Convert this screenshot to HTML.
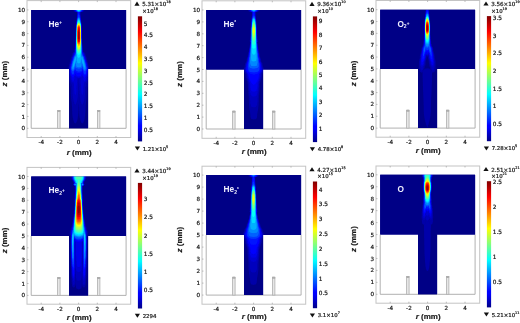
<!DOCTYPE html><html><head><meta charset="utf-8"><style>html,body{margin:0;padding:0;background:#fff;width:520px;height:323px;overflow:hidden}svg{display:block;filter:blur(0.3px)}</style></head><body><svg width="520" height="323" viewBox="0 0 520 323" font-family="'Liberation Sans', Arial, sans-serif"><style>.d{font-family:'DejaVu Sans',sans-serif;fill:#1a1a1a;stroke:#1a1a1a;stroke-width:0.22px}</style><defs><filter id="jf" x="0" y="0" width="520" height="323" filterUnits="userSpaceOnUse" color-interpolation-filters="sRGB"><feGaussianBlur stdDeviation="0.75"/><feComponentTransfer><feFuncR type="table" tableValues="0.000 0.000 0.000 0.000 0.000 0.000 0.000 0.000 0.000 0.000 0.000 0.000 0.000 0.000 0.000 0.000 0.000 0.000 0.000 0.000 0.000 0.000 0.000 0.000 0.000 0.000 0.000 0.000 0.000 0.000 0.000 0.000 0.000 0.000 0.000 0.000 0.000 0.000 0.020 0.059 0.102 0.141 0.180 0.220 0.263 0.302 0.341 0.380 0.424 0.463 0.502 0.541 0.580 0.620 0.663 0.702 0.741 0.780 0.820 0.859 0.902 0.941 0.980 1.000 1.000 1.000 1.000 1.000 1.000 1.000 1.000 1.000 1.000 1.000 1.000 1.000 1.000 1.000 1.000 1.000 1.000 1.000 1.000 1.000 1.000 1.000 1.000 1.000 0.980 0.941 0.902 0.859 0.820 0.780 0.741 0.702 0.663 0.620 0.580 0.541 0.502"/><feFuncG type="table" tableValues="0.000 0.000 0.000 0.000 0.000 0.000 0.000 0.000 0.000 0.000 0.000 0.000 0.000 0.020 0.059 0.098 0.141 0.180 0.220 0.259 0.302 0.341 0.380 0.420 0.459 0.502 0.541 0.580 0.620 0.659 0.698 0.741 0.780 0.820 0.859 0.898 0.941 0.980 1.000 1.000 1.000 1.000 1.000 1.000 1.000 1.000 1.000 1.000 1.000 1.000 1.000 1.000 1.000 1.000 1.000 1.000 1.000 1.000 1.000 1.000 1.000 1.000 1.000 0.980 0.941 0.898 0.859 0.820 0.780 0.741 0.702 0.659 0.620 0.580 0.541 0.502 0.459 0.420 0.380 0.341 0.298 0.259 0.220 0.180 0.141 0.102 0.059 0.020 0.000 0.000 0.000 0.000 0.000 0.000 0.000 0.000 0.000 0.000 0.000 0.000 0.000"/><feFuncB type="table" tableValues="0.529 0.573 0.616 0.659 0.702 0.745 0.784 0.827 0.871 0.914 0.957 1.000 1.000 1.000 1.000 1.000 1.000 1.000 1.000 1.000 1.000 1.000 1.000 1.000 1.000 1.000 1.000 1.000 1.000 1.000 1.000 1.000 1.000 1.000 1.000 1.000 1.000 1.000 0.980 0.941 0.902 0.859 0.820 0.780 0.741 0.702 0.663 0.620 0.580 0.541 0.502 0.463 0.424 0.380 0.341 0.302 0.263 0.220 0.180 0.141 0.102 0.059 0.020 0.000 0.000 0.000 0.000 0.000 0.000 0.000 0.000 0.000 0.000 0.000 0.000 0.000 0.000 0.000 0.000 0.000 0.000 0.000 0.000 0.000 0.000 0.000 0.000 0.000 0.000 0.000 0.000 0.000 0.000 0.000 0.000 0.000 0.000 0.000 0.000 0.000 0.000"/></feComponentTransfer></filter><linearGradient id="cb" x1="0" y1="0" x2="0" y2="1"><stop offset="0.000" stop-color="#800000"/><stop offset="0.125" stop-color="#ff0000"/><stop offset="0.375" stop-color="#ffff00"/><stop offset="0.500" stop-color="#80ff80"/><stop offset="0.625" stop-color="#00ffff"/><stop offset="0.875" stop-color="#0000ff"/><stop offset="0.890" stop-color="#0000ff"/><stop offset="1.000" stop-color="#000087"/></linearGradient><clipPath id="cp0"><path d="M31.20 9.90H126.10V69.10H88.10V128.30H69.00V69.10H31.20Z"/></clipPath><clipPath id="cp1"><path d="M206.20 10.00H301.10V69.50H263.10V129.00H244.00V69.50H206.20Z"/></clipPath><clipPath id="cp2"><path d="M380.20 9.70H475.10V68.90H437.10V128.10H418.00V68.90H380.20Z"/></clipPath><clipPath id="cp3"><path d="M31.20 176.50H126.10V235.95H88.10V295.40H69.00V235.95H31.20Z"/></clipPath><clipPath id="cp4"><path d="M206.20 175.10H301.10V235.10H263.10V295.10H244.00V235.10H206.20Z"/></clipPath><clipPath id="cp5"><path d="M380.20 174.80H475.10V234.55H437.10V294.30H418.00V234.55H380.20Z"/></clipPath></defs>
<rect x="27.00" y="0.60" width="103.70" height="136.90" fill="#fff" stroke="#c4c4c4" stroke-width="1"/>
<path d="M31.20 69.10 V128.30 H126.10 V69.10" fill="none" stroke="#a8a8a8" stroke-width="0.9"/>
<path d="M31.20 9.90H126.10V69.10H88.10V128.30H69.00V69.10H31.20Z" fill="#000087"/>
<g clip-path="url(#cp0)"><g filter="url(#jf)"><rect x="26.2" y="4.9" width="104.9" height="128.4" fill="#000"/><path fill="#080808" d="M72.5 8.5 72.8 9.4 73.2 10.3 73.5 11.2 75.3 12.1 78.8 12.9 78.8 12.9 82.3 12.1 84.1 11.2 84.4 10.3 84.8 9.4 85.1 8.5Z"/><path fill="#080808" d="M77.0 10.0 77.0 11.0 77.0 12.0 77.0 13.0 77.0 14.0 77.0 15.0 76.9 16.0 76.8 17.0 76.7 18.0 76.5 19.0 76.4 20.0 76.3 21.0 76.1 22.0 76.0 23.0 75.9 24.0 75.8 25.0 75.8 26.0 75.8 27.0 75.8 28.0 75.7 29.0 75.7 30.0 75.7 31.0 75.6 32.0 75.6 33.0 75.6 34.0 75.6 35.0 75.6 36.0 75.5 37.0 75.5 38.0 75.5 39.0 75.4 40.0 75.4 41.0 75.3 42.0 75.2 43.0 75.2 44.0 75.0 45.0 74.9 46.0 74.8 47.0 74.7 48.0 74.6 49.0 74.4 50.0 74.2 51.0 74.2 52.0 74.0 53.0 73.7 54.0 73.6 55.0 73.4 56.0 73.0 57.0 72.8 58.0 72.6 59.0 72.1 60.0 71.7 61.0 71.5 62.0 71.3 63.0 71.0 64.0 70.7 65.0 70.5 66.0 70.5 67.0 70.5 68.0 70.6 69.0 70.6 70.0 70.7 71.0 71.1 72.0 71.5 73.0 71.9 74.0 72.0 75.0 72.1 76.0 72.3 77.0 72.8 78.0 73.6 79.0 76.3 80.0 78.8 80.1 78.8 80.1 81.3 80.0 84.0 79.0 84.8 78.0 85.3 77.0 85.5 76.0 85.6 75.0 85.7 74.0 86.1 73.0 86.5 72.0 86.9 71.0 87.0 70.0 87.0 69.0 87.1 68.0 87.1 67.0 87.1 66.0 86.9 65.0 86.6 64.0 86.3 63.0 86.1 62.0 85.9 61.0 85.5 60.0 85.0 59.0 84.8 58.0 84.6 57.0 84.2 56.0 84.0 55.0 83.9 54.0 83.6 53.0 83.4 52.0 83.4 51.0 83.2 50.0 83.0 49.0 82.9 48.0 82.8 47.0 82.7 46.0 82.6 45.0 82.4 44.0 82.4 43.0 82.3 42.0 82.2 41.0 82.2 40.0 82.1 39.0 82.1 38.0 82.1 37.0 82.0 36.0 82.0 35.0 82.0 34.0 82.0 33.0 82.0 32.0 81.9 31.0 81.9 30.0 81.9 29.0 81.8 28.0 81.8 27.0 81.8 26.0 81.8 25.0 81.7 24.0 81.6 23.0 81.5 22.0 81.3 21.0 81.2 20.0 81.1 19.0 80.9 18.0 80.8 17.0 80.7 16.0 80.6 15.0 80.6 14.0 80.6 13.0 80.6 12.0 80.6 11.0 80.6 10.0Z"/><path fill="#080808" d="M80.1 50.5 77.9 51.0 76.6 52.0 76.4 53.0 76.3 54.0 76.5 55.0 76.8 56.0 77.2 57.0 77.3 58.0 77.5 59.0 77.9 60.0 78.2 61.0 78.4 62.0 78.6 63.0 79.0 64.0 79.2 65.0 79.4 66.0 79.8 67.0 80.0 68.0 80.0 69.0 80.1 70.0 80.3 71.0 80.3 72.0 80.3 73.0 80.3 74.0 80.3 75.0 80.4 76.0 80.4 77.0 80.5 78.0 80.5 79.0 80.5 80.0 80.6 81.0 80.7 82.0 80.8 83.0 81.0 84.0 81.1 85.0 81.1 86.0 81.3 87.0 81.5 88.0 81.9 89.0 82.7 90.0 84.3 90.7 84.3 90.7 85.9 90.0 86.7 89.0 87.1 88.0 87.3 87.0 87.5 86.0 87.5 85.0 87.7 84.0 87.9 83.0 88.1 82.0 88.4 81.0 88.6 80.0 88.7 79.0 88.7 78.0 88.8 77.0 88.9 76.0 89.1 75.0 89.2 74.0 89.2 73.0 89.3 72.0 89.3 71.0 89.3 70.0 89.2 69.0 89.2 68.0 89.0 67.0 88.7 66.0 88.6 65.0 88.4 64.0 88.0 63.0 87.8 62.0 87.6 61.0 87.2 60.0 86.8 59.0 86.7 58.0 86.4 57.0 86.0 56.0 85.5 55.0 85.3 54.0 85.0 53.0 84.2 52.0 82.4 51.0 80.1 50.5Z"/><path fill="#080808" d="M77.5 50.5 75.2 51.0 73.4 52.0 72.6 53.0 72.3 54.0 72.1 55.0 71.6 56.0 71.2 57.0 70.9 58.0 70.8 59.0 70.4 60.0 70.0 61.0 69.8 62.0 69.6 63.0 69.2 64.0 69.0 65.0 68.9 66.0 68.6 67.0 68.4 68.0 68.4 69.0 68.3 70.0 68.3 71.0 68.3 72.0 68.4 73.0 68.4 74.0 68.5 75.0 68.7 76.0 68.8 77.0 68.9 78.0 68.9 79.0 69.0 80.0 69.2 81.0 69.5 82.0 69.7 83.0 69.9 84.0 70.1 85.0 70.1 86.0 70.3 87.0 70.5 88.0 70.9 89.0 71.7 90.0 73.3 90.7 73.3 90.7 74.9 90.0 75.7 89.0 76.1 88.0 76.3 87.0 76.5 86.0 76.5 85.0 76.6 84.0 76.8 83.0 76.9 82.0 77.0 81.0 77.1 80.0 77.1 79.0 77.1 78.0 77.2 77.0 77.2 76.0 77.3 75.0 77.3 74.0 77.3 73.0 77.3 72.0 77.3 71.0 77.5 70.0 77.6 69.0 77.6 68.0 77.8 67.0 78.2 66.0 78.4 65.0 78.6 64.0 79.0 63.0 79.2 62.0 79.4 61.0 79.7 60.0 80.1 59.0 80.3 58.0 80.4 57.0 80.8 56.0 81.1 55.0 81.3 54.0 81.2 53.0 81.0 52.0 79.7 51.0 77.5 50.5Z"/><path fill="#080808" d="M82.3 65.9 81.0 66.0 78.6 67.0 77.8 68.0 77.3 69.0 77.2 70.0 77.2 71.0 77.2 72.0 77.2 73.0 77.2 74.0 77.3 75.0 77.3 76.0 77.3 77.0 77.4 78.0 77.4 79.0 77.4 80.0 77.5 81.0 77.5 82.0 77.5 83.0 77.6 84.0 77.6 85.0 77.6 86.0 77.7 87.0 77.7 88.0 77.7 89.0 77.7 90.0 77.7 91.0 77.7 92.0 77.7 93.0 77.8 94.0 77.8 95.0 77.9 96.0 78.0 97.0 78.1 98.0 78.1 99.0 78.2 100.0 78.3 101.0 78.5 102.0 78.6 103.0 78.7 104.0 78.8 105.0 78.9 106.0 79.0 107.0 79.1 108.0 79.1 109.0 79.1 110.0 79.1 111.0 79.2 112.0 79.2 113.0 79.3 114.0 79.4 115.0 79.5 116.0 79.7 117.0 79.8 118.0 80.1 119.0 80.3 120.0 80.6 121.0 81.0 122.0 81.5 123.0 82.3 123.5 82.3 123.5 83.1 123.0 83.6 122.0 84.0 121.0 84.3 120.0 84.5 119.0 84.8 118.0 84.9 117.0 85.1 116.0 85.2 115.0 85.3 114.0 85.4 113.0 85.4 112.0 85.5 111.0 85.5 110.0 85.5 109.0 85.5 108.0 85.6 107.0 85.7 106.0 85.8 105.0 85.9 104.0 86.0 103.0 86.1 102.0 86.3 101.0 86.4 100.0 86.5 99.0 86.5 98.0 86.6 97.0 86.7 96.0 86.8 95.0 86.8 94.0 86.9 93.0 86.9 92.0 86.9 91.0 86.9 90.0 86.9 89.0 86.9 88.0 86.9 87.0 87.0 86.0 87.0 85.0 87.0 84.0 87.1 83.0 87.1 82.0 87.1 81.0 87.2 80.0 87.2 79.0 87.2 78.0 87.3 77.0 87.3 76.0 87.3 75.0 87.4 74.0 87.4 73.0 87.4 72.0 87.4 71.0 87.4 70.0 87.3 69.0 86.8 68.0 86.0 67.0 83.6 66.0 82.3 65.9Z"/><path fill="#080808" d="M75.3 65.9 74.0 66.0 71.6 67.0 70.8 68.0 70.3 69.0 70.2 70.0 70.2 71.0 70.2 72.0 70.2 73.0 70.2 74.0 70.3 75.0 70.3 76.0 70.3 77.0 70.4 78.0 70.4 79.0 70.4 80.0 70.5 81.0 70.5 82.0 70.5 83.0 70.6 84.0 70.6 85.0 70.6 86.0 70.7 87.0 70.7 88.0 70.7 89.0 70.7 90.0 70.7 91.0 70.7 92.0 70.7 93.0 70.8 94.0 70.8 95.0 70.9 96.0 71.0 97.0 71.1 98.0 71.1 99.0 71.2 100.0 71.3 101.0 71.5 102.0 71.6 103.0 71.7 104.0 71.8 105.0 71.9 106.0 72.0 107.0 72.1 108.0 72.1 109.0 72.1 110.0 72.1 111.0 72.2 112.0 72.2 113.0 72.3 114.0 72.4 115.0 72.5 116.0 72.7 117.0 72.8 118.0 73.1 119.0 73.3 120.0 73.6 121.0 74.0 122.0 74.5 123.0 75.3 123.5 75.3 123.5 76.1 123.0 76.6 122.0 77.0 121.0 77.3 120.0 77.5 119.0 77.8 118.0 77.9 117.0 78.1 116.0 78.2 115.0 78.3 114.0 78.4 113.0 78.4 112.0 78.5 111.0 78.5 110.0 78.5 109.0 78.5 108.0 78.6 107.0 78.7 106.0 78.8 105.0 78.9 104.0 79.0 103.0 79.1 102.0 79.3 101.0 79.4 100.0 79.5 99.0 79.5 98.0 79.6 97.0 79.7 96.0 79.8 95.0 79.8 94.0 79.9 93.0 79.9 92.0 79.9 91.0 79.9 90.0 79.9 89.0 79.9 88.0 79.9 87.0 80.0 86.0 80.0 85.0 80.0 84.0 80.1 83.0 80.1 82.0 80.1 81.0 80.2 80.0 80.2 79.0 80.2 78.0 80.3 77.0 80.3 76.0 80.3 75.0 80.4 74.0 80.4 73.0 80.4 72.0 80.4 71.0 80.4 70.0 80.3 69.0 79.8 68.0 79.0 67.0 76.6 66.0 75.3 65.9Z"/><path fill="#0d0d0d" d="M73.3 8.5 73.5 9.4 73.9 10.3 74.2 11.2 76.0 12.1 78.8 12.7 78.8 12.7 81.6 12.1 83.4 11.2 83.7 10.3 84.1 9.4 84.3 8.5Z"/><path fill="#0d0d0d" d="M77.3 10.0 77.3 11.0 77.3 12.0 77.3 13.0 77.3 14.0 77.2 15.0 77.1 16.0 77.0 17.0 76.9 18.0 76.7 19.0 76.6 20.0 76.5 21.0 76.4 22.0 76.2 23.0 76.1 24.0 76.0 25.0 76.0 26.0 76.0 27.0 75.9 28.0 75.9 29.0 75.9 30.0 75.9 31.0 75.8 32.0 75.8 33.0 75.8 34.0 75.8 35.0 75.8 36.0 75.7 37.0 75.7 38.0 75.7 39.0 75.6 40.0 75.6 41.0 75.6 42.0 75.5 43.0 75.4 44.0 75.3 45.0 75.2 46.0 75.1 47.0 75.0 48.0 74.9 49.0 74.8 50.0 74.6 51.0 74.5 52.0 74.4 53.0 74.1 54.0 74.0 55.0 73.9 56.0 73.5 57.0 73.3 58.0 73.1 59.0 72.7 60.0 72.3 61.0 72.2 62.0 72.0 63.0 71.7 64.0 71.5 65.0 71.3 66.0 71.4 67.0 71.4 68.0 71.5 69.0 71.6 70.0 71.7 71.0 72.1 72.0 72.5 73.0 72.9 74.0 73.1 75.0 73.2 76.0 73.6 77.0 74.3 78.0 76.4 79.0 78.8 79.2 78.8 79.2 81.2 79.0 83.3 78.0 84.0 77.0 84.4 76.0 84.5 75.0 84.7 74.0 85.1 73.0 85.5 72.0 85.9 71.0 86.0 70.0 86.1 69.0 86.2 68.0 86.2 67.0 86.3 66.0 86.1 65.0 85.9 64.0 85.6 63.0 85.4 62.0 85.3 61.0 84.9 60.0 84.5 59.0 84.3 58.0 84.1 57.0 83.7 56.0 83.6 55.0 83.5 54.0 83.2 53.0 83.1 52.0 83.0 51.0 82.8 50.0 82.7 49.0 82.6 48.0 82.5 47.0 82.4 46.0 82.3 45.0 82.2 44.0 82.1 43.0 82.0 42.0 82.0 41.0 82.0 40.0 81.9 39.0 81.9 38.0 81.9 37.0 81.8 36.0 81.8 35.0 81.8 34.0 81.8 33.0 81.8 32.0 81.7 31.0 81.7 30.0 81.7 29.0 81.7 28.0 81.6 27.0 81.6 26.0 81.6 25.0 81.5 24.0 81.4 23.0 81.2 22.0 81.1 21.0 81.0 20.0 80.9 19.0 80.7 18.0 80.6 17.0 80.5 16.0 80.4 15.0 80.3 14.0 80.3 13.0 80.3 12.0 80.3 11.0 80.3 10.0Z"/><path fill="#0d0d0d" d="M80.4 51.0 77.4 52.0 77.1 53.0 77.0 54.0 77.2 55.0 77.5 56.0 77.8 57.0 78.0 58.0 78.2 59.0 78.5 60.0 78.9 61.0 79.1 62.0 79.3 63.0 79.7 64.0 79.9 65.0 80.1 66.0 80.5 67.0 80.7 68.0 80.7 69.0 80.8 70.0 81.0 71.0 81.1 72.0 81.1 73.0 81.1 74.0 81.2 75.0 81.3 76.0 81.4 77.0 81.5 78.0 81.5 79.0 81.6 80.0 81.7 81.0 81.9 82.0 82.2 83.0 82.5 84.0 82.7 85.0 82.8 86.0 83.2 87.0 84.3 87.9 84.3 87.9 85.4 87.0 85.8 86.0 85.9 85.0 86.1 84.0 86.5 83.0 86.9 82.0 87.2 81.0 87.5 80.0 87.7 79.0 87.7 78.0 87.8 77.0 88.0 76.0 88.2 75.0 88.4 74.0 88.5 73.0 88.5 72.0 88.5 71.0 88.6 70.0 88.6 69.0 88.5 68.0 88.4 67.0 88.1 66.0 87.9 65.0 87.7 64.0 87.3 63.0 87.1 62.0 87.0 61.0 86.6 60.0 86.2 59.0 86.0 58.0 85.8 57.0 85.3 56.0 84.8 55.0 84.6 54.0 84.3 53.0 83.4 52.0 80.4 51.0Z"/><path fill="#0d0d0d" d="M77.2 51.0 74.2 52.0 73.3 53.0 73.0 54.0 72.8 55.0 72.3 56.0 71.8 57.0 71.6 58.0 71.4 59.0 71.0 60.0 70.6 61.0 70.5 62.0 70.3 63.0 69.9 64.0 69.7 65.0 69.5 66.0 69.2 67.0 69.1 68.0 69.0 69.0 69.0 70.0 69.1 71.0 69.1 72.0 69.1 73.0 69.2 74.0 69.4 75.0 69.6 76.0 69.8 77.0 69.9 78.0 69.9 79.0 70.1 80.0 70.4 81.0 70.7 82.0 71.1 83.0 71.5 84.0 71.7 85.0 71.8 86.0 72.2 87.0 73.3 87.9 73.3 87.9 74.4 87.0 74.8 86.0 74.9 85.0 75.1 84.0 75.4 83.0 75.7 82.0 75.9 81.0 76.0 80.0 76.1 79.0 76.1 78.0 76.2 77.0 76.3 76.0 76.4 75.0 76.5 74.0 76.5 73.0 76.5 72.0 76.6 71.0 76.8 70.0 76.9 69.0 76.9 68.0 77.1 67.0 77.5 66.0 77.7 65.0 77.9 64.0 78.3 63.0 78.5 62.0 78.7 61.0 79.1 60.0 79.4 59.0 79.6 58.0 79.8 57.0 80.1 56.0 80.4 55.0 80.6 54.0 80.5 53.0 80.2 52.0 77.2 51.0Z"/><path fill="#0d0d0d" d="M82.3 66.9 81.3 67.0 79.4 68.0 78.8 69.0 78.6 70.0 78.6 71.0 78.6 72.0 78.7 73.0 78.7 74.0 78.7 75.0 78.7 76.0 78.8 77.0 78.8 78.0 78.9 79.0 78.9 80.0 79.0 81.0 79.0 82.0 79.1 83.0 79.2 84.0 79.2 85.0 79.2 86.0 79.3 87.0 79.3 88.0 79.3 89.0 79.3 90.0 79.4 91.0 79.4 92.0 79.4 93.0 79.5 94.0 79.6 95.0 79.7 96.0 79.8 97.0 79.9 98.0 80.1 99.0 80.3 100.0 80.5 101.0 80.8 102.0 81.1 103.0 81.5 104.0 82.3 104.8 82.3 104.8 83.1 104.0 83.5 103.0 83.8 102.0 84.1 101.0 84.3 100.0 84.5 99.0 84.7 98.0 84.8 97.0 84.9 96.0 85.0 95.0 85.1 94.0 85.2 93.0 85.2 92.0 85.2 91.0 85.3 90.0 85.3 89.0 85.3 88.0 85.3 87.0 85.4 86.0 85.4 85.0 85.4 84.0 85.5 83.0 85.6 82.0 85.6 81.0 85.7 80.0 85.7 79.0 85.8 78.0 85.8 77.0 85.9 76.0 85.9 75.0 85.9 74.0 85.9 73.0 86.0 72.0 86.0 71.0 86.0 70.0 85.8 69.0 85.2 68.0 83.3 67.0 82.3 66.9Z"/><path fill="#0d0d0d" d="M75.3 66.9 74.3 67.0 72.4 68.0 71.8 69.0 71.6 70.0 71.6 71.0 71.6 72.0 71.7 73.0 71.7 74.0 71.7 75.0 71.7 76.0 71.8 77.0 71.8 78.0 71.9 79.0 71.9 80.0 72.0 81.0 72.0 82.0 72.1 83.0 72.2 84.0 72.2 85.0 72.2 86.0 72.3 87.0 72.3 88.0 72.3 89.0 72.3 90.0 72.4 91.0 72.4 92.0 72.4 93.0 72.5 94.0 72.6 95.0 72.7 96.0 72.8 97.0 72.9 98.0 73.1 99.0 73.3 100.0 73.5 101.0 73.8 102.0 74.1 103.0 74.5 104.0 75.3 104.8 75.3 104.8 76.1 104.0 76.5 103.0 76.8 102.0 77.1 101.0 77.3 100.0 77.5 99.0 77.7 98.0 77.8 97.0 77.9 96.0 78.0 95.0 78.1 94.0 78.2 93.0 78.2 92.0 78.2 91.0 78.3 90.0 78.3 89.0 78.3 88.0 78.3 87.0 78.4 86.0 78.4 85.0 78.4 84.0 78.5 83.0 78.6 82.0 78.6 81.0 78.7 80.0 78.7 79.0 78.8 78.0 78.8 77.0 78.9 76.0 78.9 75.0 78.9 74.0 78.9 73.0 79.0 72.0 79.0 71.0 79.0 70.0 78.8 69.0 78.2 68.0 76.3 67.0 75.3 66.9Z"/><path fill="#121212" d="M73.8 8.5 74.0 9.4 74.4 10.3 74.7 11.2 76.6 12.1 78.8 12.6 78.8 12.6 81.0 12.1 82.9 11.2 83.2 10.3 83.6 9.4 83.8 8.5Z"/><path fill="#121212" d="M77.5 10.0 77.4 11.0 77.4 12.0 77.4 13.0 77.4 14.0 77.4 15.0 77.2 16.0 77.2 17.0 77.0 18.0 76.9 19.0 76.8 20.0 76.6 21.0 76.5 22.0 76.4 23.0 76.2 24.0 76.2 25.0 76.1 26.0 76.1 27.0 76.1 28.0 76.1 29.0 76.0 30.0 76.0 31.0 76.0 32.0 76.0 33.0 75.9 34.0 75.9 35.0 75.9 36.0 75.9 37.0 75.9 38.0 75.8 39.0 75.8 40.0 75.7 41.0 75.7 42.0 75.6 43.0 75.6 44.0 75.4 45.0 75.4 46.0 75.3 47.0 75.2 48.0 75.1 49.0 75.0 50.0 74.8 51.0 74.8 52.0 74.6 53.0 74.4 54.0 74.4 55.0 74.2 56.0 73.9 57.0 73.7 58.0 73.5 59.0 73.2 60.0 72.8 61.0 72.6 62.0 72.5 63.0 72.3 64.0 72.0 65.0 71.9 66.0 72.0 67.0 72.1 68.0 72.2 69.0 72.3 70.0 72.4 71.0 72.8 72.0 73.3 73.0 73.8 74.0 74.0 75.0 74.2 76.0 74.7 77.0 76.1 78.0 78.8 78.3 78.8 78.3 81.5 78.0 82.9 77.0 83.4 76.0 83.6 75.0 83.8 74.0 84.3 73.0 84.8 72.0 85.2 71.0 85.3 70.0 85.4 69.0 85.5 68.0 85.6 67.0 85.7 66.0 85.6 65.0 85.3 64.0 85.1 63.0 85.0 62.0 84.8 61.0 84.4 60.0 84.1 59.0 83.9 58.0 83.7 57.0 83.4 56.0 83.2 55.0 83.2 54.0 83.0 53.0 82.8 52.0 82.8 51.0 82.6 50.0 82.5 49.0 82.4 48.0 82.3 47.0 82.2 46.0 82.2 45.0 82.0 44.0 82.0 43.0 81.9 42.0 81.9 41.0 81.8 40.0 81.8 39.0 81.7 38.0 81.7 37.0 81.7 36.0 81.7 35.0 81.7 34.0 81.6 33.0 81.6 32.0 81.6 31.0 81.6 30.0 81.5 29.0 81.5 28.0 81.5 27.0 81.5 26.0 81.4 25.0 81.4 24.0 81.2 23.0 81.1 22.0 81.0 21.0 80.8 20.0 80.7 19.0 80.6 18.0 80.4 17.0 80.4 16.0 80.2 15.0 80.2 14.0 80.2 13.0 80.2 12.0 80.2 11.0 80.1 10.0Z"/><path fill="#121212" d="M80.4 51.3 78.0 52.0 77.6 53.0 77.5 54.0 77.6 55.0 77.9 56.0 78.3 57.0 78.4 58.0 78.6 59.0 78.9 60.0 79.3 61.0 79.5 62.0 79.7 63.0 80.1 64.0 80.3 65.0 80.5 66.0 80.9 67.0 81.1 68.0 81.2 69.0 81.3 70.0 81.5 71.0 81.6 72.0 81.6 73.0 81.7 74.0 81.8 75.0 82.0 76.0 82.2 77.0 82.3 78.0 82.3 79.0 82.4 80.0 82.7 81.0 83.1 82.0 84.4 83.0 84.4 83.0 85.7 82.0 86.3 81.0 86.6 80.0 86.8 79.0 86.9 78.0 87.1 77.0 87.4 76.0 87.6 75.0 87.8 74.0 87.9 73.0 88.0 72.0 88.0 71.0 88.1 70.0 88.1 69.0 88.1 68.0 87.9 67.0 87.7 66.0 87.5 65.0 87.3 64.0 86.9 63.0 86.7 62.0 86.5 61.0 86.2 60.0 85.8 59.0 85.6 58.0 85.4 57.0 84.9 56.0 84.4 55.0 84.1 54.0 83.8 53.0 82.8 52.0 80.4 51.3Z"/><path fill="#121212" d="M77.2 51.3 74.8 52.0 73.8 53.0 73.5 54.0 73.2 55.0 72.7 56.0 72.2 57.0 72.0 58.0 71.8 59.0 71.4 60.0 71.1 61.0 70.9 62.0 70.7 63.0 70.3 64.0 70.1 65.0 69.9 66.0 69.7 67.0 69.5 68.0 69.5 69.0 69.5 70.0 69.6 71.0 69.6 72.0 69.7 73.0 69.8 74.0 70.0 75.0 70.2 76.0 70.5 77.0 70.7 78.0 70.8 79.0 71.0 80.0 71.3 81.0 71.9 82.0 73.2 83.0 73.2 83.0 74.5 82.0 74.9 81.0 75.2 80.0 75.3 79.0 75.3 78.0 75.4 77.0 75.6 76.0 75.8 75.0 75.9 74.0 76.0 73.0 76.0 72.0 76.1 71.0 76.3 70.0 76.4 69.0 76.5 68.0 76.7 67.0 77.1 66.0 77.3 65.0 77.5 64.0 77.9 63.0 78.1 62.0 78.3 61.0 78.7 60.0 79.0 59.0 79.2 58.0 79.3 57.0 79.7 56.0 80.0 55.0 80.1 54.0 80.0 53.0 79.6 52.0 77.2 51.3Z"/><path fill="#121212" d="M82.3 67.9 81.4 68.0 80.1 69.0 79.8 70.0 79.8 71.0 79.8 72.0 79.8 73.0 79.9 74.0 79.9 75.0 80.0 76.0 80.1 77.0 80.1 78.0 80.2 79.0 80.3 80.0 80.4 81.0 80.5 82.0 80.6 83.0 80.7 84.0 80.8 85.0 80.9 86.0 81.0 87.0 81.0 88.0 81.1 89.0 81.1 90.0 81.1 91.0 81.2 92.0 81.3 93.0 81.6 94.0 82.0 95.0 82.3 95.2 82.3 95.2 82.6 95.0 83.0 94.0 83.3 93.0 83.4 92.0 83.5 91.0 83.5 90.0 83.5 89.0 83.6 88.0 83.6 87.0 83.7 86.0 83.8 85.0 83.9 84.0 84.0 83.0 84.1 82.0 84.2 81.0 84.3 80.0 84.4 79.0 84.5 78.0 84.5 77.0 84.6 76.0 84.7 75.0 84.7 74.0 84.8 73.0 84.8 72.0 84.8 71.0 84.8 70.0 84.5 69.0 83.2 68.0 82.3 67.9Z"/><path fill="#121212" d="M75.3 67.9 74.4 68.0 73.1 69.0 72.8 70.0 72.8 71.0 72.8 72.0 72.8 73.0 72.9 74.0 72.9 75.0 73.0 76.0 73.1 77.0 73.1 78.0 73.2 79.0 73.3 80.0 73.4 81.0 73.5 82.0 73.6 83.0 73.7 84.0 73.8 85.0 73.9 86.0 74.0 87.0 74.0 88.0 74.1 89.0 74.1 90.0 74.1 91.0 74.2 92.0 74.3 93.0 74.6 94.0 75.0 95.0 75.3 95.2 75.3 95.2 75.6 95.0 76.0 94.0 76.3 93.0 76.4 92.0 76.5 91.0 76.5 90.0 76.5 89.0 76.6 88.0 76.6 87.0 76.7 86.0 76.8 85.0 76.9 84.0 77.0 83.0 77.1 82.0 77.2 81.0 77.3 80.0 77.4 79.0 77.5 78.0 77.5 77.0 77.6 76.0 77.7 75.0 77.7 74.0 77.8 73.0 77.8 72.0 77.8 71.0 77.8 70.0 77.5 69.0 76.2 68.0 75.3 67.9Z"/><path fill="#171717" d="M74.2 8.5 74.4 9.4 74.7 10.3 75.1 11.2 77.0 12.1 78.8 12.5 78.8 12.5 80.6 12.1 82.5 11.2 82.9 10.3 83.2 9.4 83.4 8.5Z"/><path fill="#171717" d="M77.6 10.0 77.6 11.0 77.6 12.0 77.6 13.0 77.6 14.0 77.5 15.0 77.4 16.0 77.3 17.0 77.2 18.0 77.0 19.0 76.9 20.0 76.8 21.0 76.6 22.0 76.5 23.0 76.4 24.0 76.3 25.0 76.2 26.0 76.2 27.0 76.2 28.0 76.2 29.0 76.1 30.0 76.1 31.0 76.1 32.0 76.1 33.0 76.0 34.0 76.0 35.0 76.0 36.0 76.0 37.0 76.0 38.0 75.9 39.0 75.9 40.0 75.8 41.0 75.8 42.0 75.7 43.0 75.7 44.0 75.6 45.0 75.5 46.0 75.4 47.0 75.3 48.0 75.3 49.0 75.2 50.0 75.0 51.0 75.0 52.0 74.8 53.0 74.7 54.0 74.6 55.0 74.5 56.0 74.2 57.0 74.0 58.0 73.9 59.0 73.5 60.0 73.2 61.0 73.0 62.0 72.9 63.0 72.7 64.0 72.5 65.0 72.4 66.0 72.5 67.0 72.6 68.0 72.8 69.0 72.9 70.0 73.1 71.0 73.5 72.0 74.1 73.0 74.6 74.0 74.9 75.0 75.2 76.0 76.2 77.0 78.8 77.4 78.8 77.4 81.4 77.0 82.4 76.0 82.7 75.0 83.0 74.0 83.5 73.0 84.1 72.0 84.5 71.0 84.7 70.0 84.8 69.0 85.0 68.0 85.1 67.0 85.2 66.0 85.1 65.0 84.9 64.0 84.7 63.0 84.6 62.0 84.4 61.0 84.1 60.0 83.7 59.0 83.6 58.0 83.4 57.0 83.1 56.0 83.0 55.0 82.9 54.0 82.8 53.0 82.6 52.0 82.6 51.0 82.4 50.0 82.3 49.0 82.3 48.0 82.2 47.0 82.1 46.0 82.0 45.0 81.9 44.0 81.9 43.0 81.8 42.0 81.8 41.0 81.7 40.0 81.7 39.0 81.6 38.0 81.6 37.0 81.6 36.0 81.6 35.0 81.6 34.0 81.5 33.0 81.5 32.0 81.5 31.0 81.5 30.0 81.4 29.0 81.4 28.0 81.4 27.0 81.4 26.0 81.3 25.0 81.2 24.0 81.1 23.0 81.0 22.0 80.8 21.0 80.7 20.0 80.6 19.0 80.4 18.0 80.3 17.0 80.2 16.0 80.1 15.0 80.0 14.0 80.0 13.0 80.0 12.0 80.0 11.0 80.0 10.0Z"/><path fill="#171717" d="M80.4 51.5 78.6 52.0 77.9 53.0 77.8 54.0 78.0 55.0 78.3 56.0 78.6 57.0 78.7 58.0 78.9 59.0 79.3 60.0 79.6 61.0 79.8 62.0 80.0 63.0 80.4 64.0 80.6 65.0 80.9 66.0 81.2 67.0 81.4 68.0 81.5 69.0 81.7 70.0 81.9 71.0 82.0 72.0 82.1 73.0 82.1 74.0 82.3 75.0 82.6 76.0 82.9 77.0 83.1 78.0 83.1 79.0 83.4 80.0 84.3 81.0 84.4 81.0 84.4 81.0 84.7 81.0 85.7 80.0 86.0 79.0 86.1 78.0 86.3 77.0 86.7 76.0 87.1 75.0 87.4 74.0 87.5 73.0 87.6 72.0 87.6 71.0 87.7 70.0 87.8 69.0 87.8 68.0 87.6 67.0 87.3 66.0 87.2 65.0 87.0 64.0 86.6 63.0 86.4 62.0 86.2 61.0 85.8 60.0 85.4 59.0 85.3 58.0 85.0 57.0 84.5 56.0 84.0 55.0 83.8 54.0 83.4 53.0 82.2 52.0 80.4 51.5Z"/><path fill="#171717" d="M77.2 51.5 75.4 52.0 74.2 53.0 73.8 54.0 73.6 55.0 73.1 56.0 72.6 57.0 72.3 58.0 72.2 59.0 71.8 60.0 71.4 61.0 71.2 62.0 71.0 63.0 70.6 64.0 70.4 65.0 70.3 66.0 70.0 67.0 69.8 68.0 69.8 69.0 69.9 70.0 70.0 71.0 70.0 72.0 70.1 73.0 70.2 74.0 70.5 75.0 70.9 76.0 71.3 77.0 71.5 78.0 71.6 79.0 71.9 80.0 72.9 81.0 73.2 81.0 73.2 81.0 73.3 81.0 74.2 80.0 74.5 79.0 74.5 78.0 74.7 77.0 75.0 76.0 75.3 75.0 75.5 74.0 75.5 73.0 75.6 72.0 75.7 71.0 75.9 70.0 76.1 69.0 76.2 68.0 76.4 67.0 76.7 66.0 77.0 65.0 77.2 64.0 77.6 63.0 77.8 62.0 78.0 61.0 78.3 60.0 78.7 59.0 78.9 58.0 79.0 57.0 79.3 56.0 79.6 55.0 79.8 54.0 79.7 53.0 79.0 52.0 77.2 51.5Z"/><path fill="#171717" d="M82.3 69.2 81.3 70.0 81.3 71.0 81.3 72.0 81.4 73.0 81.5 74.0 81.7 75.0 81.9 76.0 82.3 76.5 82.3 76.5 82.7 76.0 82.9 75.0 83.1 74.0 83.2 73.0 83.3 72.0 83.3 71.0 83.3 70.0 82.3 69.2Z"/><path fill="#171717" d="M75.3 69.2 74.3 70.0 74.3 71.0 74.3 72.0 74.4 73.0 74.5 74.0 74.7 75.0 74.9 76.0 75.3 76.5 75.3 76.5 75.7 76.0 75.9 75.0 76.1 74.0 76.2 73.0 76.3 72.0 76.3 71.0 76.3 70.0 75.3 69.2Z"/><path fill="#1d1d1d" d="M74.6 8.5 74.7 9.4 75.1 10.3 75.4 11.2 77.5 12.1 78.8 12.3 78.8 12.3 80.1 12.1 82.2 11.2 82.5 10.3 82.9 9.4 83.0 8.5Z"/><path fill="#1d1d1d" d="M77.8 10.0 77.8 11.0 77.7 12.0 77.7 13.0 77.7 14.0 77.6 15.0 77.5 16.0 77.5 17.0 77.3 18.0 77.1 19.0 77.0 20.0 76.9 21.0 76.7 22.0 76.6 23.0 76.4 24.0 76.4 25.0 76.3 26.0 76.3 27.0 76.3 28.0 76.2 29.0 76.2 30.0 76.2 31.0 76.1 32.0 76.1 33.0 76.1 34.0 76.1 35.0 76.1 36.0 76.1 37.0 76.1 38.0 76.0 39.0 76.0 40.0 75.9 41.0 75.9 42.0 75.9 43.0 75.8 44.0 75.7 45.0 75.7 46.0 75.6 47.0 75.5 48.0 75.4 49.0 75.3 50.0 75.2 51.0 75.2 52.0 75.0 53.0 74.9 54.0 74.8 55.0 74.7 56.0 74.4 57.0 74.3 58.0 74.1 59.0 73.8 60.0 73.5 61.0 73.4 62.0 73.3 63.0 73.1 64.0 72.9 65.0 72.8 66.0 72.9 67.0 73.1 68.0 73.4 69.0 73.5 70.0 73.7 71.0 74.2 72.0 74.9 73.0 75.7 74.0 76.2 75.0 76.9 76.0 78.8 76.2 78.8 76.2 80.7 76.0 81.4 75.0 81.9 74.0 82.7 73.0 83.4 72.0 83.9 71.0 84.1 70.0 84.2 69.0 84.5 68.0 84.7 67.0 84.8 66.0 84.7 65.0 84.5 64.0 84.3 63.0 84.2 62.0 84.1 61.0 83.8 60.0 83.5 59.0 83.3 58.0 83.2 57.0 82.9 56.0 82.8 55.0 82.7 54.0 82.6 53.0 82.4 52.0 82.4 51.0 82.3 50.0 82.2 49.0 82.1 48.0 82.0 47.0 81.9 46.0 81.9 45.0 81.8 44.0 81.7 43.0 81.7 42.0 81.7 41.0 81.6 40.0 81.6 39.0 81.5 38.0 81.5 37.0 81.5 36.0 81.5 35.0 81.5 34.0 81.5 33.0 81.5 32.0 81.4 31.0 81.4 30.0 81.4 29.0 81.3 28.0 81.3 27.0 81.3 26.0 81.2 25.0 81.2 24.0 81.0 23.0 80.9 22.0 80.7 21.0 80.6 20.0 80.5 19.0 80.3 18.0 80.1 17.0 80.1 16.0 80.0 15.0 79.9 14.0 79.9 13.0 79.9 12.0 79.8 11.0 79.8 10.0Z"/><path fill="#1d1d1d" d="M80.4 51.8 79.2 52.0 78.3 53.0 78.2 54.0 78.3 55.0 78.6 56.0 78.9 57.0 79.0 58.0 79.2 59.0 79.6 60.0 79.9 61.0 80.1 62.0 80.3 63.0 80.7 64.0 80.9 65.0 81.1 66.0 81.5 67.0 81.7 68.0 81.8 69.0 82.0 70.0 82.3 71.0 82.4 72.0 82.5 73.0 82.6 74.0 82.8 75.0 83.2 76.0 83.8 77.0 84.6 78.0 84.6 78.0 85.4 77.0 86.1 76.0 86.6 75.0 86.9 74.0 87.1 73.0 87.2 72.0 87.3 71.0 87.4 70.0 87.5 69.0 87.5 68.0 87.3 67.0 87.0 66.0 86.9 65.0 86.7 64.0 86.3 63.0 86.1 62.0 85.9 61.0 85.5 60.0 85.1 59.0 85.0 58.0 84.7 57.0 84.2 56.0 83.7 55.0 83.4 54.0 83.1 53.0 81.6 52.0 80.4 51.8Z"/><path fill="#1d1d1d" d="M77.2 51.8 76.0 52.0 74.5 53.0 74.2 54.0 73.9 55.0 73.4 56.0 72.9 57.0 72.6 58.0 72.5 59.0 72.1 60.0 71.7 61.0 71.5 62.0 71.3 63.0 70.9 64.0 70.7 65.0 70.6 66.0 70.3 67.0 70.1 68.0 70.1 69.0 70.2 70.0 70.3 71.0 70.4 72.0 70.5 73.0 70.7 74.0 71.0 75.0 71.5 76.0 72.2 77.0 73.0 78.0 73.0 78.0 73.8 77.0 74.4 76.0 74.8 75.0 75.0 74.0 75.1 73.0 75.2 72.0 75.3 71.0 75.6 70.0 75.8 69.0 75.9 68.0 76.1 67.0 76.5 66.0 76.7 65.0 76.9 64.0 77.3 63.0 77.5 62.0 77.7 61.0 78.0 60.0 78.4 59.0 78.6 58.0 78.7 57.0 79.0 56.0 79.3 55.0 79.4 54.0 79.3 53.0 78.4 52.0 77.2 51.8Z"/><path fill="#252525" d="M75.0 8.5 75.2 9.4 75.5 10.3 75.8 11.2 78.5 12.1 78.8 12.1 78.8 12.1 79.1 12.1 81.8 11.2 82.1 10.3 82.4 9.4 82.6 8.5Z"/><path fill="#252525" d="M78.1 10.0 78.1 11.0 78.0 12.0 78.0 13.0 78.0 14.0 77.9 15.0 77.7 16.0 77.7 17.0 77.4 18.0 77.3 19.0 77.1 20.0 77.0 21.0 76.8 22.0 76.7 23.0 76.6 24.0 76.5 25.0 76.4 26.0 76.4 27.0 76.4 28.0 76.3 29.0 76.3 30.0 76.3 31.0 76.3 32.0 76.2 33.0 76.2 34.0 76.2 35.0 76.2 36.0 76.2 37.0 76.2 38.0 76.1 39.0 76.1 40.0 76.1 41.0 76.0 42.0 76.0 43.0 75.9 44.0 75.8 45.0 75.8 46.0 75.7 47.0 75.7 48.0 75.6 49.0 75.5 50.0 75.4 51.0 75.4 52.0 75.3 53.0 75.2 54.0 75.1 55.0 75.0 56.0 74.8 57.0 74.7 58.0 74.5 59.0 74.3 60.0 74.0 61.0 73.9 62.0 73.8 63.0 73.7 64.0 73.5 65.0 73.4 66.0 73.5 67.0 73.8 68.0 74.2 69.0 74.5 70.0 74.7 71.0 75.4 72.0 76.9 73.0 78.8 73.3 78.8 73.3 80.7 73.0 82.2 72.0 82.9 71.0 83.1 70.0 83.4 69.0 83.8 68.0 84.1 67.0 84.2 66.0 84.1 65.0 83.9 64.0 83.8 63.0 83.7 62.0 83.6 61.0 83.3 60.0 83.1 59.0 82.9 58.0 82.8 57.0 82.6 56.0 82.5 55.0 82.4 54.0 82.3 53.0 82.2 52.0 82.2 51.0 82.1 50.0 82.0 49.0 81.9 48.0 81.9 47.0 81.8 46.0 81.8 45.0 81.7 44.0 81.6 43.0 81.6 42.0 81.5 41.0 81.5 40.0 81.5 39.0 81.4 38.0 81.4 37.0 81.4 36.0 81.4 35.0 81.4 34.0 81.4 33.0 81.3 32.0 81.3 31.0 81.3 30.0 81.3 29.0 81.2 28.0 81.2 27.0 81.2 26.0 81.1 25.0 81.0 24.0 80.9 23.0 80.8 22.0 80.6 21.0 80.5 20.0 80.3 19.0 80.2 18.0 79.9 17.0 79.9 16.0 79.7 15.0 79.6 14.0 79.6 13.0 79.6 12.0 79.5 11.0 79.5 10.0Z"/><path fill="#252525" d="M80.7 52.1 78.8 53.0 78.6 54.0 78.7 55.0 79.0 56.0 79.3 57.0 79.4 58.0 79.6 59.0 79.9 60.0 80.3 61.0 80.5 62.0 80.7 63.0 81.1 64.0 81.3 65.0 81.5 66.0 81.9 67.0 82.1 68.0 82.2 69.0 82.5 70.0 82.8 71.0 83.0 72.0 83.0 73.0 83.2 74.0 83.7 75.0 84.7 75.7 84.7 75.7 85.7 75.0 86.3 74.0 86.5 73.0 86.6 72.0 86.7 71.0 86.9 70.0 87.0 69.0 87.1 68.0 86.9 67.0 86.6 66.0 86.5 65.0 86.3 64.0 85.9 63.0 85.7 62.0 85.6 61.0 85.2 60.0 84.8 59.0 84.6 58.0 84.3 57.0 83.8 56.0 83.3 55.0 83.0 54.0 82.6 53.0 80.7 52.1Z"/><path fill="#252525" d="M76.9 52.1 75.0 53.0 74.6 54.0 74.3 55.0 73.8 56.0 73.3 57.0 73.0 58.0 72.8 59.0 72.4 60.0 72.0 61.0 71.9 62.0 71.7 63.0 71.3 64.0 71.1 65.0 71.0 66.0 70.7 67.0 70.5 68.0 70.6 69.0 70.7 70.0 70.9 71.0 71.0 72.0 71.1 73.0 71.3 74.0 71.9 75.0 72.9 75.7 72.9 75.7 73.9 75.0 74.4 74.0 74.6 73.0 74.6 72.0 74.8 71.0 75.1 70.0 75.4 69.0 75.5 68.0 75.7 67.0 76.1 66.0 76.3 65.0 76.5 64.0 76.9 63.0 77.1 62.0 77.3 61.0 77.7 60.0 78.0 59.0 78.2 58.0 78.3 57.0 78.6 56.0 78.9 55.0 79.0 54.0 78.8 53.0 76.9 52.1Z"/><path fill="#2e2e2e" d="M75.4 8.5 75.5 9.4 75.8 10.3 76.1 11.2 78.8 12.0 78.8 12.0 81.5 11.2 81.8 10.3 82.1 9.4 82.2 8.5Z"/><path fill="#2e2e2e" d="M78.8 14.0 78.2 15.0 78.0 16.0 77.9 17.0 77.6 18.0 77.4 19.0 77.3 20.0 77.1 21.0 77.0 22.0 76.8 23.0 76.7 24.0 76.6 25.0 76.5 26.0 76.5 27.0 76.5 28.0 76.4 29.0 76.4 30.0 76.4 31.0 76.3 32.0 76.3 33.0 76.3 34.0 76.3 35.0 76.3 36.0 76.3 37.0 76.3 38.0 76.2 39.0 76.2 40.0 76.2 41.0 76.1 42.0 76.1 43.0 76.1 44.0 76.0 45.0 75.9 46.0 75.9 47.0 75.8 48.0 75.8 49.0 75.7 50.0 75.6 51.0 75.6 52.0 75.5 53.0 75.4 54.0 75.4 55.0 75.3 56.0 75.1 57.0 75.0 58.0 74.9 59.0 74.7 60.0 74.4 61.0 74.3 62.0 74.3 63.0 74.2 64.0 74.1 65.0 74.0 66.0 74.2 67.0 74.6 68.0 75.2 69.0 75.7 70.0 76.2 71.0 78.8 71.7 78.8 71.7 81.4 71.0 81.9 70.0 82.4 69.0 83.0 68.0 83.4 67.0 83.6 66.0 83.5 65.0 83.4 64.0 83.3 63.0 83.3 62.0 83.2 61.0 82.9 60.0 82.7 59.0 82.6 58.0 82.5 57.0 82.3 56.0 82.2 55.0 82.2 54.0 82.1 53.0 82.0 52.0 82.0 51.0 81.9 50.0 81.8 49.0 81.8 48.0 81.7 47.0 81.7 46.0 81.6 45.0 81.5 44.0 81.5 43.0 81.5 42.0 81.4 41.0 81.4 40.0 81.4 39.0 81.3 38.0 81.3 37.0 81.3 36.0 81.3 35.0 81.3 34.0 81.3 33.0 81.3 32.0 81.2 31.0 81.2 30.0 81.2 29.0 81.1 28.0 81.1 27.0 81.1 26.0 81.0 25.0 80.9 24.0 80.8 23.0 80.6 22.0 80.5 21.0 80.3 20.0 80.2 19.0 80.0 18.0 79.7 17.0 79.6 16.0 79.4 15.0 78.8 14.0Z"/><path fill="#2e2e2e" d="M80.7 52.5 79.3 53.0 79.0 54.0 79.1 55.0 79.4 56.0 79.6 57.0 79.8 58.0 79.9 59.0 80.3 60.0 80.6 61.0 80.8 62.0 81.0 63.0 81.4 64.0 81.7 65.0 81.9 66.0 82.3 67.0 82.5 68.0 82.6 69.0 82.9 70.0 83.3 71.0 83.6 72.0 83.7 73.0 84.1 74.0 84.7 74.3 84.7 74.3 85.4 74.0 85.9 73.0 86.0 72.0 86.2 71.0 86.5 70.0 86.7 69.0 86.7 68.0 86.6 67.0 86.3 66.0 86.1 65.0 86.0 64.0 85.6 63.0 85.4 62.0 85.2 61.0 84.8 60.0 84.4 59.0 84.2 58.0 84.0 57.0 83.4 56.0 82.9 55.0 82.6 54.0 82.0 53.0 80.7 52.5Z"/><path fill="#2e2e2e" d="M76.9 52.5 75.6 53.0 75.0 54.0 74.7 55.0 74.2 56.0 73.6 57.0 73.4 58.0 73.2 59.0 72.8 60.0 72.4 61.0 72.2 62.0 72.0 63.0 71.6 64.0 71.5 65.0 71.3 66.0 71.0 67.0 70.9 68.0 70.9 69.0 71.1 70.0 71.4 71.0 71.6 72.0 71.7 73.0 72.2 74.0 72.9 74.3 72.9 74.3 73.5 74.0 73.9 73.0 74.0 72.0 74.3 71.0 74.7 70.0 75.0 69.0 75.1 68.0 75.3 67.0 75.7 66.0 75.9 65.0 76.2 64.0 76.6 63.0 76.8 62.0 77.0 61.0 77.3 60.0 77.7 59.0 77.8 58.0 78.0 57.0 78.2 56.0 78.5 55.0 78.6 54.0 78.3 53.0 76.9 52.5Z"/><path fill="#383838" d="M75.9 8.5 76.0 9.4 76.3 10.3 76.6 11.2 78.8 11.8 78.8 11.8 81.0 11.2 81.3 10.3 81.6 9.4 81.7 8.5Z"/><path fill="#383838" d="M78.8 17.0 77.8 18.0 77.6 19.0 77.4 20.0 77.3 21.0 77.1 22.0 77.0 23.0 76.8 24.0 76.7 25.0 76.6 26.0 76.6 27.0 76.6 28.0 76.5 29.0 76.5 30.0 76.5 31.0 76.5 32.0 76.4 33.0 76.4 34.0 76.4 35.0 76.4 36.0 76.4 37.0 76.4 38.0 76.4 39.0 76.3 40.0 76.3 41.0 76.3 42.0 76.2 43.0 76.2 44.0 76.1 45.0 76.1 46.0 76.0 47.0 76.0 48.0 76.0 49.0 75.9 50.0 75.9 51.0 75.9 52.0 75.8 53.0 75.7 54.0 75.7 55.0 75.7 56.0 75.5 57.0 75.5 58.0 75.4 59.0 75.2 60.0 75.1 61.0 75.0 62.0 75.0 63.0 74.9 64.0 74.9 65.0 74.9 66.0 75.2 67.0 76.0 68.0 78.8 68.7 78.8 68.7 81.6 68.0 82.4 67.0 82.7 66.0 82.7 65.0 82.7 64.0 82.6 63.0 82.6 62.0 82.5 61.0 82.4 60.0 82.2 59.0 82.1 58.0 82.1 57.0 81.9 56.0 81.9 55.0 81.9 54.0 81.8 53.0 81.7 52.0 81.7 51.0 81.7 50.0 81.6 49.0 81.6 48.0 81.6 47.0 81.5 46.0 81.5 45.0 81.4 44.0 81.4 43.0 81.3 42.0 81.3 41.0 81.3 40.0 81.2 39.0 81.2 38.0 81.2 37.0 81.2 36.0 81.2 35.0 81.2 34.0 81.2 33.0 81.1 32.0 81.1 31.0 81.1 30.0 81.1 29.0 81.0 28.0 81.0 27.0 81.0 26.0 80.9 25.0 80.8 24.0 80.6 23.0 80.5 22.0 80.3 21.0 80.2 20.0 80.0 19.0 79.8 18.0 78.8 17.0Z"/><path fill="#383838" d="M80.7 53.0 80.4 53.0 79.6 54.0 79.7 55.0 79.9 56.0 80.1 57.0 80.2 58.0 80.4 59.0 80.7 60.0 81.1 61.0 81.2 62.0 81.5 63.0 81.9 64.0 82.1 65.0 82.3 66.0 82.7 67.0 83.0 68.0 83.1 69.0 83.5 70.0 84.4 71.0 84.8 71.3 84.8 71.3 85.2 71.0 85.9 70.0 86.2 69.0 86.2 68.0 86.1 67.0 85.8 66.0 85.7 65.0 85.5 64.0 85.2 63.0 85.0 62.0 84.8 61.0 84.4 60.0 84.0 59.0 83.8 58.0 83.5 57.0 82.9 56.0 82.3 55.0 82.0 54.0 81.0 53.0 80.7 53.0Z"/><path fill="#383838" d="M76.9 53.0 76.6 53.0 75.6 54.0 75.3 55.0 74.7 56.0 74.1 57.0 73.8 58.0 73.6 59.0 73.2 60.0 72.8 61.0 72.6 62.0 72.4 63.0 72.1 64.0 71.9 65.0 71.8 66.0 71.5 67.0 71.4 68.0 71.4 69.0 71.7 70.0 72.4 71.0 72.8 71.3 72.8 71.3 73.2 71.0 74.1 70.0 74.5 69.0 74.6 68.0 74.9 67.0 75.3 66.0 75.5 65.0 75.7 64.0 76.1 63.0 76.4 62.0 76.5 61.0 76.9 60.0 77.2 59.0 77.4 58.0 77.5 57.0 77.7 56.0 77.9 55.0 78.0 54.0 77.2 53.0 76.9 53.0Z"/><path fill="#424242" d="M76.3 8.5 76.5 9.4 76.7 10.3 77.0 11.2 78.8 11.6 78.8 11.6 80.6 11.2 80.9 10.3 81.1 9.4 81.3 8.5Z"/><path fill="#424242" d="M78.8 17.8 78.3 18.0 77.8 19.0 77.6 20.0 77.4 21.0 77.3 22.0 77.1 23.0 76.9 24.0 76.8 25.0 76.7 26.0 76.7 27.0 76.7 28.0 76.6 29.0 76.6 30.0 76.6 31.0 76.5 32.0 76.5 33.0 76.5 34.0 76.5 35.0 76.5 36.0 76.5 37.0 76.5 38.0 76.5 39.0 76.4 40.0 76.4 41.0 76.4 42.0 76.3 43.0 76.3 44.0 76.3 45.0 76.2 46.0 76.2 47.0 76.2 48.0 76.1 49.0 76.1 50.0 76.1 51.0 76.1 52.0 76.1 53.0 76.1 54.0 76.1 55.0 76.0 56.0 76.0 57.0 76.0 58.0 75.9 59.0 75.8 60.0 75.8 61.0 75.8 62.0 75.8 63.0 75.9 64.0 76.1 65.0 76.2 66.0 76.9 67.0 78.8 67.3 78.8 67.3 80.7 67.0 81.4 66.0 81.5 65.0 81.7 64.0 81.8 63.0 81.8 62.0 81.8 61.0 81.8 60.0 81.7 59.0 81.6 58.0 81.6 57.0 81.6 56.0 81.5 55.0 81.5 54.0 81.5 53.0 81.5 52.0 81.5 51.0 81.5 50.0 81.5 49.0 81.4 48.0 81.4 47.0 81.4 46.0 81.3 45.0 81.3 44.0 81.3 43.0 81.2 42.0 81.2 41.0 81.2 40.0 81.1 39.0 81.1 38.0 81.1 37.0 81.1 36.0 81.1 35.0 81.1 34.0 81.1 33.0 81.1 32.0 81.0 31.0 81.0 30.0 81.0 29.0 80.9 28.0 80.9 27.0 80.9 26.0 80.8 25.0 80.7 24.0 80.5 23.0 80.3 22.0 80.2 21.0 80.0 20.0 79.8 19.0 79.3 18.0 78.8 17.8Z"/><path fill="#424242" d="M81.0 54.0 80.4 55.0 80.4 56.0 80.6 57.0 80.7 58.0 80.8 59.0 81.2 60.0 81.5 61.0 81.7 62.0 81.9 63.0 82.3 64.0 82.6 65.0 82.8 66.0 83.2 67.0 83.5 68.0 83.7 69.0 84.7 69.8 84.7 69.8 85.5 69.0 85.7 68.0 85.6 67.0 85.4 66.0 85.2 65.0 85.1 64.0 84.7 63.0 84.5 62.0 84.3 61.0 83.9 60.0 83.5 59.0 83.3 58.0 83.0 57.0 82.4 56.0 81.5 55.0 81.0 54.0Z"/><path fill="#424242" d="M76.6 54.0 76.1 55.0 75.2 56.0 74.6 57.0 74.3 58.0 74.1 59.0 73.7 60.0 73.3 61.0 73.1 62.0 72.9 63.0 72.5 64.0 72.4 65.0 72.2 66.0 72.0 67.0 71.9 68.0 72.1 69.0 72.9 69.8 72.9 69.8 73.9 69.0 74.1 68.0 74.4 67.0 74.8 66.0 75.0 65.0 75.3 64.0 75.7 63.0 75.9 62.0 76.1 61.0 76.4 60.0 76.8 59.0 76.9 58.0 77.0 57.0 77.2 56.0 77.2 55.0 76.6 54.0Z"/><path fill="#4c4c4c" d="M76.8 8.5 76.9 9.4 77.1 10.3 77.5 11.2 78.8 11.4 78.8 11.4 80.1 11.2 80.5 10.3 80.7 9.4 80.8 8.5Z"/><path fill="#4c4c4c" d="M78.8 18.6 78.1 19.0 77.8 20.0 77.6 21.0 77.4 22.0 77.2 23.0 77.0 24.0 76.9 25.0 76.8 26.0 76.8 27.0 76.7 28.0 76.7 29.0 76.7 30.0 76.6 31.0 76.6 32.0 76.6 33.0 76.6 34.0 76.6 35.0 76.6 36.0 76.6 37.0 76.6 38.0 76.5 39.0 76.5 40.0 76.5 41.0 76.5 42.0 76.5 43.0 76.4 44.0 76.4 45.0 76.4 46.0 76.3 47.0 76.3 48.0 76.3 49.0 76.3 50.0 76.3 51.0 76.3 52.0 76.3 53.0 76.4 54.0 76.5 55.0 76.5 56.0 76.5 57.0 76.6 58.0 76.6 59.0 76.7 60.0 76.9 61.0 77.1 62.0 77.4 63.0 78.8 63.5 78.8 63.5 80.2 63.0 80.5 62.0 80.7 61.0 80.9 60.0 81.0 59.0 81.0 58.0 81.1 57.0 81.1 56.0 81.1 55.0 81.2 54.0 81.3 53.0 81.3 52.0 81.3 51.0 81.3 50.0 81.3 49.0 81.3 48.0 81.3 47.0 81.2 46.0 81.2 45.0 81.2 44.0 81.1 43.0 81.1 42.0 81.1 41.0 81.1 40.0 81.1 39.0 81.0 38.0 81.0 37.0 81.0 36.0 81.0 35.0 81.0 34.0 81.0 33.0 81.0 32.0 81.0 31.0 80.9 30.0 80.9 29.0 80.9 28.0 80.8 27.0 80.8 26.0 80.7 25.0 80.6 24.0 80.4 23.0 80.2 22.0 80.0 21.0 79.8 20.0 79.5 19.0 78.8 18.6Z"/><path fill="#4c4c4c" d="M81.8 56.5 81.3 57.0 81.3 58.0 81.4 59.0 81.7 60.0 82.0 61.0 82.2 62.0 82.4 63.0 82.9 64.0 83.2 65.0 83.4 66.0 84.0 67.0 84.6 68.0 84.6 68.0 84.6 68.0 84.6 68.0 84.8 67.0 84.7 66.0 84.6 65.0 84.5 64.0 84.2 63.0 84.0 62.0 83.8 61.0 83.4 60.0 82.9 59.0 82.7 58.0 82.4 57.0 81.8 56.5Z"/><path fill="#4c4c4c" d="M75.8 56.5 75.2 57.0 74.9 58.0 74.7 59.0 74.2 60.0 73.8 61.0 73.6 62.0 73.4 63.0 73.1 64.0 73.0 65.0 72.9 66.0 72.8 67.0 73.0 68.0 73.0 68.0 73.0 68.0 73.0 68.0 73.6 67.0 74.2 66.0 74.4 65.0 74.7 64.0 75.2 63.0 75.4 62.0 75.6 61.0 75.9 60.0 76.2 59.0 76.3 58.0 76.3 57.0 75.8 56.5Z"/><path fill="#575757" d="M77.3 8.5 77.4 9.4 77.6 10.3 78.3 11.2 78.8 11.2 78.8 11.2 79.3 11.2 80.0 10.3 80.2 9.4 80.3 8.5Z"/><path fill="#575757" d="M78.8 19.5 78.1 20.0 77.8 21.0 77.6 22.0 77.4 23.0 77.1 24.0 77.0 25.0 76.9 26.0 76.9 27.0 76.8 28.0 76.8 29.0 76.8 30.0 76.7 31.0 76.7 32.0 76.7 33.0 76.7 34.0 76.7 35.0 76.7 36.0 76.6 37.0 76.6 38.0 76.6 39.0 76.6 40.0 76.6 41.0 76.6 42.0 76.6 43.0 76.5 44.0 76.5 45.0 76.5 46.0 76.5 47.0 76.5 48.0 76.5 49.0 76.5 50.0 76.6 51.0 76.6 52.0 76.7 53.0 76.8 54.0 77.0 55.0 77.1 56.0 77.5 57.0 78.8 58.0 78.8 58.0 80.1 57.0 80.5 56.0 80.6 55.0 80.8 54.0 80.9 53.0 81.0 52.0 81.0 51.0 81.1 50.0 81.1 49.0 81.1 48.0 81.1 47.0 81.1 46.0 81.1 45.0 81.1 44.0 81.0 43.0 81.0 42.0 81.0 41.0 81.0 40.0 81.0 39.0 81.0 38.0 81.0 37.0 80.9 36.0 80.9 35.0 80.9 34.0 80.9 33.0 80.9 32.0 80.9 31.0 80.8 30.0 80.8 29.0 80.8 28.0 80.7 27.0 80.7 26.0 80.6 25.0 80.5 24.0 80.2 23.0 80.0 22.0 79.8 21.0 79.5 20.0 78.8 19.5Z"/><path fill="#616161" d="M77.9 8.5 78.1 9.4 78.5 10.3 78.8 10.4 78.8 10.4 79.1 10.3 79.5 9.4 79.7 8.5Z"/><path fill="#616161" d="M78.8 20.5 78.1 21.0 77.7 22.0 77.5 23.0 77.2 24.0 77.1 25.0 77.0 26.0 76.9 27.0 76.9 28.0 76.9 29.0 76.8 30.0 76.8 31.0 76.8 32.0 76.8 33.0 76.8 34.0 76.8 35.0 76.7 36.0 76.7 37.0 76.7 38.0 76.7 39.0 76.7 40.0 76.7 41.0 76.7 42.0 76.7 43.0 76.7 44.0 76.6 45.0 76.6 46.0 76.6 47.0 76.7 48.0 76.7 49.0 76.7 50.0 76.9 51.0 76.9 52.0 77.1 53.0 77.5 54.0 78.8 55.0 78.8 55.0 80.1 54.0 80.5 53.0 80.7 52.0 80.7 51.0 80.9 50.0 80.9 49.0 80.9 48.0 81.0 47.0 81.0 46.0 81.0 45.0 80.9 44.0 80.9 43.0 80.9 42.0 80.9 41.0 80.9 40.0 80.9 39.0 80.9 38.0 80.9 37.0 80.9 36.0 80.8 35.0 80.8 34.0 80.8 33.0 80.8 32.0 80.8 31.0 80.8 30.0 80.7 29.0 80.7 28.0 80.7 27.0 80.6 26.0 80.5 25.0 80.4 24.0 80.1 23.0 79.9 22.0 79.5 21.0 78.8 20.5Z"/><path fill="#6b6b6b" d="M78.8 21.3 78.0 22.0 77.7 23.0 77.4 24.0 77.2 25.0 77.1 26.0 77.0 27.0 77.0 28.0 77.0 29.0 76.9 30.0 76.9 31.0 76.9 32.0 76.9 33.0 76.8 34.0 76.8 35.0 76.8 36.0 76.8 37.0 76.8 38.0 76.8 39.0 76.8 40.0 76.7 41.0 76.7 42.0 76.8 43.0 76.8 44.0 76.8 45.0 76.8 46.0 76.8 47.0 76.8 48.0 76.8 49.0 77.0 50.0 77.2 51.0 77.3 52.0 77.7 53.0 78.8 53.4 78.8 53.4 79.9 53.0 80.3 52.0 80.4 51.0 80.6 50.0 80.8 49.0 80.8 48.0 80.8 47.0 80.8 46.0 80.8 45.0 80.8 44.0 80.8 43.0 80.9 42.0 80.9 41.0 80.8 40.0 80.8 39.0 80.8 38.0 80.8 37.0 80.8 36.0 80.8 35.0 80.8 34.0 80.7 33.0 80.7 32.0 80.7 31.0 80.7 30.0 80.6 29.0 80.6 28.0 80.6 27.0 80.5 26.0 80.4 25.0 80.2 24.0 79.9 23.0 79.6 22.0 78.8 21.3Z"/><path fill="#757575" d="M78.8 22.0 77.8 23.0 77.5 24.0 77.3 25.0 77.2 26.0 77.1 27.0 77.1 28.0 77.0 29.0 77.0 30.0 77.0 31.0 76.9 32.0 76.9 33.0 76.9 34.0 76.9 35.0 76.9 36.0 76.9 37.0 76.9 38.0 76.9 39.0 76.8 40.0 76.8 41.0 76.8 42.0 76.9 43.0 76.9 44.0 76.9 45.0 76.9 46.0 76.9 47.0 77.0 48.0 77.1 49.0 77.2 50.0 77.7 51.0 78.1 52.0 78.8 52.2 78.8 52.2 79.5 52.0 79.9 51.0 80.4 50.0 80.5 49.0 80.6 48.0 80.7 47.0 80.7 46.0 80.7 45.0 80.7 44.0 80.7 43.0 80.8 42.0 80.8 41.0 80.8 40.0 80.7 39.0 80.7 38.0 80.7 37.0 80.7 36.0 80.7 35.0 80.7 34.0 80.7 33.0 80.7 32.0 80.6 31.0 80.6 30.0 80.6 29.0 80.5 28.0 80.5 27.0 80.4 26.0 80.3 25.0 80.1 24.0 79.8 23.0 78.8 22.0Z"/><path fill="#808080" d="M78.8 22.7 78.1 23.0 77.6 24.0 77.4 25.0 77.2 26.0 77.2 27.0 77.1 28.0 77.1 29.0 77.1 30.0 77.0 31.0 77.0 32.0 77.0 33.0 77.0 34.0 77.0 35.0 77.0 36.0 76.9 37.0 76.9 38.0 76.9 39.0 76.9 40.0 76.9 41.0 76.9 42.0 77.0 43.0 77.0 44.0 77.0 45.0 77.0 46.0 77.1 47.0 77.2 48.0 77.3 49.0 77.6 50.0 78.8 50.6 78.8 50.6 80.0 50.0 80.3 49.0 80.4 48.0 80.5 47.0 80.6 46.0 80.6 45.0 80.6 44.0 80.6 43.0 80.7 42.0 80.7 41.0 80.7 40.0 80.7 39.0 80.7 38.0 80.7 37.0 80.6 36.0 80.6 35.0 80.6 34.0 80.6 33.0 80.6 32.0 80.6 31.0 80.5 30.0 80.5 29.0 80.5 28.0 80.4 27.0 80.4 26.0 80.2 25.0 80.0 24.0 79.5 23.0 78.8 22.7Z"/><path fill="#8a8a8a" d="M78.8 23.2 77.8 24.0 77.5 25.0 77.3 26.0 77.3 27.0 77.2 28.0 77.2 29.0 77.1 30.0 77.1 31.0 77.1 32.0 77.1 33.0 77.1 34.0 77.0 35.0 77.0 36.0 77.0 37.0 77.0 38.0 77.0 39.0 77.0 40.0 77.0 41.0 77.0 42.0 77.1 43.0 77.1 44.0 77.1 45.0 77.2 46.0 77.3 47.0 77.5 48.0 77.6 49.0 78.8 49.8 78.8 49.8 80.0 49.0 80.1 48.0 80.3 47.0 80.4 46.0 80.5 45.0 80.5 44.0 80.5 43.0 80.6 42.0 80.6 41.0 80.6 40.0 80.6 39.0 80.6 38.0 80.6 37.0 80.6 36.0 80.6 35.0 80.5 34.0 80.5 33.0 80.5 32.0 80.5 31.0 80.5 30.0 80.4 29.0 80.4 28.0 80.3 27.0 80.3 26.0 80.1 25.0 79.8 24.0 78.8 23.2Z"/><path fill="#949494" d="M78.8 23.6 78.0 24.0 77.7 25.0 77.4 26.0 77.3 27.0 77.3 28.0 77.3 29.0 77.2 30.0 77.2 31.0 77.1 32.0 77.1 33.0 77.1 34.0 77.1 35.0 77.1 36.0 77.1 37.0 77.1 38.0 77.1 39.0 77.1 40.0 77.1 41.0 77.1 42.0 77.2 43.0 77.2 44.0 77.3 45.0 77.4 46.0 77.5 47.0 77.9 48.0 78.4 49.0 78.8 49.0 78.8 49.0 79.2 49.0 79.7 48.0 80.1 47.0 80.2 46.0 80.3 45.0 80.4 44.0 80.4 43.0 80.5 42.0 80.5 41.0 80.5 40.0 80.5 39.0 80.5 38.0 80.5 37.0 80.5 36.0 80.5 35.0 80.5 34.0 80.5 33.0 80.5 32.0 80.4 31.0 80.4 30.0 80.3 29.0 80.3 28.0 80.3 27.0 80.2 26.0 79.9 25.0 79.6 24.0 78.8 23.6Z"/><path fill="#9e9e9e" d="M78.8 24.0 78.4 24.0 77.8 25.0 77.5 26.0 77.4 27.0 77.4 28.0 77.3 29.0 77.3 30.0 77.2 31.0 77.2 32.0 77.2 33.0 77.2 34.0 77.2 35.0 77.2 36.0 77.2 37.0 77.2 38.0 77.2 39.0 77.2 40.0 77.2 41.0 77.2 42.0 77.3 43.0 77.3 44.0 77.5 45.0 77.6 46.0 77.9 47.0 78.8 47.5 78.8 47.5 79.7 47.0 80.0 46.0 80.1 45.0 80.3 44.0 80.3 43.0 80.4 42.0 80.4 41.0 80.4 40.0 80.4 39.0 80.4 38.0 80.4 37.0 80.4 36.0 80.4 35.0 80.4 34.0 80.4 33.0 80.4 32.0 80.4 31.0 80.3 30.0 80.3 29.0 80.2 28.0 80.2 27.0 80.1 26.0 79.8 25.0 79.2 24.0 78.8 24.0Z"/><path fill="#a8a8a8" d="M78.8 24.5 78.0 25.0 77.6 26.0 77.5 27.0 77.4 28.0 77.4 29.0 77.4 30.0 77.3 31.0 77.3 32.0 77.3 33.0 77.3 34.0 77.3 35.0 77.3 36.0 77.2 37.0 77.2 38.0 77.2 39.0 77.2 40.0 77.3 41.0 77.3 42.0 77.4 43.0 77.5 44.0 77.7 45.0 77.9 46.0 78.8 46.7 78.8 46.7 79.7 46.0 79.9 45.0 80.1 44.0 80.2 43.0 80.3 42.0 80.3 41.0 80.4 40.0 80.4 39.0 80.4 38.0 80.4 37.0 80.3 36.0 80.3 35.0 80.3 34.0 80.3 33.0 80.3 32.0 80.3 31.0 80.2 30.0 80.2 29.0 80.2 28.0 80.1 27.0 80.0 26.0 79.6 25.0 78.8 24.5Z"/><path fill="#b2b2b2" d="M78.8 25.0 78.5 25.0 77.7 26.0 77.6 27.0 77.5 28.0 77.5 29.0 77.4 30.0 77.4 31.0 77.4 32.0 77.4 33.0 77.4 34.0 77.3 35.0 77.3 36.0 77.3 37.0 77.3 38.0 77.3 39.0 77.3 40.0 77.4 41.0 77.4 42.0 77.5 43.0 77.6 44.0 78.1 45.0 78.8 45.7 78.8 45.7 79.5 45.0 80.0 44.0 80.1 43.0 80.2 42.0 80.2 41.0 80.3 40.0 80.3 39.0 80.3 38.0 80.3 37.0 80.3 36.0 80.3 35.0 80.2 34.0 80.2 33.0 80.2 32.0 80.2 31.0 80.2 30.0 80.1 29.0 80.1 28.0 80.0 27.0 79.9 26.0 79.1 25.0 78.8 25.0Z"/><path fill="#bdbdbd" d="M78.8 25.3 77.9 26.0 77.7 27.0 77.6 28.0 77.6 29.0 77.5 30.0 77.5 31.0 77.5 32.0 77.4 33.0 77.4 34.0 77.4 35.0 77.4 36.0 77.4 37.0 77.4 38.0 77.4 39.0 77.4 40.0 77.5 41.0 77.5 42.0 77.7 43.0 77.9 44.0 78.8 44.6 78.8 44.6 79.7 44.0 79.9 43.0 80.1 42.0 80.1 41.0 80.2 40.0 80.2 39.0 80.2 38.0 80.2 37.0 80.2 36.0 80.2 35.0 80.2 34.0 80.2 33.0 80.1 32.0 80.1 31.0 80.1 30.0 80.0 29.0 80.0 28.0 79.9 27.0 79.7 26.0 78.8 25.3Z"/><path fill="#c7c7c7" d="M78.8 25.7 78.1 26.0 77.9 27.0 77.7 28.0 77.7 29.0 77.6 30.0 77.6 31.0 77.5 32.0 77.5 33.0 77.5 34.0 77.5 35.0 77.5 36.0 77.5 37.0 77.5 38.0 77.5 39.0 77.5 40.0 77.6 41.0 77.6 42.0 78.0 43.0 78.4 44.0 78.8 44.1 78.8 44.1 79.2 44.0 79.6 43.0 80.0 42.0 80.0 41.0 80.1 40.0 80.1 39.0 80.1 38.0 80.1 37.0 80.1 36.0 80.1 35.0 80.1 34.0 80.1 33.0 80.1 32.0 80.0 31.0 80.0 30.0 79.9 29.0 79.9 28.0 79.7 27.0 79.5 26.0 78.8 25.7Z"/><path fill="#d1d1d1" d="M78.8 26.0 78.0 27.0 77.8 28.0 77.8 29.0 77.7 30.0 77.7 31.0 77.6 32.0 77.6 33.0 77.6 34.0 77.6 35.0 77.6 36.0 77.6 37.0 77.6 38.0 77.6 39.0 77.6 40.0 77.7 41.0 77.8 42.0 78.8 43.0 78.8 43.0 79.8 42.0 79.9 41.0 80.0 40.0 80.0 39.0 80.0 38.0 80.0 37.0 80.0 36.0 80.0 35.0 80.0 34.0 80.0 33.0 80.0 32.0 79.9 31.0 79.9 30.0 79.8 29.0 79.8 28.0 79.6 27.0 78.8 26.0Z"/><path fill="#dbdbdb" d="M78.8 26.8 78.4 27.0 78.0 28.0 78.0 29.0 77.9 30.0 77.8 31.0 77.7 32.0 77.7 33.0 77.7 34.0 77.7 35.0 77.7 36.0 77.7 37.0 77.7 38.0 77.7 39.0 77.8 40.0 77.9 41.0 78.0 42.0 78.8 42.5 78.8 42.5 79.6 42.0 79.7 41.0 79.8 40.0 79.9 39.0 79.9 38.0 79.9 37.0 79.9 36.0 79.9 35.0 79.9 34.0 79.9 33.0 79.9 32.0 79.8 31.0 79.7 30.0 79.6 29.0 79.6 28.0 79.2 27.0 78.8 26.8Z"/><path fill="#e6e6e6" d="M78.8 27.6 78.2 28.0 78.2 29.0 78.0 30.0 77.9 31.0 77.9 32.0 77.9 33.0 77.9 34.0 77.8 35.0 77.8 36.0 77.8 37.0 77.8 38.0 77.9 39.0 78.0 40.0 78.1 41.0 78.5 42.0 78.8 42.0 78.8 42.0 79.1 42.0 79.5 41.0 79.6 40.0 79.7 39.0 79.8 38.0 79.8 37.0 79.8 36.0 79.8 35.0 79.7 34.0 79.7 33.0 79.7 32.0 79.7 31.0 79.6 30.0 79.4 29.0 79.4 28.0 78.8 27.6Z"/><path fill="#f0f0f0" d="M78.8 29.4 78.3 30.0 78.1 31.0 78.0 32.0 78.0 33.0 78.0 34.0 78.0 35.0 78.0 36.0 78.0 37.0 78.0 38.0 78.0 39.0 78.3 40.0 78.8 40.4 78.8 40.4 79.3 40.0 79.6 39.0 79.6 38.0 79.6 37.0 79.6 36.0 79.6 35.0 79.6 34.0 79.6 33.0 79.6 32.0 79.5 31.0 79.3 30.0 78.8 29.4Z"/><path fill="#fafafa" d="M78.8 31.1 78.4 32.0 78.3 33.0 78.3 34.0 78.3 35.0 78.3 36.0 78.2 37.0 78.2 38.0 78.5 39.0 78.8 39.1 78.8 39.1 79.1 39.0 79.4 38.0 79.4 37.0 79.3 36.0 79.3 35.0 79.3 34.0 79.3 33.0 79.2 32.0 78.8 31.1Z"/></g></g>
<rect x="57.60" y="110.40" width="2.50" height="17.90" fill="#e6e6e6" stroke="#b0b0b0" stroke-width="0.8"/>
<rect x="57.20" y="110.00" width="3.30" height="2.00" rx="0.9" fill="#adadad"/>
<rect x="97.40" y="110.40" width="2.50" height="17.90" fill="#e6e6e6" stroke="#b0b0b0" stroke-width="0.8"/>
<rect x="97.00" y="110.00" width="3.30" height="2.00" rx="0.9" fill="#adadad"/>
<text class="d" x="25.00" y="130.35" font-size="5.60" text-anchor="end">0</text>
<line x1="27.00" y1="128.30" x2="28.50" y2="128.30" stroke="#999" stroke-width="0.6"/>
<text class="d" x="25.00" y="118.51" font-size="5.60" text-anchor="end">1</text>
<line x1="27.00" y1="116.46" x2="28.50" y2="116.46" stroke="#999" stroke-width="0.6"/>
<text class="d" x="25.00" y="106.67" font-size="5.60" text-anchor="end">2</text>
<line x1="27.00" y1="104.62" x2="28.50" y2="104.62" stroke="#999" stroke-width="0.6"/>
<text class="d" x="25.00" y="94.83" font-size="5.60" text-anchor="end">3</text>
<line x1="27.00" y1="92.78" x2="28.50" y2="92.78" stroke="#999" stroke-width="0.6"/>
<text class="d" x="25.00" y="82.99" font-size="5.60" text-anchor="end">4</text>
<line x1="27.00" y1="80.94" x2="28.50" y2="80.94" stroke="#999" stroke-width="0.6"/>
<text class="d" x="25.00" y="71.15" font-size="5.60" text-anchor="end">5</text>
<line x1="27.00" y1="69.10" x2="28.50" y2="69.10" stroke="#999" stroke-width="0.6"/>
<text class="d" x="25.00" y="59.31" font-size="5.60" text-anchor="end">6</text>
<line x1="27.00" y1="57.26" x2="28.50" y2="57.26" stroke="#999" stroke-width="0.6"/>
<text class="d" x="25.00" y="47.47" font-size="5.60" text-anchor="end">7</text>
<line x1="27.00" y1="45.42" x2="28.50" y2="45.42" stroke="#999" stroke-width="0.6"/>
<text class="d" x="25.00" y="35.63" font-size="5.60" text-anchor="end">8</text>
<line x1="27.00" y1="33.58" x2="28.50" y2="33.58" stroke="#999" stroke-width="0.6"/>
<text class="d" x="25.00" y="23.79" font-size="5.60" text-anchor="end">9</text>
<line x1="27.00" y1="21.74" x2="28.50" y2="21.74" stroke="#999" stroke-width="0.6"/>
<text class="d" x="25.00" y="11.95" font-size="5.60" text-anchor="end">10</text>
<line x1="27.00" y1="9.90" x2="28.50" y2="9.90" stroke="#999" stroke-width="0.6"/>
<text class="d" x="41.20" y="143.85" font-size="5.60" text-anchor="middle">-4</text>
<line x1="41.20" y1="137.50" x2="41.20" y2="136.00" stroke="#999" stroke-width="0.6"/>
<line x1="41.20" y1="0.60" x2="41.20" y2="2.10" stroke="#999" stroke-width="0.6"/>
<text class="d" x="59.90" y="143.85" font-size="5.60" text-anchor="middle">-2</text>
<line x1="59.90" y1="137.50" x2="59.90" y2="136.00" stroke="#999" stroke-width="0.6"/>
<line x1="59.90" y1="0.60" x2="59.90" y2="2.10" stroke="#999" stroke-width="0.6"/>
<text class="d" x="78.60" y="143.85" font-size="5.60" text-anchor="middle">0</text>
<line x1="78.60" y1="137.50" x2="78.60" y2="136.00" stroke="#999" stroke-width="0.6"/>
<line x1="78.60" y1="0.60" x2="78.60" y2="2.10" stroke="#999" stroke-width="0.6"/>
<text class="d" x="97.30" y="143.85" font-size="5.60" text-anchor="middle">2</text>
<line x1="97.30" y1="137.50" x2="97.30" y2="136.00" stroke="#999" stroke-width="0.6"/>
<line x1="97.30" y1="0.60" x2="97.30" y2="2.10" stroke="#999" stroke-width="0.6"/>
<text class="d" x="116.00" y="143.85" font-size="5.60" text-anchor="middle">4</text>
<line x1="116.00" y1="137.50" x2="116.00" y2="136.00" stroke="#999" stroke-width="0.6"/>
<line x1="116.00" y1="0.60" x2="116.00" y2="2.10" stroke="#999" stroke-width="0.6"/>
<text x="79.20" y="154.60" font-size="8" font-weight="bold" fill="#1a1a1a" stroke="#1a1a1a" stroke-width="0.2" text-anchor="middle"><tspan font-style="italic">r</tspan> (mm)</text>
<text transform="translate(7.30 73.60) rotate(-90)" font-size="8" font-weight="bold" fill="#1a1a1a" stroke="#1a1a1a" stroke-width="0.2" text-anchor="middle"><tspan font-style="italic">z</tspan> (mm)</text>
<rect x="137.90" y="16.30" width="4.20" height="125.10" fill="url(#cb)"/>
<text class="d" x="143.80" y="131.72" font-size="5.80">0.5</text>
<text class="d" x="143.80" y="119.94" font-size="5.80">1</text>
<text class="d" x="143.80" y="108.16" font-size="5.80">1.5</text>
<text class="d" x="143.80" y="96.38" font-size="5.80">2</text>
<text class="d" x="143.80" y="84.60" font-size="5.80">2.5</text>
<text class="d" x="143.80" y="72.82" font-size="5.80">3</text>
<text class="d" x="143.80" y="61.04" font-size="5.80">3.5</text>
<text class="d" x="143.80" y="49.26" font-size="5.80">4</text>
<text class="d" x="143.80" y="37.48" font-size="5.80">4.5</text>
<text class="d" x="143.80" y="25.70" font-size="5.80">5</text>
<path d="M134.40 5.70 L139.60 5.70 L137.00 1.60 Z" fill="#111"/>
<text class="d" x="142.20" y="6.20" font-size="5.55">5.31×10<tspan font-size="3.4" dy="-3.0">18</tspan></text>
<text class="d" x="142.20" y="12.70" font-size="5.4">×10<tspan font-size="3.4" dy="-3.0">18</tspan></text>
<path d="M134.80 146.60 L140.00 146.60 L137.40 150.60 Z" fill="#111"/>
<text class="d" x="142.70" y="150.50" font-size="5.4">1.21×10<tspan font-size="3.4" dy="-3.0">5</tspan></text>
<text x="48.60" y="26.70" font-size="8.3" font-weight="bold" fill="#f0f0ff">He<tspan font-size="4.6" dy="-2.9">+</tspan></text>
<rect x="202.00" y="0.80" width="103.70" height="137.50" fill="#fff" stroke="#c4c4c4" stroke-width="1"/>
<path d="M206.20 69.50 V129.00 H301.10 V69.50" fill="none" stroke="#a8a8a8" stroke-width="0.9"/>
<path d="M206.20 10.00H301.10V69.50H263.10V129.00H244.00V69.50H206.20Z" fill="#000087"/>
<g clip-path="url(#cp1)"><g filter="url(#jf)"><rect x="201.2" y="5.0" width="104.9" height="129.0" fill="#000"/><path fill="#080808" d="M247.7 9.0 248.0 10.0 248.2 11.0 250.0 12.0 253.8 12.9 253.8 12.9 257.6 12.0 259.4 11.0 259.6 10.0 259.9 9.0Z"/><path fill="#080808" d="M251.9 10.0 251.9 11.0 251.9 12.0 251.9 13.0 251.9 14.0 251.9 15.0 251.7 16.0 251.6 17.0 251.5 18.0 251.4 19.0 251.3 20.0 251.2 21.0 251.1 22.0 251.0 23.0 251.0 24.0 250.8 25.0 250.8 26.0 250.7 27.0 250.6 28.0 250.6 29.0 250.5 30.0 250.5 31.0 250.5 32.0 250.4 33.0 250.4 34.0 250.3 35.0 250.2 36.0 250.1 37.0 250.1 38.0 250.0 39.0 249.8 40.0 249.7 41.0 249.6 42.0 258.0 42.0 257.9 41.0 257.8 40.0 257.6 39.0 257.5 38.0 257.5 37.0 257.4 36.0 257.3 35.0 257.2 34.0 257.2 33.0 257.1 32.0 257.1 31.0 257.1 30.0 257.0 29.0 257.0 28.0 256.9 27.0 256.8 26.0 256.8 25.0 256.6 24.0 256.6 23.0 256.5 22.0 256.4 21.0 256.3 20.0 256.2 19.0 256.1 18.0 256.0 17.0 255.9 16.0 255.7 15.0 255.7 14.0 255.7 13.0 255.7 12.0 255.7 11.0 255.7 10.0Z"/><path fill="#080808" d="M253.8 38.3 251.2 39.0 250.6 40.0 250.3 41.0 250.2 42.0 250.1 43.0 249.9 44.0 249.7 45.0 249.6 46.0 249.5 47.0 249.2 48.0 249.0 49.0 248.9 50.0 248.7 51.0 248.5 52.0 248.2 53.0 247.9 54.0 247.8 55.0 247.7 56.0 247.3 57.0 247.0 58.0 246.6 59.0 246.5 60.0 246.3 61.0 245.9 62.0 245.4 63.0 245.0 64.0 244.8 65.0 244.7 66.0 244.4 67.0 244.0 68.0 243.7 69.0 243.6 70.0 243.8 71.0 244.2 72.0 244.8 73.0 245.3 74.0 245.5 75.0 245.5 76.0 245.7 77.0 246.0 78.0 246.3 79.0 246.6 80.0 247.0 81.0 247.3 82.0 247.5 83.0 247.7 84.0 247.8 85.0 247.8 86.0 247.8 87.0 247.9 88.0 247.9 89.0 248.0 90.0 248.1 91.0 248.2 92.0 248.3 93.0 248.4 94.0 248.5 95.0 248.6 96.0 248.7 97.0 248.7 98.0 248.8 99.0 248.8 100.0 248.8 101.0 248.8 102.0 248.9 103.0 248.9 104.0 249.0 105.0 249.1 106.0 249.2 107.0 249.3 108.0 249.4 109.0 249.6 110.0 249.8 111.0 250.0 112.0 250.2 113.0 250.3 114.0 250.4 115.0 250.4 116.0 250.6 117.0 250.8 118.0 251.4 119.0 253.8 119.6 253.8 119.6 256.2 119.0 256.8 118.0 257.0 117.0 257.2 116.0 257.2 115.0 257.3 114.0 257.4 113.0 257.6 112.0 257.8 111.0 258.0 110.0 258.2 109.0 258.3 108.0 258.4 107.0 258.5 106.0 258.6 105.0 258.7 104.0 258.7 103.0 258.8 102.0 258.8 101.0 258.8 100.0 258.8 99.0 258.9 98.0 258.9 97.0 259.0 96.0 259.1 95.0 259.2 94.0 259.3 93.0 259.4 92.0 259.5 91.0 259.6 90.0 259.7 89.0 259.7 88.0 259.8 87.0 259.8 86.0 259.8 85.0 259.9 84.0 260.1 83.0 260.3 82.0 260.6 81.0 261.0 80.0 261.3 79.0 261.6 78.0 261.9 77.0 262.1 76.0 262.1 75.0 262.3 74.0 262.8 73.0 263.4 72.0 263.8 71.0 264.0 70.0 263.9 69.0 263.6 68.0 263.2 67.0 262.9 66.0 262.8 65.0 262.6 64.0 262.2 63.0 261.7 62.0 261.3 61.0 261.1 60.0 261.0 59.0 260.6 58.0 260.3 57.0 259.9 56.0 259.8 55.0 259.7 54.0 259.4 53.0 259.1 52.0 258.9 51.0 258.7 50.0 258.6 49.0 258.4 48.0 258.1 47.0 258.0 46.0 257.9 45.0 257.7 44.0 257.5 43.0 257.4 42.0 257.3 41.0 257.0 40.0 256.4 39.0 253.8 38.3Z"/><path fill="#0d0d0d" d="M248.5 9.0 248.7 10.0 249.0 11.0 250.7 12.0 253.8 12.7 253.8 12.7 256.9 12.0 258.6 11.0 258.9 10.0 259.1 9.0Z"/><path fill="#0d0d0d" d="M252.2 10.0 252.2 11.0 252.2 12.0 252.2 13.0 252.1 14.0 252.1 15.0 252.0 16.0 251.8 17.0 251.7 18.0 251.6 19.0 251.5 20.0 251.4 21.0 251.3 22.0 251.2 23.0 251.2 24.0 251.1 25.0 251.0 26.0 251.0 27.0 250.9 28.0 250.8 29.0 250.8 30.0 250.7 31.0 250.7 32.0 250.7 33.0 250.6 34.0 250.6 35.0 250.5 36.0 250.4 37.0 250.4 38.0 250.3 39.0 250.1 40.0 250.0 41.0 249.9 42.0 257.7 42.0 257.6 41.0 257.5 40.0 257.3 39.0 257.2 38.0 257.2 37.0 257.1 36.0 257.0 35.0 257.0 34.0 256.9 33.0 256.9 32.0 256.9 31.0 256.8 30.0 256.8 29.0 256.7 28.0 256.6 27.0 256.6 26.0 256.5 25.0 256.4 24.0 256.4 23.0 256.3 22.0 256.2 21.0 256.1 20.0 256.0 19.0 255.9 18.0 255.8 17.0 255.6 16.0 255.5 15.0 255.5 14.0 255.4 13.0 255.4 12.0 255.4 11.0 255.4 10.0Z"/><path fill="#0d0d0d" d="M253.8 38.6 251.7 39.0 250.9 40.0 250.5 41.0 250.4 42.0 250.3 43.0 250.1 44.0 249.9 45.0 249.9 46.0 249.7 47.0 249.5 48.0 249.3 49.0 249.2 50.0 249.1 51.0 248.8 52.0 248.6 53.0 248.3 54.0 248.2 55.0 248.1 56.0 247.8 57.0 247.4 58.0 247.2 59.0 247.0 60.0 246.9 61.0 246.5 62.0 246.0 63.0 245.7 64.0 245.5 65.0 245.4 66.0 245.1 67.0 244.8 68.0 244.6 69.0 244.5 70.0 244.7 71.0 245.1 72.0 245.7 73.0 246.2 74.0 246.4 75.0 246.4 76.0 246.6 77.0 246.8 78.0 247.1 79.0 247.5 80.0 247.8 81.0 248.1 82.0 248.3 83.0 248.5 84.0 248.6 85.0 248.6 86.0 248.6 87.0 248.7 88.0 248.7 89.0 248.8 90.0 248.9 91.0 249.1 92.0 249.2 93.0 249.3 94.0 249.5 95.0 249.7 96.0 249.8 97.0 249.9 98.0 250.0 99.0 250.0 100.0 250.1 101.0 250.1 102.0 250.2 103.0 250.4 104.0 250.6 105.0 251.0 106.0 251.6 107.0 253.8 107.5 253.8 107.5 256.0 107.0 256.6 106.0 257.0 105.0 257.2 104.0 257.4 103.0 257.5 102.0 257.5 101.0 257.6 100.0 257.6 99.0 257.7 98.0 257.8 97.0 257.9 96.0 258.1 95.0 258.3 94.0 258.4 93.0 258.5 92.0 258.7 91.0 258.8 90.0 258.9 89.0 258.9 88.0 259.0 87.0 259.0 86.0 259.0 85.0 259.1 84.0 259.3 83.0 259.5 82.0 259.8 81.0 260.1 80.0 260.5 79.0 260.8 78.0 261.0 77.0 261.2 76.0 261.2 75.0 261.4 74.0 261.9 73.0 262.5 72.0 262.9 71.0 263.1 70.0 263.0 69.0 262.8 68.0 262.5 67.0 262.2 66.0 262.1 65.0 261.9 64.0 261.6 63.0 261.1 62.0 260.7 61.0 260.6 60.0 260.4 59.0 260.2 58.0 259.8 57.0 259.5 56.0 259.4 55.0 259.3 54.0 259.0 53.0 258.8 52.0 258.5 51.0 258.4 50.0 258.3 49.0 258.1 48.0 257.9 47.0 257.7 46.0 257.7 45.0 257.5 44.0 257.3 43.0 257.2 42.0 257.1 41.0 256.7 40.0 255.9 39.0 253.8 38.6Z"/><path fill="#121212" d="M249.0 9.0 249.3 10.0 249.5 11.0 251.3 12.0 253.8 12.6 253.8 12.6 256.3 12.0 258.1 11.0 258.3 10.0 258.6 9.0Z"/><path fill="#121212" d="M252.4 10.0 252.4 11.0 252.4 12.0 252.3 13.0 252.3 14.0 252.3 15.0 252.2 16.0 252.0 17.0 251.9 18.0 251.7 19.0 251.6 20.0 251.6 21.0 251.5 22.0 251.4 23.0 251.3 24.0 251.2 25.0 251.2 26.0 251.1 27.0 251.0 28.0 251.0 29.0 250.9 30.0 250.9 31.0 250.9 32.0 250.8 33.0 250.8 34.0 250.7 35.0 250.7 36.0 250.6 37.0 250.6 38.0 250.5 39.0 250.3 40.0 250.2 41.0 250.2 42.0 257.4 42.0 257.4 41.0 257.3 40.0 257.1 39.0 257.0 38.0 257.0 37.0 256.9 36.0 256.9 35.0 256.8 34.0 256.8 33.0 256.7 32.0 256.7 31.0 256.7 30.0 256.6 29.0 256.6 28.0 256.5 27.0 256.4 26.0 256.4 25.0 256.3 24.0 256.2 23.0 256.1 22.0 256.0 21.0 256.0 20.0 255.9 19.0 255.7 18.0 255.6 17.0 255.4 16.0 255.3 15.0 255.3 14.0 255.3 13.0 255.2 12.0 255.2 11.0 255.2 10.0Z"/><path fill="#121212" d="M253.8 38.9 252.3 39.0 251.1 40.0 250.7 41.0 250.6 42.0 250.5 43.0 250.3 44.0 250.1 45.0 250.0 46.0 249.9 47.0 249.7 48.0 249.5 49.0 249.4 50.0 249.3 51.0 249.1 52.0 248.8 53.0 248.6 54.0 248.5 55.0 248.4 56.0 248.1 57.0 247.8 58.0 247.5 59.0 247.4 60.0 247.3 61.0 246.9 62.0 246.5 63.0 246.1 64.0 246.0 65.0 245.9 66.0 245.7 67.0 245.4 68.0 245.2 69.0 245.2 70.0 245.4 71.0 245.8 72.0 246.4 73.0 246.9 74.0 247.1 75.0 247.2 76.0 247.3 77.0 247.6 78.0 247.9 79.0 248.2 80.0 248.5 81.0 248.8 82.0 249.1 83.0 249.2 84.0 249.3 85.0 249.3 86.0 249.3 87.0 249.4 88.0 249.5 89.0 249.7 90.0 249.8 91.0 250.0 92.0 250.2 93.0 250.5 94.0 250.9 95.0 251.4 96.0 253.8 96.9 253.8 96.9 256.2 96.0 256.7 95.0 257.1 94.0 257.4 93.0 257.6 92.0 257.8 91.0 257.9 90.0 258.1 89.0 258.2 88.0 258.3 87.0 258.3 86.0 258.3 85.0 258.4 84.0 258.5 83.0 258.8 82.0 259.1 81.0 259.4 80.0 259.7 79.0 260.0 78.0 260.3 77.0 260.4 76.0 260.5 75.0 260.7 74.0 261.2 73.0 261.8 72.0 262.2 71.0 262.4 70.0 262.4 69.0 262.2 68.0 261.9 67.0 261.7 66.0 261.6 65.0 261.5 64.0 261.1 63.0 260.7 62.0 260.3 61.0 260.2 60.0 260.1 59.0 259.8 58.0 259.5 57.0 259.2 56.0 259.1 55.0 259.0 54.0 258.8 53.0 258.5 52.0 258.3 51.0 258.2 50.0 258.1 49.0 257.9 48.0 257.7 47.0 257.6 46.0 257.5 45.0 257.3 44.0 257.1 43.0 257.0 42.0 256.9 41.0 256.5 40.0 255.3 39.0 253.8 38.9Z"/><path fill="#171717" d="M249.5 9.0 249.7 10.0 249.9 11.0 251.8 12.0 253.8 12.4 253.8 12.4 255.8 12.0 257.7 11.0 257.9 10.0 258.1 9.0Z"/><path fill="#171717" d="M252.6 10.0 252.5 11.0 252.5 12.0 252.5 13.0 252.5 14.0 252.5 15.0 252.3 16.0 252.2 17.0 252.0 18.0 251.9 19.0 251.8 20.0 251.7 21.0 251.6 22.0 251.5 23.0 251.4 24.0 251.3 25.0 251.3 26.0 251.2 27.0 251.1 28.0 251.1 29.0 251.1 30.0 251.0 31.0 251.0 32.0 251.0 33.0 250.9 34.0 250.9 35.0 250.8 36.0 250.7 37.0 250.7 38.0 250.6 39.0 250.5 40.0 250.4 41.0 250.3 42.0 257.3 42.0 257.2 41.0 257.1 40.0 257.0 39.0 256.9 38.0 256.9 37.0 256.8 36.0 256.7 35.0 256.7 34.0 256.6 33.0 256.6 32.0 256.6 31.0 256.5 30.0 256.5 29.0 256.5 28.0 256.4 27.0 256.3 26.0 256.3 25.0 256.2 24.0 256.1 23.0 256.0 22.0 255.9 21.0 255.8 20.0 255.7 19.0 255.6 18.0 255.4 17.0 255.3 16.0 255.1 15.0 255.1 14.0 255.1 13.0 255.1 12.0 255.1 11.0 255.0 10.0Z"/><path fill="#171717" d="M253.8 39.1 251.2 40.0 250.8 41.0 250.7 42.0 250.6 43.0 250.4 44.0 250.3 45.0 250.2 46.0 250.1 47.0 249.9 48.0 249.7 49.0 249.6 50.0 249.5 51.0 249.3 52.0 249.1 53.0 248.9 54.0 248.8 55.0 248.7 56.0 248.4 57.0 248.1 58.0 247.8 59.0 247.7 60.0 247.6 61.0 247.2 62.0 246.9 63.0 246.6 64.0 246.4 65.0 246.3 66.0 246.2 67.0 246.0 68.0 245.8 69.0 245.8 70.0 246.0 71.0 246.4 72.0 247.1 73.0 247.6 74.0 247.8 75.0 247.9 76.0 248.1 77.0 248.3 78.0 248.6 79.0 249.0 80.0 249.3 81.0 249.6 82.0 249.9 83.0 250.1 84.0 250.1 85.0 250.1 86.0 250.2 87.0 250.4 88.0 250.6 89.0 250.8 90.0 251.3 91.0 253.8 91.9 253.8 91.9 256.3 91.0 256.8 90.0 257.0 89.0 257.2 88.0 257.4 87.0 257.5 86.0 257.5 85.0 257.5 84.0 257.7 83.0 258.0 82.0 258.3 81.0 258.6 80.0 259.0 79.0 259.3 78.0 259.5 77.0 259.7 76.0 259.8 75.0 260.0 74.0 260.5 73.0 261.2 72.0 261.6 71.0 261.8 70.0 261.8 69.0 261.6 68.0 261.4 67.0 261.3 66.0 261.2 65.0 261.0 64.0 260.7 63.0 260.4 62.0 260.0 61.0 259.9 60.0 259.8 59.0 259.5 58.0 259.2 57.0 258.9 56.0 258.8 55.0 258.7 54.0 258.5 53.0 258.3 52.0 258.1 51.0 258.0 50.0 257.9 49.0 257.7 48.0 257.5 47.0 257.4 46.0 257.3 45.0 257.2 44.0 257.0 43.0 256.9 42.0 256.8 41.0 256.4 40.0 253.8 39.1Z"/><path fill="#1d1d1d" d="M249.8 9.0 250.0 10.0 250.2 11.0 252.2 12.0 253.8 12.3 253.8 12.3 255.4 12.0 257.4 11.0 257.6 10.0 257.8 9.0Z"/><path fill="#1d1d1d" d="M252.7 10.0 252.7 11.0 252.7 12.0 252.7 13.0 252.7 14.0 252.7 15.0 252.5 16.0 252.3 17.0 252.2 18.0 252.0 19.0 251.9 20.0 251.8 21.0 251.7 22.0 251.6 23.0 251.5 24.0 251.4 25.0 251.4 26.0 251.3 27.0 251.2 28.0 251.2 29.0 251.2 30.0 251.1 31.0 251.1 32.0 251.1 33.0 251.0 34.0 251.0 35.0 251.0 36.0 250.9 37.0 250.8 38.0 250.8 39.0 250.7 40.0 250.5 41.0 250.5 42.0 257.1 42.0 257.1 41.0 256.9 40.0 256.8 39.0 256.8 38.0 256.7 37.0 256.6 36.0 256.6 35.0 256.6 34.0 256.5 33.0 256.5 32.0 256.5 31.0 256.4 30.0 256.4 29.0 256.4 28.0 256.3 27.0 256.2 26.0 256.2 25.0 256.1 24.0 256.0 23.0 255.9 22.0 255.8 21.0 255.7 20.0 255.6 19.0 255.4 18.0 255.3 17.0 255.1 16.0 254.9 15.0 254.9 14.0 254.9 13.0 254.9 12.0 254.9 11.0 254.9 10.0Z"/><path fill="#1d1d1d" d="M253.8 39.2 251.4 40.0 250.9 41.0 250.8 42.0 250.7 43.0 250.6 44.0 250.4 45.0 250.3 46.0 250.2 47.0 250.0 48.0 249.9 49.0 249.8 50.0 249.7 51.0 249.5 52.0 249.3 53.0 249.1 54.0 249.0 55.0 248.9 56.0 248.6 57.0 248.3 58.0 248.1 59.0 248.0 60.0 247.9 61.0 247.6 62.0 247.2 63.0 246.9 64.0 246.8 65.0 246.7 66.0 246.6 67.0 246.4 68.0 246.4 69.0 246.3 70.0 246.6 71.0 247.1 72.0 247.7 73.0 248.4 74.0 248.7 75.0 248.8 76.0 248.9 77.0 249.2 78.0 249.6 79.0 250.0 80.0 250.4 81.0 250.9 82.0 251.5 83.0 252.2 84.0 253.8 85.0 253.8 85.0 255.4 84.0 256.1 83.0 256.7 82.0 257.2 81.0 257.6 80.0 258.0 79.0 258.4 78.0 258.7 77.0 258.8 76.0 258.9 75.0 259.2 74.0 259.9 73.0 260.5 72.0 261.0 71.0 261.3 70.0 261.2 69.0 261.2 68.0 261.0 67.0 260.9 66.0 260.8 65.0 260.7 64.0 260.4 63.0 260.0 62.0 259.7 61.0 259.6 60.0 259.5 59.0 259.3 58.0 259.0 57.0 258.7 56.0 258.6 55.0 258.5 54.0 258.3 53.0 258.1 52.0 257.9 51.0 257.8 50.0 257.7 49.0 257.6 48.0 257.4 47.0 257.3 46.0 257.2 45.0 257.0 44.0 256.9 43.0 256.8 42.0 256.7 41.0 256.2 40.0 253.8 39.2Z"/><path fill="#252525" d="M250.3 9.0 250.5 10.0 250.6 11.0 253.1 12.0 253.8 12.1 253.8 12.1 254.5 12.0 257.0 11.0 257.1 10.0 257.3 9.0Z"/><path fill="#252525" d="M253.2 10.0 253.1 11.0 253.1 12.0 253.1 13.0 253.0 14.0 253.0 15.0 252.7 16.0 252.5 17.0 252.3 18.0 252.1 19.0 252.0 20.0 251.9 21.0 251.8 22.0 251.7 23.0 251.7 24.0 251.6 25.0 251.5 26.0 251.5 27.0 251.4 28.0 251.3 29.0 251.3 30.0 251.3 31.0 251.2 32.0 251.2 33.0 251.2 34.0 251.1 35.0 251.1 36.0 251.0 37.0 251.0 38.0 251.0 39.0 250.8 40.0 250.7 41.0 250.7 42.0 256.9 42.0 256.9 41.0 256.8 40.0 256.6 39.0 256.6 38.0 256.6 37.0 256.5 36.0 256.5 35.0 256.4 34.0 256.4 33.0 256.4 32.0 256.3 31.0 256.3 30.0 256.3 29.0 256.2 28.0 256.1 27.0 256.1 26.0 256.0 25.0 255.9 24.0 255.9 23.0 255.8 22.0 255.7 21.0 255.6 20.0 255.5 19.0 255.3 18.0 255.1 17.0 254.9 16.0 254.6 15.0 254.6 14.0 254.5 13.0 254.5 12.0 254.5 11.0 254.4 10.0Z"/><path fill="#252525" d="M253.8 39.4 251.6 40.0 251.1 41.0 250.9 42.0 250.9 43.0 250.7 44.0 250.6 45.0 250.5 46.0 250.4 47.0 250.3 48.0 250.1 49.0 250.0 50.0 249.9 51.0 249.7 52.0 249.5 53.0 249.4 54.0 249.3 55.0 249.2 56.0 249.0 57.0 248.7 58.0 248.5 59.0 248.4 60.0 248.3 61.0 248.0 62.0 247.7 63.0 247.5 64.0 247.4 65.0 247.3 66.0 247.2 67.0 247.2 68.0 247.2 69.0 247.3 70.0 247.5 71.0 248.1 72.0 249.1 73.0 250.4 74.0 253.8 75.0 253.8 75.0 257.2 74.0 258.5 73.0 259.5 72.0 260.1 71.0 260.3 70.0 260.4 69.0 260.4 68.0 260.4 67.0 260.3 66.0 260.2 65.0 260.1 64.0 259.9 63.0 259.6 62.0 259.3 61.0 259.2 60.0 259.1 59.0 258.9 58.0 258.6 57.0 258.4 56.0 258.3 55.0 258.2 54.0 258.1 53.0 257.9 52.0 257.7 51.0 257.6 50.0 257.5 49.0 257.3 48.0 257.2 47.0 257.1 46.0 257.0 45.0 256.9 44.0 256.7 43.0 256.7 42.0 256.5 41.0 256.0 40.0 253.8 39.4Z"/><path fill="#2e2e2e" d="M250.7 9.0 250.9 10.0 251.0 11.0 253.8 11.9 253.8 11.9 256.6 11.0 256.7 10.0 256.9 9.0Z"/><path fill="#2e2e2e" d="M253.8 15.3 253.0 16.0 252.7 17.0 252.5 18.0 252.2 19.0 252.1 20.0 252.1 21.0 251.9 22.0 251.8 23.0 251.8 24.0 251.7 25.0 251.6 26.0 251.6 27.0 251.5 28.0 251.4 29.0 251.4 30.0 251.4 31.0 251.4 32.0 251.3 33.0 251.3 34.0 251.3 35.0 251.2 36.0 251.2 37.0 251.2 38.0 251.1 39.0 251.0 40.0 250.9 41.0 250.9 42.0 256.7 42.0 256.7 41.0 256.6 40.0 256.5 39.0 256.4 38.0 256.4 37.0 256.4 36.0 256.3 35.0 256.3 34.0 256.3 33.0 256.2 32.0 256.2 31.0 256.2 30.0 256.2 29.0 256.1 28.0 256.0 27.0 256.0 26.0 255.9 25.0 255.8 24.0 255.8 23.0 255.7 22.0 255.5 21.0 255.5 20.0 255.4 19.0 255.1 18.0 254.9 17.0 254.6 16.0 253.8 15.3Z"/><path fill="#2e2e2e" d="M253.8 39.6 251.9 40.0 251.2 41.0 251.1 42.0 251.0 43.0 250.9 44.0 250.7 45.0 250.7 46.0 250.6 47.0 250.4 48.0 250.3 49.0 250.2 50.0 250.1 51.0 250.0 52.0 249.8 53.0 249.6 54.0 249.6 55.0 249.5 56.0 249.3 57.0 249.0 58.0 248.9 59.0 248.8 60.0 248.7 61.0 248.5 62.0 248.2 63.0 248.0 64.0 248.0 65.0 248.0 66.0 248.0 67.0 248.1 68.0 248.3 69.0 248.4 70.0 248.8 71.0 250.0 72.0 253.8 72.5 253.8 72.5 257.6 72.0 258.8 71.0 259.2 70.0 259.3 69.0 259.5 68.0 259.6 67.0 259.6 66.0 259.6 65.0 259.6 64.0 259.4 63.0 259.1 62.0 258.9 61.0 258.8 60.0 258.7 59.0 258.6 58.0 258.3 57.0 258.1 56.0 258.0 55.0 258.0 54.0 257.8 53.0 257.6 52.0 257.5 51.0 257.4 50.0 257.3 49.0 257.2 48.0 257.0 47.0 256.9 46.0 256.9 45.0 256.7 44.0 256.6 43.0 256.5 42.0 256.4 41.0 255.7 40.0 253.8 39.6Z"/><path fill="#383838" d="M251.3 9.0 251.4 10.0 251.5 11.0 253.8 11.6 253.8 11.6 256.1 11.0 256.2 10.0 256.3 9.0Z"/><path fill="#383838" d="M253.8 16.4 253.1 17.0 252.7 18.0 252.4 19.0 252.3 20.0 252.2 21.0 252.1 22.0 252.0 23.0 251.9 24.0 251.8 25.0 251.8 26.0 251.7 27.0 251.6 28.0 251.6 29.0 251.5 30.0 251.5 31.0 251.5 32.0 251.5 33.0 251.4 34.0 251.4 35.0 251.4 36.0 251.4 37.0 251.3 38.0 251.3 39.0 251.2 40.0 251.2 41.0 251.1 42.0 256.5 42.0 256.4 41.0 256.4 40.0 256.3 39.0 256.3 38.0 256.2 37.0 256.2 36.0 256.2 35.0 256.2 34.0 256.1 33.0 256.1 32.0 256.1 31.0 256.1 30.0 256.0 29.0 256.0 28.0 255.9 27.0 255.8 26.0 255.8 25.0 255.7 24.0 255.6 23.0 255.5 22.0 255.4 21.0 255.3 20.0 255.2 19.0 254.9 18.0 254.5 17.0 253.8 16.4Z"/><path fill="#383838" d="M253.8 39.9 252.4 40.0 251.4 41.0 251.2 42.0 251.2 43.0 251.1 44.0 250.9 45.0 250.9 46.0 250.8 47.0 250.7 48.0 250.6 49.0 250.5 50.0 250.4 51.0 250.3 52.0 250.1 53.0 250.0 54.0 250.0 55.0 249.9 56.0 249.7 57.0 249.5 58.0 249.4 59.0 249.3 60.0 249.3 61.0 249.1 62.0 249.0 63.0 248.9 64.0 248.9 65.0 249.0 66.0 249.2 67.0 250.0 68.0 253.8 68.7 253.8 68.7 257.6 68.0 258.4 67.0 258.6 66.0 258.7 65.0 258.7 64.0 258.6 63.0 258.5 62.0 258.3 61.0 258.3 60.0 258.2 59.0 258.1 58.0 257.9 57.0 257.7 56.0 257.6 55.0 257.6 54.0 257.5 53.0 257.3 52.0 257.2 51.0 257.1 50.0 257.0 49.0 256.9 48.0 256.8 47.0 256.7 46.0 256.7 45.0 256.5 44.0 256.4 43.0 256.4 42.0 256.2 41.0 255.2 40.0 253.8 39.9Z"/><path fill="#424242" d="M251.8 9.0 251.9 10.0 252.1 11.0 253.8 11.4 253.8 11.4 255.5 11.0 255.7 10.0 255.8 9.0Z"/><path fill="#424242" d="M253.8 17.5 253.1 18.0 252.6 19.0 252.5 20.0 252.4 21.0 252.2 22.0 252.1 23.0 252.1 24.0 252.0 25.0 251.9 26.0 251.8 27.0 251.7 28.0 251.7 29.0 251.7 30.0 251.6 31.0 251.6 32.0 251.6 33.0 251.6 34.0 251.6 35.0 251.6 36.0 251.5 37.0 251.5 38.0 251.5 39.0 251.4 40.0 251.4 41.0 251.3 42.0 256.3 42.0 256.2 41.0 256.2 40.0 256.1 39.0 256.1 38.0 256.1 37.0 256.0 36.0 256.0 35.0 256.0 34.0 256.0 33.0 256.0 32.0 256.0 31.0 255.9 30.0 255.9 29.0 255.9 28.0 255.8 27.0 255.7 26.0 255.6 25.0 255.5 24.0 255.5 23.0 255.4 22.0 255.2 21.0 255.1 20.0 255.0 19.0 254.5 18.0 253.8 17.5Z"/><path fill="#424242" d="M253.8 40.1 251.6 41.0 251.4 42.0 251.3 43.0 251.2 44.0 251.2 45.0 251.1 46.0 251.1 47.0 251.0 48.0 250.9 49.0 250.8 50.0 250.8 51.0 250.7 52.0 250.5 53.0 250.4 54.0 250.4 55.0 250.4 56.0 250.2 57.0 250.1 58.0 250.1 59.0 250.0 60.0 250.0 61.0 250.0 62.0 250.1 63.0 250.4 64.0 250.6 65.0 251.2 66.0 253.8 66.3 253.8 66.3 256.4 66.0 257.0 65.0 257.2 64.0 257.5 63.0 257.6 62.0 257.6 61.0 257.6 60.0 257.5 59.0 257.5 58.0 257.4 57.0 257.2 56.0 257.2 55.0 257.2 54.0 257.1 53.0 256.9 52.0 256.8 51.0 256.8 50.0 256.7 49.0 256.6 48.0 256.5 47.0 256.5 46.0 256.4 45.0 256.4 44.0 256.3 43.0 256.2 42.0 256.0 41.0 253.8 40.1Z"/><path fill="#4c4c4c" d="M252.5 9.0 252.5 10.0 252.7 11.0 253.8 11.2 253.8 11.2 254.9 11.0 255.1 10.0 255.1 9.0Z"/><path fill="#4c4c4c" d="M253.8 18.3 252.8 19.0 252.6 20.0 252.5 21.0 252.3 22.0 252.3 23.0 252.2 24.0 252.1 25.0 252.0 26.0 252.0 27.0 251.9 28.0 251.8 29.0 251.8 30.0 251.8 31.0 251.7 32.0 251.7 33.0 251.7 34.0 251.7 35.0 251.7 36.0 251.7 37.0 251.7 38.0 251.7 39.0 251.6 40.0 251.6 41.0 251.6 42.0 256.0 42.0 256.0 41.0 256.0 40.0 255.9 39.0 255.9 38.0 255.9 37.0 255.9 36.0 255.9 35.0 255.9 34.0 255.9 33.0 255.9 32.0 255.8 31.0 255.8 30.0 255.8 29.0 255.7 28.0 255.6 27.0 255.6 26.0 255.5 25.0 255.4 24.0 255.3 23.0 255.3 22.0 255.1 21.0 255.0 20.0 254.8 19.0 253.8 18.3Z"/><path fill="#4c4c4c" d="M253.8 40.4 251.8 41.0 251.6 42.0 251.5 43.0 251.4 44.0 251.4 45.0 251.4 46.0 251.3 47.0 251.3 48.0 251.2 49.0 251.2 50.0 251.2 51.0 251.1 52.0 251.0 53.0 251.0 54.0 251.0 55.0 251.0 56.0 251.0 57.0 251.0 58.0 251.2 59.0 251.3 60.0 251.6 61.0 253.8 61.6 253.8 61.6 256.0 61.0 256.3 60.0 256.4 59.0 256.6 58.0 256.6 57.0 256.6 56.0 256.6 55.0 256.6 54.0 256.6 53.0 256.5 52.0 256.4 51.0 256.4 50.0 256.4 49.0 256.3 48.0 256.3 47.0 256.2 46.0 256.2 45.0 256.2 44.0 256.1 43.0 256.0 42.0 255.8 41.0 253.8 40.4Z"/><path fill="#575757" d="M253.8 18.8 253.2 19.0 252.9 20.0 252.7 21.0 252.5 22.0 252.4 23.0 252.3 24.0 252.2 25.0 252.1 26.0 252.1 27.0 252.0 28.0 251.9 29.0 251.9 30.0 251.9 31.0 251.9 32.0 251.9 33.0 251.9 34.0 251.9 35.0 251.9 36.0 251.8 37.0 251.8 38.0 251.8 39.0 251.8 40.0 251.8 41.0 251.8 42.0 255.8 42.0 255.8 41.0 255.8 40.0 255.8 39.0 255.8 38.0 255.8 37.0 255.7 36.0 255.7 35.0 255.7 34.0 255.7 33.0 255.7 32.0 255.7 31.0 255.7 30.0 255.7 29.0 255.6 28.0 255.5 27.0 255.5 26.0 255.4 25.0 255.3 24.0 255.2 23.0 255.1 22.0 254.9 21.0 254.7 20.0 254.4 19.0 253.8 18.8Z"/><path fill="#575757" d="M253.8 40.7 252.1 41.0 251.7 42.0 251.7 43.0 251.7 44.0 251.7 45.0 251.7 46.0 251.6 47.0 251.6 48.0 251.7 49.0 251.7 50.0 251.7 51.0 251.8 52.0 252.0 53.0 252.4 54.0 253.8 55.0 253.8 55.0 255.2 54.0 255.6 53.0 255.8 52.0 255.9 51.0 255.9 50.0 255.9 49.0 256.0 48.0 256.0 47.0 255.9 46.0 255.9 45.0 255.9 44.0 255.9 43.0 255.9 42.0 255.5 41.0 253.8 40.7Z"/><path fill="#616161" d="M253.8 19.7 253.3 20.0 253.0 21.0 252.7 22.0 252.6 23.0 252.5 24.0 252.3 25.0 252.3 26.0 252.2 27.0 252.1 28.0 252.0 29.0 252.0 30.0 252.0 31.0 252.0 32.0 252.0 33.0 252.0 34.0 252.0 35.0 252.0 36.0 252.0 37.0 252.0 38.0 252.0 39.0 252.0 40.0 252.1 41.0 252.1 42.0 255.5 42.0 255.5 41.0 255.6 40.0 255.6 39.0 255.6 38.0 255.6 37.0 255.6 36.0 255.6 35.0 255.6 34.0 255.6 33.0 255.6 32.0 255.6 31.0 255.6 30.0 255.6 29.0 255.5 28.0 255.4 27.0 255.3 26.0 255.3 25.0 255.1 24.0 255.0 23.0 254.9 22.0 254.6 21.0 254.3 20.0 253.8 19.7Z"/><path fill="#616161" d="M253.8 40.9 252.7 41.0 252.0 42.0 252.0 43.0 252.0 44.0 252.0 45.0 252.1 46.0 252.1 47.0 252.4 48.0 253.8 48.7 253.8 48.7 255.2 48.0 255.5 47.0 255.5 46.0 255.6 45.0 255.6 44.0 255.6 43.0 255.6 42.0 254.9 41.0 253.8 40.9Z"/><path fill="#6b6b6b" d="M253.8 21.0 252.9 22.0 252.7 23.0 252.6 24.0 252.5 25.0 252.4 26.0 252.3 27.0 252.2 28.0 252.2 29.0 252.1 30.0 252.1 31.0 252.1 32.0 252.1 33.0 252.1 34.0 252.2 35.0 252.2 36.0 252.2 37.0 252.2 38.0 252.2 39.0 252.3 40.0 252.4 41.0 252.5 42.0 255.1 42.0 255.2 41.0 255.3 40.0 255.4 39.0 255.4 38.0 255.4 37.0 255.4 36.0 255.4 35.0 255.5 34.0 255.5 33.0 255.5 32.0 255.5 31.0 255.5 30.0 255.4 29.0 255.4 28.0 255.3 27.0 255.2 26.0 255.1 25.0 255.0 24.0 254.9 23.0 254.7 22.0 253.8 21.0Z"/><path fill="#6b6b6b" d="M253.8 41.4 252.3 42.0 252.3 43.0 252.5 44.0 253.8 44.9 253.8 44.9 255.1 44.0 255.3 43.0 255.3 42.0 253.8 41.4Z"/><path fill="#757575" d="M253.8 21.8 253.3 22.0 253.0 23.0 252.8 24.0 252.6 25.0 252.5 26.0 252.5 27.0 252.3 28.0 252.3 29.0 252.3 30.0 252.2 31.0 252.2 32.0 252.2 33.0 252.3 34.0 252.3 35.0 252.3 36.0 252.4 37.0 252.5 38.0 252.5 39.0 252.6 40.0 253.0 41.0 253.8 42.0 253.8 42.0 254.6 41.0 255.0 40.0 255.1 39.0 255.1 38.0 255.2 37.0 255.3 36.0 255.3 35.0 255.3 34.0 255.4 33.0 255.4 32.0 255.4 31.0 255.3 30.0 255.3 29.0 255.3 28.0 255.1 27.0 255.1 26.0 255.0 25.0 254.8 24.0 254.6 23.0 254.3 22.0 253.8 21.8Z"/><path fill="#808080" d="M253.8 23.0 253.1 24.0 252.8 25.0 252.7 26.0 252.6 27.0 252.5 28.0 252.4 29.0 252.4 30.0 252.4 31.0 252.4 32.0 252.4 33.0 252.5 34.0 252.5 35.0 252.6 36.0 252.7 37.0 252.8 38.0 252.9 39.0 253.8 39.8 253.8 39.8 254.7 39.0 254.8 38.0 254.9 37.0 255.0 36.0 255.1 35.0 255.1 34.0 255.2 33.0 255.2 32.0 255.2 31.0 255.2 30.0 255.2 29.0 255.1 28.0 255.0 27.0 254.9 26.0 254.8 25.0 254.5 24.0 253.8 23.0Z"/><path fill="#8a8a8a" d="M253.8 24.5 253.1 25.0 253.0 26.0 252.8 27.0 252.6 28.0 252.6 29.0 252.6 30.0 252.5 31.0 252.5 32.0 252.6 33.0 252.7 34.0 252.7 35.0 252.8 36.0 253.3 37.0 253.8 37.4 253.8 37.4 254.3 37.0 254.8 36.0 254.9 35.0 254.9 34.0 255.0 33.0 255.1 32.0 255.1 31.0 255.0 30.0 255.0 29.0 255.0 28.0 254.8 27.0 254.6 26.0 254.5 25.0 253.8 24.5Z"/><path fill="#949494" d="M253.8 26.0 253.2 27.0 252.9 28.0 252.8 29.0 252.7 30.0 252.7 31.0 252.7 32.0 252.8 33.0 253.0 34.0 253.2 35.0 253.8 35.6 253.8 35.6 254.4 35.0 254.6 34.0 254.8 33.0 254.9 32.0 254.9 31.0 254.9 30.0 254.8 29.0 254.7 28.0 254.4 27.0 253.8 26.0Z"/><path fill="#9e9e9e" d="M253.8 27.6 253.2 28.0 253.0 29.0 253.0 30.0 253.0 31.0 253.0 32.0 253.2 33.0 253.8 33.5 253.8 33.5 254.4 33.0 254.6 32.0 254.6 31.0 254.6 30.0 254.6 29.0 254.4 28.0 253.8 27.6Z"/></g></g>
<rect x="232.60" y="111.10" width="2.50" height="17.90" fill="#e6e6e6" stroke="#b0b0b0" stroke-width="0.8"/>
<rect x="232.20" y="110.70" width="3.30" height="2.00" rx="0.9" fill="#adadad"/>
<rect x="272.40" y="111.10" width="2.50" height="17.90" fill="#e6e6e6" stroke="#b0b0b0" stroke-width="0.8"/>
<rect x="272.00" y="110.70" width="3.30" height="2.00" rx="0.9" fill="#adadad"/>
<text class="d" x="200.00" y="131.05" font-size="5.60" text-anchor="end">0</text>
<line x1="202.00" y1="129.00" x2="203.50" y2="129.00" stroke="#999" stroke-width="0.6"/>
<text class="d" x="200.00" y="119.15" font-size="5.60" text-anchor="end">1</text>
<line x1="202.00" y1="117.10" x2="203.50" y2="117.10" stroke="#999" stroke-width="0.6"/>
<text class="d" x="200.00" y="107.25" font-size="5.60" text-anchor="end">2</text>
<line x1="202.00" y1="105.20" x2="203.50" y2="105.20" stroke="#999" stroke-width="0.6"/>
<text class="d" x="200.00" y="95.35" font-size="5.60" text-anchor="end">3</text>
<line x1="202.00" y1="93.30" x2="203.50" y2="93.30" stroke="#999" stroke-width="0.6"/>
<text class="d" x="200.00" y="83.45" font-size="5.60" text-anchor="end">4</text>
<line x1="202.00" y1="81.40" x2="203.50" y2="81.40" stroke="#999" stroke-width="0.6"/>
<text class="d" x="200.00" y="71.55" font-size="5.60" text-anchor="end">5</text>
<line x1="202.00" y1="69.50" x2="203.50" y2="69.50" stroke="#999" stroke-width="0.6"/>
<text class="d" x="200.00" y="59.65" font-size="5.60" text-anchor="end">6</text>
<line x1="202.00" y1="57.60" x2="203.50" y2="57.60" stroke="#999" stroke-width="0.6"/>
<text class="d" x="200.00" y="47.75" font-size="5.60" text-anchor="end">7</text>
<line x1="202.00" y1="45.70" x2="203.50" y2="45.70" stroke="#999" stroke-width="0.6"/>
<text class="d" x="200.00" y="35.85" font-size="5.60" text-anchor="end">8</text>
<line x1="202.00" y1="33.80" x2="203.50" y2="33.80" stroke="#999" stroke-width="0.6"/>
<text class="d" x="200.00" y="23.95" font-size="5.60" text-anchor="end">9</text>
<line x1="202.00" y1="21.90" x2="203.50" y2="21.90" stroke="#999" stroke-width="0.6"/>
<text class="d" x="200.00" y="12.05" font-size="5.60" text-anchor="end">10</text>
<line x1="202.00" y1="10.00" x2="203.50" y2="10.00" stroke="#999" stroke-width="0.6"/>
<text class="d" x="216.20" y="144.65" font-size="5.60" text-anchor="middle">-4</text>
<line x1="216.20" y1="138.30" x2="216.20" y2="136.80" stroke="#999" stroke-width="0.6"/>
<line x1="216.20" y1="0.80" x2="216.20" y2="2.30" stroke="#999" stroke-width="0.6"/>
<text class="d" x="234.90" y="144.65" font-size="5.60" text-anchor="middle">-2</text>
<line x1="234.90" y1="138.30" x2="234.90" y2="136.80" stroke="#999" stroke-width="0.6"/>
<line x1="234.90" y1="0.80" x2="234.90" y2="2.30" stroke="#999" stroke-width="0.6"/>
<text class="d" x="253.60" y="144.65" font-size="5.60" text-anchor="middle">0</text>
<line x1="253.60" y1="138.30" x2="253.60" y2="136.80" stroke="#999" stroke-width="0.6"/>
<line x1="253.60" y1="0.80" x2="253.60" y2="2.30" stroke="#999" stroke-width="0.6"/>
<text class="d" x="272.30" y="144.65" font-size="5.60" text-anchor="middle">2</text>
<line x1="272.30" y1="138.30" x2="272.30" y2="136.80" stroke="#999" stroke-width="0.6"/>
<line x1="272.30" y1="0.80" x2="272.30" y2="2.30" stroke="#999" stroke-width="0.6"/>
<text class="d" x="291.00" y="144.65" font-size="5.60" text-anchor="middle">4</text>
<line x1="291.00" y1="138.30" x2="291.00" y2="136.80" stroke="#999" stroke-width="0.6"/>
<line x1="291.00" y1="0.80" x2="291.00" y2="2.30" stroke="#999" stroke-width="0.6"/>
<text x="254.20" y="153.70" font-size="8" font-weight="bold" fill="#1a1a1a" stroke="#1a1a1a" stroke-width="0.2" text-anchor="middle"><tspan font-style="italic">r</tspan> (mm)</text>
<text transform="translate(182.30 74.00) rotate(-90)" font-size="8" font-weight="bold" fill="#1a1a1a" stroke="#1a1a1a" stroke-width="0.2" text-anchor="middle"><tspan font-style="italic">z</tspan> (mm)</text>
<rect x="312.90" y="16.40" width="4.20" height="125.70" fill="url(#cb)"/>
<text class="d" x="318.80" y="130.77" font-size="5.80">1</text>
<text class="d" x="318.80" y="117.34" font-size="5.80">2</text>
<text class="d" x="318.80" y="103.91" font-size="5.80">3</text>
<text class="d" x="318.80" y="90.48" font-size="5.80">4</text>
<text class="d" x="318.80" y="77.05" font-size="5.80">5</text>
<text class="d" x="318.80" y="63.62" font-size="5.80">6</text>
<text class="d" x="318.80" y="50.19" font-size="5.80">7</text>
<text class="d" x="318.80" y="36.76" font-size="5.80">8</text>
<text class="d" x="318.80" y="23.33" font-size="5.80">9</text>
<path d="M309.40 5.90 L314.60 5.90 L312.00 1.80 Z" fill="#111"/>
<text class="d" x="317.20" y="6.40" font-size="5.55">9.36×10<tspan font-size="3.4" dy="-3.0">10</tspan></text>
<text class="d" x="317.20" y="12.90" font-size="5.4">×10<tspan font-size="3.4" dy="-3.0">10</tspan></text>
<path d="M309.80 147.30 L315.00 147.30 L312.40 151.30 Z" fill="#111"/>
<text class="d" x="317.70" y="151.20" font-size="5.4">4.78×10<tspan font-size="3.4" dy="-3.0">8</tspan></text>
<text x="223.60" y="26.80" font-size="8.3" font-weight="bold" fill="#f0f0ff">He<tspan font-size="4.6" dy="-2.9">*</tspan></text>
<rect x="376.00" y="0.50" width="103.70" height="136.70" fill="#fff" stroke="#c4c4c4" stroke-width="1"/>
<path d="M380.20 68.90 V128.10 H475.10 V68.90" fill="none" stroke="#a8a8a8" stroke-width="0.9"/>
<path d="M380.20 9.70H475.10V68.90H437.10V128.10H418.00V68.90H380.20Z" fill="#000087"/>
<g clip-path="url(#cp2)"><g filter="url(#jf)"><rect x="375.2" y="4.7" width="104.9" height="128.4" fill="#000"/><path fill="#080808" d="M425.6 9.7 425.5 10.7 425.4 11.7 425.3 12.7 425.2 13.7 425.0 14.7 425.0 15.7 424.9 16.7 424.7 17.7 424.7 18.7 424.5 19.7 424.5 20.7 424.4 21.7 424.3 22.7 424.2 23.7 424.2 24.7 424.1 25.7 424.1 26.7 424.1 27.7 424.1 28.7 424.1 29.7 424.1 30.7 424.2 31.7 424.1 32.7 424.1 33.7 424.1 34.7 424.0 35.7 423.9 36.7 423.8 37.7 423.8 38.7 423.6 39.7 423.5 40.7 423.3 41.7 423.2 42.7 423.1 43.7 422.9 44.7 422.8 45.7 422.7 46.7 422.6 47.7 422.5 48.7 422.6 49.7 422.7 50.7 422.8 51.7 422.9 52.7 422.9 53.7 423.2 54.7 423.6 55.7 424.9 56.7 427.3 57.0 427.3 57.0 429.7 56.7 431.0 55.7 431.4 54.7 431.7 53.7 431.7 52.7 431.8 51.7 431.9 50.7 432.0 49.7 432.1 48.7 432.0 47.7 431.9 46.7 431.8 45.7 431.7 44.7 431.5 43.7 431.4 42.7 431.3 41.7 431.1 40.7 431.0 39.7 430.8 38.7 430.8 37.7 430.7 36.7 430.6 35.7 430.5 34.7 430.5 33.7 430.5 32.7 430.4 31.7 430.5 30.7 430.5 29.7 430.5 28.7 430.5 27.7 430.5 26.7 430.5 25.7 430.4 24.7 430.4 23.7 430.3 22.7 430.2 21.7 430.1 20.7 430.1 19.7 429.9 18.7 429.9 17.7 429.7 16.7 429.6 15.7 429.6 14.7 429.4 13.7 429.3 12.7 429.2 11.7 429.1 10.7 429.0 9.7Z"/><path fill="#080808" d="M428.6 42.0 426.4 42.7 425.8 43.7 425.8 44.7 426.0 45.7 426.3 46.7 426.6 47.7 426.8 48.7 426.8 49.7 426.9 50.7 427.1 51.7 427.3 52.7 427.5 53.7 427.6 54.7 427.8 55.7 427.8 56.7 427.9 57.7 428.1 58.7 428.3 59.7 428.6 60.7 428.8 61.7 428.9 62.7 429.0 63.7 429.1 64.7 429.4 65.7 429.7 66.7 430.0 67.7 430.1 68.7 430.2 69.7 430.4 70.7 431.0 71.7 432.8 72.7 432.8 72.7 434.6 71.7 435.2 70.7 435.4 69.7 435.5 68.7 435.6 67.7 435.7 66.7 435.7 65.7 435.7 64.7 435.7 63.7 435.7 62.7 435.7 61.7 435.5 60.7 435.3 59.7 435.0 58.7 434.8 57.7 434.8 56.7 434.7 55.7 434.5 54.7 434.3 53.7 434.0 52.7 433.8 51.7 433.5 50.7 433.4 49.7 433.3 48.7 433.0 47.7 432.6 46.7 432.1 45.7 431.8 44.7 431.7 43.7 430.8 42.7 428.6 42.0Z"/><path fill="#080808" d="M426.0 42.0 423.8 42.7 422.9 43.7 422.8 44.7 422.5 45.7 422.0 46.7 421.6 47.7 421.3 48.7 421.2 49.7 421.1 50.7 420.8 51.7 420.6 52.7 420.3 53.7 420.1 54.7 419.9 55.7 419.8 56.7 419.8 57.7 419.6 58.7 419.3 59.7 419.1 60.7 418.9 61.7 418.9 62.7 418.9 63.7 418.9 64.7 418.9 65.7 418.9 66.7 419.0 67.7 419.1 68.7 419.2 69.7 419.4 70.7 420.0 71.7 421.8 72.7 421.8 72.7 423.6 71.7 424.2 70.7 424.4 69.7 424.5 68.7 424.6 67.7 424.9 66.7 425.2 65.7 425.5 64.7 425.6 63.7 425.7 62.7 425.8 61.7 426.0 60.7 426.3 59.7 426.5 58.7 426.7 57.7 426.8 56.7 426.8 55.7 427.0 54.7 427.1 53.7 427.3 52.7 427.5 51.7 427.7 50.7 427.8 49.7 427.8 48.7 428.0 47.7 428.3 46.7 428.6 45.7 428.8 44.7 428.8 43.7 428.2 42.7 426.0 42.0Z"/><path fill="#080808" d="M427.3 68.2 424.8 68.7 423.4 69.7 422.8 70.7 422.6 71.7 422.6 72.7 422.6 73.7 422.6 74.7 422.6 75.7 422.6 76.7 422.6 77.7 422.7 78.7 422.7 79.7 422.7 80.7 422.7 81.7 422.8 82.7 422.8 83.7 422.8 84.7 422.9 85.7 422.9 86.7 422.9 87.7 423.0 88.7 423.0 89.7 423.1 90.7 423.1 91.7 423.2 92.7 423.2 93.7 423.2 94.7 423.3 95.7 423.3 96.7 423.4 97.7 423.4 98.7 423.5 99.7 423.5 100.7 423.5 101.7 423.6 102.7 423.6 103.7 423.6 104.7 423.7 105.7 423.7 106.7 423.7 107.7 423.7 108.7 423.7 109.7 423.7 110.7 423.7 111.7 423.8 112.7 423.9 113.7 424.0 114.7 424.1 115.7 424.3 116.7 424.4 117.7 424.6 118.7 424.8 119.7 425.1 120.7 425.3 121.7 425.6 122.7 425.9 123.7 426.2 124.7 426.6 125.7 426.9 126.7 427.3 127.7 427.3 127.7 427.7 126.7 428.0 125.7 428.4 124.7 428.7 123.7 429.0 122.7 429.3 121.7 429.5 120.7 429.8 119.7 430.0 118.7 430.2 117.7 430.3 116.7 430.5 115.7 430.6 114.7 430.7 113.7 430.8 112.7 430.9 111.7 430.9 110.7 430.9 109.7 430.9 108.7 430.9 107.7 430.9 106.7 430.9 105.7 431.0 104.7 431.0 103.7 431.0 102.7 431.1 101.7 431.1 100.7 431.1 99.7 431.2 98.7 431.2 97.7 431.3 96.7 431.3 95.7 431.4 94.7 431.4 93.7 431.4 92.7 431.5 91.7 431.5 90.7 431.6 89.7 431.6 88.7 431.7 87.7 431.7 86.7 431.7 85.7 431.8 84.7 431.8 83.7 431.8 82.7 431.9 81.7 431.9 80.7 431.9 79.7 431.9 78.7 432.0 77.7 432.0 76.7 432.0 75.7 432.0 74.7 432.0 73.7 432.0 72.7 432.0 71.7 431.8 70.7 431.2 69.7 429.8 68.7 427.3 68.2Z"/><path fill="#0d0d0d" d="M425.9 9.7 425.8 10.7 425.6 11.7 425.6 12.7 425.4 13.7 425.3 14.7 425.2 15.7 425.1 16.7 424.9 17.7 424.9 18.7 424.7 19.7 424.7 20.7 424.6 21.7 424.5 22.7 424.4 23.7 424.4 24.7 424.3 25.7 424.3 26.7 424.3 27.7 424.3 28.7 424.3 29.7 424.3 30.7 424.4 31.7 424.3 32.7 424.3 33.7 424.3 34.7 424.2 35.7 424.2 36.7 424.1 37.7 424.0 38.7 423.9 39.7 423.8 40.7 423.7 41.7 423.6 42.7 423.5 43.7 423.3 44.7 423.3 45.7 423.2 46.7 423.1 47.7 423.1 48.7 423.2 49.7 423.3 50.7 423.5 51.7 423.6 52.7 423.7 53.7 424.1 54.7 425.0 55.7 427.3 56.1 427.3 56.1 429.6 55.7 430.5 54.7 430.9 53.7 431.0 52.7 431.1 51.7 431.3 50.7 431.4 49.7 431.5 48.7 431.5 47.7 431.4 46.7 431.3 45.7 431.3 44.7 431.1 43.7 431.0 42.7 430.9 41.7 430.8 40.7 430.7 39.7 430.6 38.7 430.5 37.7 430.4 36.7 430.4 35.7 430.3 34.7 430.3 33.7 430.3 32.7 430.2 31.7 430.3 30.7 430.3 29.7 430.3 28.7 430.3 27.7 430.3 26.7 430.3 25.7 430.2 24.7 430.2 23.7 430.1 22.7 430.0 21.7 429.9 20.7 429.9 19.7 429.7 18.7 429.7 17.7 429.5 16.7 429.4 15.7 429.3 14.7 429.2 13.7 429.0 12.7 429.0 11.7 428.8 10.7 428.7 9.7Z"/><path fill="#0d0d0d" d="M428.6 42.3 427.1 42.7 426.3 43.7 426.3 44.7 426.5 45.7 426.8 46.7 427.1 47.7 427.3 48.7 427.3 49.7 427.4 50.7 427.6 51.7 427.8 52.7 428.0 53.7 428.3 54.7 428.4 55.7 428.5 56.7 428.5 57.7 428.8 58.7 429.0 59.7 429.3 60.7 429.6 61.7 429.7 62.7 429.8 63.7 430.0 64.7 430.4 65.7 430.8 66.7 431.2 67.7 431.5 68.7 431.6 69.7 432.7 70.7 432.8 70.7 432.8 70.7 432.9 70.7 434.0 69.7 434.1 68.7 434.3 67.7 434.6 66.7 434.7 65.7 434.8 64.7 434.9 63.7 434.9 62.7 434.8 61.7 434.7 60.7 434.6 59.7 434.4 58.7 434.2 57.7 434.1 56.7 434.1 55.7 433.9 54.7 433.7 53.7 433.5 52.7 433.2 51.7 433.0 50.7 432.9 49.7 432.8 48.7 432.5 47.7 432.1 46.7 431.6 45.7 431.4 44.7 431.2 43.7 430.1 42.7 428.6 42.3Z"/><path fill="#0d0d0d" d="M426.0 42.3 424.5 42.7 423.4 43.7 423.2 44.7 423.0 45.7 422.5 46.7 422.1 47.7 421.8 48.7 421.7 49.7 421.6 50.7 421.4 51.7 421.1 52.7 420.9 53.7 420.7 54.7 420.5 55.7 420.5 56.7 420.4 57.7 420.2 58.7 420.0 59.7 419.9 60.7 419.8 61.7 419.7 62.7 419.7 63.7 419.8 64.7 419.9 65.7 420.0 66.7 420.3 67.7 420.5 68.7 420.6 69.7 421.7 70.7 421.8 70.7 421.8 70.7 421.9 70.7 423.0 69.7 423.1 68.7 423.4 67.7 423.8 66.7 424.2 65.7 424.6 64.7 424.8 63.7 424.9 62.7 425.0 61.7 425.3 60.7 425.6 59.7 425.8 58.7 426.1 57.7 426.1 56.7 426.2 55.7 426.3 54.7 426.6 53.7 426.8 52.7 427.0 51.7 427.2 50.7 427.3 49.7 427.3 48.7 427.5 47.7 427.8 46.7 428.1 45.7 428.3 44.7 428.3 43.7 427.5 42.7 426.0 42.3Z"/><path fill="#121212" d="M426.1 9.7 426.0 10.7 425.8 11.7 425.7 12.7 425.6 13.7 425.4 14.7 425.3 15.7 425.2 16.7 425.1 17.7 425.0 18.7 424.9 19.7 424.8 20.7 424.7 21.7 424.6 22.7 424.6 23.7 424.5 24.7 424.5 25.7 424.5 26.7 424.5 27.7 424.5 28.7 424.5 29.7 424.5 30.7 424.5 31.7 424.5 32.7 424.5 33.7 424.5 34.7 424.4 35.7 424.3 36.7 424.3 37.7 424.2 38.7 424.1 39.7 424.0 40.7 423.9 41.7 423.8 42.7 423.8 43.7 423.6 44.7 423.6 45.7 423.5 46.7 423.5 47.7 423.5 48.7 423.6 49.7 423.8 50.7 424.1 51.7 424.3 52.7 424.4 53.7 425.1 54.7 427.3 55.3 427.3 55.3 429.5 54.7 430.2 53.7 430.3 52.7 430.5 51.7 430.8 50.7 431.0 49.7 431.1 48.7 431.1 47.7 431.1 46.7 431.0 45.7 431.0 44.7 430.8 43.7 430.8 42.7 430.7 41.7 430.6 40.7 430.5 39.7 430.4 38.7 430.3 37.7 430.3 36.7 430.2 35.7 430.1 34.7 430.1 33.7 430.1 32.7 430.1 31.7 430.1 30.7 430.1 29.7 430.1 28.7 430.1 27.7 430.1 26.7 430.1 25.7 430.1 24.7 430.0 23.7 430.0 22.7 429.9 21.7 429.8 20.7 429.7 19.7 429.6 18.7 429.5 17.7 429.4 16.7 429.3 15.7 429.2 14.7 429.0 13.7 428.9 12.7 428.8 11.7 428.6 10.7 428.5 9.7Z"/><path fill="#121212" d="M428.6 42.6 427.8 42.7 426.7 43.7 426.7 44.7 426.9 45.7 427.2 46.7 427.5 47.7 427.7 48.7 427.7 49.7 427.8 50.7 428.0 51.7 428.2 52.7 428.5 53.7 428.7 54.7 428.9 55.7 428.9 56.7 429.0 57.7 429.2 58.7 429.6 59.7 429.9 60.7 430.2 61.7 430.4 62.7 430.5 63.7 430.8 64.7 431.2 65.7 432.1 66.7 432.8 67.0 432.8 67.0 433.3 66.7 433.9 65.7 434.1 64.7 434.2 63.7 434.2 62.7 434.2 61.7 434.2 60.7 434.0 59.7 433.9 58.7 433.7 57.7 433.7 56.7 433.6 55.7 433.5 54.7 433.3 53.7 433.1 52.7 432.8 51.7 432.6 50.7 432.5 49.7 432.5 48.7 432.2 47.7 431.7 46.7 431.3 45.7 431.0 44.7 430.8 43.7 429.4 42.7 428.6 42.6Z"/><path fill="#121212" d="M426.0 42.6 425.2 42.7 423.8 43.7 423.6 44.7 423.3 45.7 422.9 46.7 422.4 47.7 422.1 48.7 422.1 49.7 422.0 50.7 421.8 51.7 421.5 52.7 421.3 53.7 421.1 54.7 421.0 55.7 420.9 56.7 420.9 57.7 420.7 58.7 420.6 59.7 420.4 60.7 420.4 61.7 420.4 62.7 420.4 63.7 420.5 64.7 420.7 65.7 421.3 66.7 421.8 67.0 421.8 67.0 422.5 66.7 423.4 65.7 423.8 64.7 424.1 63.7 424.2 62.7 424.4 61.7 424.7 60.7 425.0 59.7 425.4 58.7 425.6 57.7 425.7 56.7 425.7 55.7 425.9 54.7 426.1 53.7 426.4 52.7 426.6 51.7 426.8 50.7 426.9 49.7 426.9 48.7 427.1 47.7 427.4 46.7 427.7 45.7 427.9 44.7 427.9 43.7 426.8 42.7 426.0 42.6Z"/><path fill="#171717" d="M426.3 9.7 426.2 10.7 426.0 11.7 425.9 12.7 425.7 13.7 425.5 14.7 425.5 15.7 425.3 16.7 425.2 17.7 425.1 18.7 425.0 19.7 424.9 20.7 424.8 21.7 424.7 22.7 424.7 23.7 424.6 24.7 424.6 25.7 424.6 26.7 424.6 27.7 424.6 28.7 424.6 29.7 424.6 30.7 424.6 31.7 424.6 32.7 424.6 33.7 424.6 34.7 424.5 35.7 424.5 36.7 424.4 37.7 424.4 38.7 424.3 39.7 424.2 40.7 424.1 41.7 424.0 42.7 424.0 43.7 423.9 44.7 423.8 45.7 423.8 46.7 423.8 47.7 423.9 48.7 424.0 49.7 424.2 50.7 424.7 51.7 425.0 52.7 425.3 53.7 427.3 54.4 427.3 54.4 429.3 53.7 429.6 52.7 429.9 51.7 430.4 50.7 430.6 49.7 430.7 48.7 430.8 47.7 430.8 46.7 430.8 45.7 430.7 44.7 430.6 43.7 430.6 42.7 430.5 41.7 430.4 40.7 430.3 39.7 430.2 38.7 430.2 37.7 430.1 36.7 430.1 35.7 430.0 34.7 430.0 33.7 430.0 32.7 430.0 31.7 430.0 30.7 430.0 29.7 430.0 28.7 430.0 27.7 430.0 26.7 430.0 25.7 430.0 24.7 429.9 23.7 429.9 22.7 429.8 21.7 429.7 20.7 429.6 19.7 429.5 18.7 429.4 17.7 429.3 16.7 429.1 15.7 429.1 14.7 428.9 13.7 428.7 12.7 428.6 11.7 428.4 10.7 428.3 9.7Z"/><path fill="#171717" d="M428.8 42.8 427.0 43.7 426.9 44.7 427.1 45.7 427.4 46.7 427.7 47.7 427.9 48.7 428.0 49.7 428.1 50.7 428.3 51.7 428.5 52.7 428.8 53.7 429.0 54.7 429.2 55.7 429.3 56.7 429.4 57.7 429.7 58.7 430.0 59.7 430.5 60.7 430.8 61.7 431.0 62.7 431.2 63.7 431.6 64.7 432.6 65.3 432.6 65.3 433.2 64.7 433.5 63.7 433.6 62.7 433.6 61.7 433.6 60.7 433.6 59.7 433.5 58.7 433.4 57.7 433.3 56.7 433.3 55.7 433.1 54.7 433.0 53.7 432.8 52.7 432.5 51.7 432.4 50.7 432.2 49.7 432.2 48.7 431.9 47.7 431.5 46.7 431.0 45.7 430.7 44.7 430.5 43.7 428.8 42.8Z"/><path fill="#171717" d="M425.8 42.8 424.1 43.7 423.9 44.7 423.6 45.7 423.1 46.7 422.7 47.7 422.4 48.7 422.4 49.7 422.2 50.7 422.1 51.7 421.8 52.7 421.6 53.7 421.5 54.7 421.3 55.7 421.3 56.7 421.2 57.7 421.1 58.7 421.0 59.7 421.0 60.7 421.0 61.7 421.0 62.7 421.1 63.7 421.4 64.7 422.1 65.3 422.1 65.3 423.0 64.7 423.4 63.7 423.6 62.7 423.8 61.7 424.1 60.7 424.6 59.7 424.9 58.7 425.2 57.7 425.3 56.7 425.4 55.7 425.6 54.7 425.8 53.7 426.1 52.7 426.3 51.7 426.5 50.7 426.6 49.7 426.7 48.7 426.9 47.7 427.2 46.7 427.5 45.7 427.7 44.7 427.6 43.7 425.8 42.8Z"/><path fill="#1d1d1d" d="M426.5 9.7 426.3 10.7 426.1 11.7 426.0 12.7 425.9 13.7 425.6 14.7 425.6 15.7 425.4 16.7 425.3 17.7 425.2 18.7 425.1 19.7 425.0 20.7 424.9 21.7 424.8 22.7 424.8 23.7 424.7 24.7 424.7 25.7 424.6 26.7 424.6 27.7 424.6 28.7 424.6 29.7 424.7 30.7 424.7 31.7 424.7 32.7 424.7 33.7 424.7 34.7 424.6 35.7 424.6 36.7 424.5 37.7 424.5 38.7 424.4 39.7 424.3 40.7 424.3 41.7 424.2 42.7 424.2 43.7 424.1 44.7 424.1 45.7 424.1 46.7 424.1 47.7 424.2 48.7 424.4 49.7 424.7 50.7 425.5 51.7 427.3 52.7 427.3 52.7 429.1 51.7 429.9 50.7 430.2 49.7 430.4 48.7 430.5 47.7 430.5 46.7 430.5 45.7 430.5 44.7 430.4 43.7 430.4 42.7 430.3 41.7 430.3 40.7 430.2 39.7 430.1 38.7 430.1 37.7 430.0 36.7 430.0 35.7 429.9 34.7 429.9 33.7 429.9 32.7 429.9 31.7 429.9 30.7 430.0 29.7 430.0 28.7 430.0 27.7 430.0 26.7 429.9 25.7 429.9 24.7 429.8 23.7 429.8 22.7 429.7 21.7 429.6 20.7 429.5 19.7 429.4 18.7 429.3 17.7 429.2 16.7 429.0 15.7 429.0 14.7 428.7 13.7 428.6 12.7 428.5 11.7 428.3 10.7 428.1 9.7Z"/><path fill="#1d1d1d" d="M428.8 43.0 427.3 43.7 427.2 44.7 427.4 45.7 427.7 46.7 428.0 47.7 428.2 48.7 428.2 49.7 428.4 50.7 428.6 51.7 428.8 52.7 429.1 53.7 429.4 54.7 429.6 55.7 429.7 56.7 429.8 57.7 430.1 58.7 430.5 59.7 431.0 60.7 431.7 61.7 432.3 62.7 432.3 62.7 432.8 61.7 433.0 60.7 433.1 59.7 433.1 58.7 433.0 57.7 432.9 56.7 432.9 55.7 432.8 54.7 432.7 53.7 432.5 52.7 432.3 51.7 432.1 50.7 432.0 49.7 431.9 48.7 431.7 47.7 431.2 46.7 430.8 45.7 430.5 44.7 430.3 43.7 428.8 43.0Z"/><path fill="#1d1d1d" d="M425.8 43.0 424.3 43.7 424.1 44.7 423.8 45.7 423.4 46.7 422.9 47.7 422.7 48.7 422.6 49.7 422.5 50.7 422.3 51.7 422.1 52.7 421.9 53.7 421.8 54.7 421.7 55.7 421.7 56.7 421.6 57.7 421.5 58.7 421.5 59.7 421.6 60.7 421.8 61.7 422.3 62.7 422.3 62.7 422.9 61.7 423.6 60.7 424.1 59.7 424.5 58.7 424.8 57.7 424.9 56.7 425.0 55.7 425.2 54.7 425.5 53.7 425.8 52.7 426.0 51.7 426.2 50.7 426.4 49.7 426.4 48.7 426.6 47.7 426.9 46.7 427.2 45.7 427.4 44.7 427.3 43.7 425.8 43.0Z"/><path fill="#252525" d="M427.3 10.3 426.8 10.7 426.4 11.7 426.3 12.7 426.0 13.7 425.8 14.7 425.7 15.7 425.6 16.7 425.4 17.7 425.3 18.7 425.2 19.7 425.1 20.7 425.0 21.7 424.9 22.7 424.9 23.7 424.8 24.7 424.8 25.7 424.8 26.7 424.8 27.7 424.8 28.7 424.8 29.7 424.8 30.7 424.8 31.7 424.8 32.7 424.8 33.7 424.8 34.7 424.8 35.7 424.7 36.7 424.7 37.7 424.7 38.7 424.6 39.7 424.5 40.7 424.5 41.7 424.5 42.7 424.4 43.7 424.4 44.7 424.4 45.7 424.4 46.7 424.6 47.7 424.8 48.7 425.0 49.7 425.7 50.7 427.3 51.1 427.3 51.1 428.9 50.7 429.6 49.7 429.8 48.7 430.0 47.7 430.2 46.7 430.2 45.7 430.2 44.7 430.2 43.7 430.1 42.7 430.1 41.7 430.1 40.7 430.0 39.7 429.9 38.7 429.9 37.7 429.9 36.7 429.8 35.7 429.8 34.7 429.8 33.7 429.8 32.7 429.8 31.7 429.8 30.7 429.8 29.7 429.8 28.7 429.8 27.7 429.8 26.7 429.8 25.7 429.8 24.7 429.7 23.7 429.7 22.7 429.6 21.7 429.5 20.7 429.4 19.7 429.3 18.7 429.2 17.7 429.0 16.7 428.9 15.7 428.8 14.7 428.6 13.7 428.3 12.7 428.2 11.7 427.8 10.7 427.3 10.3Z"/><path fill="#252525" d="M428.8 43.2 427.6 43.7 427.5 44.7 427.7 45.7 428.0 46.7 428.3 47.7 428.5 48.7 428.6 49.7 428.7 50.7 428.9 51.7 429.2 52.7 429.6 53.7 429.9 54.7 430.1 55.7 430.2 56.7 430.3 57.7 430.8 58.7 431.8 59.7 431.8 59.7 432.4 58.7 432.4 57.7 432.4 56.7 432.4 55.7 432.3 54.7 432.2 53.7 432.1 52.7 431.9 51.7 431.7 50.7 431.7 49.7 431.6 48.7 431.3 47.7 430.9 46.7 430.4 45.7 430.1 44.7 429.9 43.7 428.8 43.2Z"/><path fill="#252525" d="M425.8 43.2 424.7 43.7 424.5 44.7 424.2 45.7 423.7 46.7 423.3 47.7 423.0 48.7 422.9 49.7 422.9 50.7 422.7 51.7 422.5 52.7 422.4 53.7 422.3 54.7 422.2 55.7 422.2 56.7 422.2 57.7 422.2 58.7 422.8 59.7 422.8 59.7 423.8 58.7 424.3 57.7 424.4 56.7 424.5 55.7 424.7 54.7 425.0 53.7 425.4 52.7 425.7 51.7 425.9 50.7 426.0 49.7 426.1 48.7 426.3 47.7 426.6 46.7 426.9 45.7 427.1 44.7 427.0 43.7 425.8 43.2Z"/><path fill="#2e2e2e" d="M427.3 11.5 426.9 11.7 426.6 12.7 426.2 13.7 425.9 14.7 425.8 15.7 425.7 16.7 425.5 17.7 425.4 18.7 425.3 19.7 425.2 20.7 425.1 21.7 425.0 22.7 425.0 23.7 424.9 24.7 424.9 25.7 424.8 26.7 424.8 27.7 424.8 28.7 424.8 29.7 424.9 30.7 424.9 31.7 424.9 32.7 424.9 33.7 424.9 34.7 424.9 35.7 424.9 36.7 424.8 37.7 424.8 38.7 424.7 39.7 424.7 40.7 424.7 41.7 424.7 42.7 424.7 43.7 424.7 44.7 424.7 45.7 424.8 46.7 425.1 47.7 425.5 48.7 426.0 49.7 427.3 50.0 427.3 50.0 428.6 49.7 429.1 48.7 429.5 47.7 429.8 46.7 429.9 45.7 429.9 44.7 429.9 43.7 429.9 42.7 429.9 41.7 429.9 40.7 429.9 39.7 429.8 38.7 429.8 37.7 429.7 36.7 429.7 35.7 429.7 34.7 429.7 33.7 429.7 32.7 429.7 31.7 429.7 30.7 429.8 29.7 429.8 28.7 429.8 27.7 429.8 26.7 429.7 25.7 429.7 24.7 429.6 23.7 429.6 22.7 429.5 21.7 429.4 20.7 429.3 19.7 429.2 18.7 429.1 17.7 428.9 16.7 428.8 15.7 428.7 14.7 428.4 13.7 428.0 12.7 427.7 11.7 427.3 11.5Z"/><path fill="#2e2e2e" d="M428.8 43.5 428.1 43.7 427.9 44.7 428.1 45.7 428.4 46.7 428.7 47.7 428.9 48.7 428.9 49.7 429.1 50.7 429.3 51.7 429.7 52.7 430.1 53.7 430.5 54.7 430.9 55.7 431.3 56.7 431.3 56.7 431.6 55.7 431.7 54.7 431.7 53.7 431.6 52.7 431.5 51.7 431.4 50.7 431.3 49.7 431.3 48.7 431.0 47.7 430.5 46.7 430.1 45.7 429.8 44.7 429.4 43.7 428.8 43.5Z"/><path fill="#2e2e2e" d="M425.8 43.5 425.2 43.7 424.8 44.7 424.5 45.7 424.1 46.7 423.6 47.7 423.3 48.7 423.3 49.7 423.2 50.7 423.1 51.7 423.0 52.7 422.9 53.7 422.9 54.7 423.0 55.7 423.3 56.7 423.3 56.7 423.7 55.7 424.1 54.7 424.5 53.7 424.9 52.7 425.3 51.7 425.5 50.7 425.7 49.7 425.7 48.7 425.9 47.7 426.2 46.7 426.5 45.7 426.7 44.7 426.5 43.7 425.8 43.5Z"/><path fill="#383838" d="M427.3 13.2 426.6 13.7 426.1 14.7 426.0 15.7 425.8 16.7 425.6 17.7 425.5 18.7 425.4 19.7 425.3 20.7 425.2 21.7 425.1 22.7 425.1 23.7 425.0 24.7 425.0 25.7 424.9 26.7 424.9 27.7 424.9 28.7 424.9 29.7 425.0 30.7 425.0 31.7 425.0 32.7 425.0 33.7 425.1 34.7 425.0 35.7 425.0 36.7 425.0 37.7 425.0 38.7 424.9 39.7 425.0 40.7 425.0 41.7 425.0 42.7 425.0 43.7 425.1 44.7 425.2 45.7 425.4 46.7 426.8 47.7 427.3 47.7 427.3 47.7 427.8 47.7 429.2 46.7 429.4 45.7 429.5 44.7 429.6 43.7 429.6 42.7 429.6 41.7 429.6 40.7 429.7 39.7 429.6 38.7 429.6 37.7 429.6 36.7 429.6 35.7 429.5 34.7 429.6 33.7 429.6 32.7 429.6 31.7 429.6 30.7 429.7 29.7 429.7 28.7 429.7 27.7 429.7 26.7 429.6 25.7 429.6 24.7 429.5 23.7 429.5 22.7 429.4 21.7 429.3 20.7 429.2 19.7 429.1 18.7 429.0 17.7 428.8 16.7 428.6 15.7 428.5 14.7 428.0 13.7 427.3 13.2Z"/><path fill="#383838" d="M428.8 44.7 428.7 44.7 428.8 45.7 429.0 46.7 429.2 47.7 429.4 48.7 429.5 49.7 429.7 50.7 430.1 51.7 430.6 52.1 430.6 52.1 430.7 51.7 430.8 50.7 430.8 49.7 430.7 48.7 430.4 47.7 429.9 46.7 429.4 45.7 428.9 44.7 428.8 44.7Z"/><path fill="#383838" d="M425.8 44.7 425.7 44.7 425.2 45.7 424.7 46.7 424.2 47.7 423.9 48.7 423.8 49.7 423.8 50.7 423.9 51.7 424.0 52.1 424.0 52.1 424.5 51.7 424.9 50.7 425.1 49.7 425.2 48.7 425.4 47.7 425.6 46.7 425.8 45.7 425.9 44.7 425.8 44.7Z"/><path fill="#424242" d="M427.3 14.0 426.4 14.7 426.2 15.7 426.0 16.7 425.8 17.7 425.7 18.7 425.5 19.7 425.4 20.7 425.3 21.7 425.2 22.7 425.2 23.7 425.1 24.7 425.1 25.7 425.0 26.7 425.0 27.7 425.0 28.7 425.0 29.7 425.1 30.7 425.1 31.7 425.1 32.7 425.1 33.7 425.2 34.7 425.2 35.7 425.2 36.7 425.1 37.7 425.1 38.7 425.1 39.7 425.2 40.7 425.2 41.7 425.3 42.7 425.4 43.7 425.6 44.7 425.9 45.7 427.3 46.7 427.3 46.7 428.7 45.7 429.0 44.7 429.2 43.7 429.3 42.7 429.4 41.7 429.4 40.7 429.5 39.7 429.5 38.7 429.5 37.7 429.4 36.7 429.4 35.7 429.4 34.7 429.5 33.7 429.5 32.7 429.5 31.7 429.5 30.7 429.6 29.7 429.6 28.7 429.6 27.7 429.6 26.7 429.5 25.7 429.5 24.7 429.4 23.7 429.4 22.7 429.3 21.7 429.2 20.7 429.1 19.7 428.9 18.7 428.8 17.7 428.6 16.7 428.4 15.7 428.2 14.7 427.3 14.0Z"/><path fill="#4c4c4c" d="M427.3 14.6 426.8 14.7 426.5 15.7 426.2 16.7 425.9 17.7 425.8 18.7 425.6 19.7 425.5 20.7 425.4 21.7 425.3 22.7 425.2 23.7 425.2 24.7 425.1 25.7 425.1 26.7 425.1 27.7 425.1 28.7 425.1 29.7 425.1 30.7 425.2 31.7 425.2 32.7 425.2 33.7 425.3 34.7 425.3 35.7 425.3 36.7 425.3 37.7 425.3 38.7 425.3 39.7 425.4 40.7 425.5 41.7 425.7 42.7 425.9 43.7 427.3 44.6 427.3 44.6 428.7 43.7 428.9 42.7 429.1 41.7 429.2 40.7 429.3 39.7 429.3 38.7 429.3 37.7 429.3 36.7 429.3 35.7 429.3 34.7 429.4 33.7 429.4 32.7 429.4 31.7 429.5 30.7 429.5 29.7 429.5 28.7 429.5 27.7 429.5 26.7 429.5 25.7 429.4 24.7 429.4 23.7 429.3 22.7 429.2 21.7 429.1 20.7 429.0 19.7 428.8 18.7 428.7 17.7 428.4 16.7 428.1 15.7 427.8 14.7 427.3 14.6Z"/><path fill="#575757" d="M427.3 15.7 426.4 16.7 426.0 17.7 425.9 18.7 425.7 19.7 425.6 20.7 425.5 21.7 425.4 22.7 425.3 23.7 425.3 24.7 425.2 25.7 425.2 26.7 425.2 27.7 425.2 28.7 425.2 29.7 425.2 30.7 425.3 31.7 425.3 32.7 425.3 33.7 425.4 34.7 425.4 35.7 425.5 36.7 425.5 37.7 425.5 38.7 425.6 39.7 425.7 40.7 425.9 41.7 426.4 42.7 427.3 43.3 427.3 43.3 428.2 42.7 428.7 41.7 428.9 40.7 429.0 39.7 429.1 38.7 429.1 37.7 429.1 36.7 429.2 35.7 429.2 34.7 429.3 33.7 429.3 32.7 429.3 31.7 429.4 30.7 429.4 29.7 429.4 28.7 429.4 27.7 429.4 26.7 429.4 25.7 429.3 24.7 429.3 23.7 429.2 22.7 429.1 21.7 429.0 20.7 428.9 19.7 428.7 18.7 428.6 17.7 428.2 16.7 427.3 15.7Z"/><path fill="#616161" d="M427.3 16.4 426.7 16.7 426.2 17.7 426.0 18.7 425.8 19.7 425.7 20.7 425.6 21.7 425.5 22.7 425.4 23.7 425.3 24.7 425.3 25.7 425.3 26.7 425.3 27.7 425.3 28.7 425.3 29.7 425.3 30.7 425.4 31.7 425.4 32.7 425.4 33.7 425.5 34.7 425.6 35.7 425.6 36.7 425.6 37.7 425.7 38.7 425.8 39.7 426.1 40.7 426.6 41.7 427.3 41.8 427.3 41.8 428.0 41.7 428.5 40.7 428.8 39.7 428.9 38.7 429.0 37.7 429.0 36.7 429.0 35.7 429.1 34.7 429.2 33.7 429.2 32.7 429.2 31.7 429.3 30.7 429.3 29.7 429.3 28.7 429.3 27.7 429.3 26.7 429.3 25.7 429.3 24.7 429.2 23.7 429.1 22.7 429.0 21.7 428.9 20.7 428.8 19.7 428.6 18.7 428.4 17.7 427.9 16.7 427.3 16.4Z"/><path fill="#6b6b6b" d="M427.3 17.0 426.4 17.7 426.1 18.7 425.9 19.7 425.8 20.7 425.7 21.7 425.5 22.7 425.5 23.7 425.4 24.7 425.4 25.7 425.4 26.7 425.4 27.7 425.4 28.7 425.4 29.7 425.4 30.7 425.4 31.7 425.5 32.7 425.5 33.7 425.7 34.7 425.7 35.7 425.8 36.7 425.8 37.7 425.9 38.7 426.1 39.7 427.3 40.7 427.3 40.7 428.5 39.7 428.7 38.7 428.8 37.7 428.8 36.7 428.9 35.7 428.9 34.7 429.1 33.7 429.1 32.7 429.2 31.7 429.2 30.7 429.2 29.7 429.2 28.7 429.2 27.7 429.2 26.7 429.2 25.7 429.2 24.7 429.1 23.7 429.1 22.7 428.9 21.7 428.8 20.7 428.7 19.7 428.5 18.7 428.2 17.7 427.3 17.0Z"/><path fill="#757575" d="M427.3 17.4 426.6 17.7 426.3 18.7 426.0 19.7 425.9 20.7 425.8 21.7 425.6 22.7 425.6 23.7 425.5 24.7 425.4 25.7 425.4 26.7 425.4 27.7 425.4 28.7 425.4 29.7 425.5 30.7 425.5 31.7 425.6 32.7 425.6 33.7 425.8 34.7 425.8 35.7 425.9 36.7 426.0 37.7 426.1 38.7 426.8 39.7 427.3 39.8 427.3 39.8 427.8 39.7 428.5 38.7 428.6 37.7 428.7 36.7 428.8 35.7 428.8 34.7 429.0 33.7 429.0 32.7 429.1 31.7 429.1 30.7 429.2 29.7 429.2 28.7 429.2 27.7 429.2 26.7 429.2 25.7 429.1 24.7 429.0 23.7 429.0 22.7 428.8 21.7 428.7 20.7 428.6 19.7 428.3 18.7 428.0 17.7 427.3 17.4Z"/><path fill="#808080" d="M427.3 17.9 426.5 18.7 426.2 19.7 426.0 20.7 425.8 21.7 425.7 22.7 425.6 23.7 425.6 24.7 425.5 25.7 425.5 26.7 425.5 27.7 425.5 28.7 425.5 29.7 425.5 30.7 425.6 31.7 425.7 32.7 425.7 33.7 425.9 34.7 426.0 35.7 426.1 36.7 426.3 37.7 426.5 38.7 427.3 39.0 427.3 39.0 428.1 38.7 428.3 37.7 428.5 36.7 428.6 35.7 428.7 34.7 428.9 33.7 428.9 32.7 429.0 31.7 429.1 30.7 429.1 29.7 429.1 28.7 429.1 27.7 429.1 26.7 429.1 25.7 429.0 24.7 429.0 23.7 428.9 22.7 428.8 21.7 428.6 20.7 428.4 19.7 428.1 18.7 427.3 17.9Z"/><path fill="#8a8a8a" d="M427.3 18.6 426.9 18.7 426.3 19.7 426.1 20.7 425.9 21.7 425.8 22.7 425.7 23.7 425.6 24.7 425.6 25.7 425.6 26.7 425.6 27.7 425.6 28.7 425.6 29.7 425.6 30.7 425.7 31.7 425.7 32.7 425.8 33.7 426.1 34.7 426.2 35.7 426.4 36.7 427.0 37.7 427.3 37.7 427.3 37.7 427.6 37.7 428.2 36.7 428.4 35.7 428.5 34.7 428.8 33.7 428.9 32.7 428.9 31.7 429.0 30.7 429.0 29.7 429.0 28.7 429.0 27.7 429.0 26.7 429.0 25.7 429.0 24.7 428.9 23.7 428.8 22.7 428.7 21.7 428.5 20.7 428.3 19.7 427.7 18.7 427.3 18.6Z"/><path fill="#949494" d="M427.3 19.1 426.5 19.7 426.2 20.7 426.0 21.7 425.8 22.7 425.8 23.7 425.7 24.7 425.7 25.7 425.6 26.7 425.6 27.7 425.6 28.7 425.6 29.7 425.7 30.7 425.7 31.7 425.8 32.7 426.0 33.7 426.3 34.7 426.5 35.7 427.3 36.5 427.3 36.5 428.1 35.7 428.3 34.7 428.6 33.7 428.8 32.7 428.9 31.7 428.9 30.7 429.0 29.7 429.0 28.7 429.0 27.7 429.0 26.7 428.9 25.7 428.9 24.7 428.8 23.7 428.8 22.7 428.6 21.7 428.4 20.7 428.1 19.7 427.3 19.1Z"/><path fill="#9e9e9e" d="M427.3 19.5 426.8 19.7 426.4 20.7 426.1 21.7 425.9 22.7 425.9 23.7 425.8 24.7 425.7 25.7 425.7 26.7 425.7 27.7 425.7 28.7 425.7 29.7 425.7 30.7 425.8 31.7 425.9 32.7 426.1 33.7 426.5 34.7 427.3 35.5 427.3 35.5 428.1 34.7 428.5 33.7 428.7 32.7 428.8 31.7 428.9 30.7 428.9 29.7 428.9 28.7 428.9 27.7 428.9 26.7 428.9 25.7 428.8 24.7 428.7 23.7 428.7 22.7 428.5 21.7 428.2 20.7 427.8 19.7 427.3 19.5Z"/><path fill="#a8a8a8" d="M427.3 20.1 426.5 20.7 426.3 21.7 426.0 22.7 426.0 23.7 425.9 24.7 425.8 25.7 425.8 26.7 425.8 27.7 425.8 28.7 425.8 29.7 425.8 30.7 425.9 31.7 426.0 32.7 426.3 33.7 427.3 34.6 427.3 34.6 428.3 33.7 428.6 32.7 428.7 31.7 428.8 30.7 428.8 29.7 428.8 28.7 428.8 27.7 428.8 26.7 428.8 25.7 428.7 24.7 428.6 23.7 428.6 22.7 428.3 21.7 428.1 20.7 427.3 20.1Z"/><path fill="#b2b2b2" d="M427.3 20.6 426.9 20.7 426.4 21.7 426.1 22.7 426.0 23.7 426.0 24.7 425.9 25.7 425.9 26.7 425.9 27.7 425.9 28.7 425.9 29.7 425.9 30.7 426.0 31.7 426.2 32.7 426.5 33.7 427.3 34.2 427.3 34.2 428.1 33.7 428.4 32.7 428.6 31.7 428.7 30.7 428.7 29.7 428.7 28.7 428.7 27.7 428.7 26.7 428.7 25.7 428.6 24.7 428.6 23.7 428.5 22.7 428.2 21.7 427.7 20.7 427.3 20.6Z"/><path fill="#bdbdbd" d="M427.3 21.2 426.6 21.7 426.2 22.7 426.1 23.7 426.0 24.7 426.0 25.7 425.9 26.7 425.9 27.7 425.9 28.7 425.9 29.7 426.0 30.7 426.1 31.7 426.3 32.7 426.9 33.7 427.3 33.8 427.3 33.8 427.7 33.7 428.3 32.7 428.5 31.7 428.6 30.7 428.7 29.7 428.7 28.7 428.7 27.7 428.7 26.7 428.6 25.7 428.6 24.7 428.5 23.7 428.4 22.7 428.0 21.7 427.3 21.2Z"/><path fill="#c7c7c7" d="M427.3 21.8 426.4 22.7 426.2 23.7 426.1 24.7 426.0 25.7 426.0 26.7 426.0 27.7 426.0 28.7 426.0 29.7 426.1 30.7 426.2 31.7 426.5 32.7 427.3 33.3 427.3 33.3 428.1 32.7 428.4 31.7 428.5 30.7 428.6 29.7 428.6 28.7 428.6 27.7 428.6 26.7 428.6 25.7 428.5 24.7 428.4 23.7 428.2 22.7 427.3 21.8Z"/><path fill="#d1d1d1" d="M427.3 22.2 426.5 22.7 426.4 23.7 426.2 24.7 426.1 25.7 426.1 26.7 426.1 27.7 426.1 28.7 426.1 29.7 426.2 30.7 426.4 31.7 426.9 32.7 427.3 32.8 427.3 32.8 427.7 32.7 428.2 31.7 428.4 30.7 428.5 29.7 428.5 28.7 428.5 27.7 428.5 26.7 428.5 25.7 428.4 24.7 428.2 23.7 428.1 22.7 427.3 22.2Z"/><path fill="#dbdbdb" d="M427.3 22.6 426.8 22.7 426.6 23.7 426.4 24.7 426.2 25.7 426.2 26.7 426.2 27.7 426.2 28.7 426.2 29.7 426.3 30.7 426.5 31.7 427.3 32.3 427.3 32.3 428.1 31.7 428.3 30.7 428.4 29.7 428.4 28.7 428.4 27.7 428.4 26.7 428.4 25.7 428.2 24.7 428.0 23.7 427.8 22.7 427.3 22.6Z"/><path fill="#e6e6e6" d="M427.3 23.5 426.9 23.7 426.5 24.7 426.4 25.7 426.3 26.7 426.3 27.7 426.3 28.7 426.3 29.7 426.4 30.7 426.9 31.7 427.3 31.8 427.3 31.8 427.7 31.7 428.2 30.7 428.3 29.7 428.3 28.7 428.3 27.7 428.3 26.7 428.2 25.7 428.1 24.7 427.7 23.7 427.3 23.5Z"/><path fill="#f0f0f0" d="M427.3 24.5 426.9 24.7 426.5 25.7 426.5 26.7 426.5 27.7 426.5 28.7 426.5 29.7 426.6 30.7 427.3 31.2 427.3 31.2 428.0 30.7 428.1 29.7 428.1 28.7 428.1 27.7 428.1 26.7 428.1 25.7 427.7 24.7 427.3 24.5Z"/><path fill="#fafafa" d="M427.3 25.4 426.8 25.7 426.7 26.7 426.7 27.7 426.7 28.7 426.7 29.7 427.3 30.4 427.3 30.4 427.9 29.7 427.9 28.7 427.9 27.7 427.9 26.7 427.8 25.7 427.3 25.4Z"/></g></g>
<rect x="406.60" y="110.20" width="2.50" height="17.90" fill="#e6e6e6" stroke="#b0b0b0" stroke-width="0.8"/>
<rect x="406.20" y="109.80" width="3.30" height="2.00" rx="0.9" fill="#adadad"/>
<rect x="446.40" y="110.20" width="2.50" height="17.90" fill="#e6e6e6" stroke="#b0b0b0" stroke-width="0.8"/>
<rect x="446.00" y="109.80" width="3.30" height="2.00" rx="0.9" fill="#adadad"/>
<text class="d" x="374.00" y="130.15" font-size="5.60" text-anchor="end">0</text>
<line x1="376.00" y1="128.10" x2="377.50" y2="128.10" stroke="#999" stroke-width="0.6"/>
<text class="d" x="374.00" y="118.31" font-size="5.60" text-anchor="end">1</text>
<line x1="376.00" y1="116.26" x2="377.50" y2="116.26" stroke="#999" stroke-width="0.6"/>
<text class="d" x="374.00" y="106.47" font-size="5.60" text-anchor="end">2</text>
<line x1="376.00" y1="104.42" x2="377.50" y2="104.42" stroke="#999" stroke-width="0.6"/>
<text class="d" x="374.00" y="94.63" font-size="5.60" text-anchor="end">3</text>
<line x1="376.00" y1="92.58" x2="377.50" y2="92.58" stroke="#999" stroke-width="0.6"/>
<text class="d" x="374.00" y="82.79" font-size="5.60" text-anchor="end">4</text>
<line x1="376.00" y1="80.74" x2="377.50" y2="80.74" stroke="#999" stroke-width="0.6"/>
<text class="d" x="374.00" y="70.95" font-size="5.60" text-anchor="end">5</text>
<line x1="376.00" y1="68.90" x2="377.50" y2="68.90" stroke="#999" stroke-width="0.6"/>
<text class="d" x="374.00" y="59.11" font-size="5.60" text-anchor="end">6</text>
<line x1="376.00" y1="57.06" x2="377.50" y2="57.06" stroke="#999" stroke-width="0.6"/>
<text class="d" x="374.00" y="47.27" font-size="5.60" text-anchor="end">7</text>
<line x1="376.00" y1="45.22" x2="377.50" y2="45.22" stroke="#999" stroke-width="0.6"/>
<text class="d" x="374.00" y="35.43" font-size="5.60" text-anchor="end">8</text>
<line x1="376.00" y1="33.38" x2="377.50" y2="33.38" stroke="#999" stroke-width="0.6"/>
<text class="d" x="374.00" y="23.59" font-size="5.60" text-anchor="end">9</text>
<line x1="376.00" y1="21.54" x2="377.50" y2="21.54" stroke="#999" stroke-width="0.6"/>
<text class="d" x="374.00" y="11.75" font-size="5.60" text-anchor="end">10</text>
<line x1="376.00" y1="9.70" x2="377.50" y2="9.70" stroke="#999" stroke-width="0.6"/>
<text class="d" x="390.20" y="143.55" font-size="5.60" text-anchor="middle">-4</text>
<line x1="390.20" y1="137.20" x2="390.20" y2="135.70" stroke="#999" stroke-width="0.6"/>
<line x1="390.20" y1="0.50" x2="390.20" y2="2.00" stroke="#999" stroke-width="0.6"/>
<text class="d" x="408.90" y="143.55" font-size="5.60" text-anchor="middle">-2</text>
<line x1="408.90" y1="137.20" x2="408.90" y2="135.70" stroke="#999" stroke-width="0.6"/>
<line x1="408.90" y1="0.50" x2="408.90" y2="2.00" stroke="#999" stroke-width="0.6"/>
<text class="d" x="427.60" y="143.55" font-size="5.60" text-anchor="middle">0</text>
<line x1="427.60" y1="137.20" x2="427.60" y2="135.70" stroke="#999" stroke-width="0.6"/>
<line x1="427.60" y1="0.50" x2="427.60" y2="2.00" stroke="#999" stroke-width="0.6"/>
<text class="d" x="446.30" y="143.55" font-size="5.60" text-anchor="middle">2</text>
<line x1="446.30" y1="137.20" x2="446.30" y2="135.70" stroke="#999" stroke-width="0.6"/>
<line x1="446.30" y1="0.50" x2="446.30" y2="2.00" stroke="#999" stroke-width="0.6"/>
<text class="d" x="465.00" y="143.55" font-size="5.60" text-anchor="middle">4</text>
<line x1="465.00" y1="137.20" x2="465.00" y2="135.70" stroke="#999" stroke-width="0.6"/>
<line x1="465.00" y1="0.50" x2="465.00" y2="2.00" stroke="#999" stroke-width="0.6"/>
<text x="428.20" y="153.00" font-size="8" font-weight="bold" fill="#1a1a1a" stroke="#1a1a1a" stroke-width="0.2" text-anchor="middle"><tspan font-style="italic">r</tspan> (mm)</text>
<text transform="translate(356.30 73.40) rotate(-90)" font-size="8" font-weight="bold" fill="#1a1a1a" stroke="#1a1a1a" stroke-width="0.2" text-anchor="middle"><tspan font-style="italic">z</tspan> (mm)</text>
<rect x="486.90" y="16.10" width="4.20" height="125.10" fill="url(#cb)"/>
<text class="d" x="492.80" y="125.73" font-size="5.80">0.5</text>
<text class="d" x="492.80" y="108.16" font-size="5.80">1</text>
<text class="d" x="492.80" y="90.59" font-size="5.80">1.5</text>
<text class="d" x="492.80" y="73.02" font-size="5.80">2</text>
<text class="d" x="492.80" y="55.45" font-size="5.80">2.5</text>
<text class="d" x="492.80" y="37.88" font-size="5.80">3</text>
<text class="d" x="492.80" y="20.31" font-size="5.80">3.5</text>
<path d="M483.40 5.60 L488.60 5.60 L486.00 1.50 Z" fill="#111"/>
<text class="d" x="491.20" y="6.10" font-size="5.55">3.56×10<tspan font-size="3.4" dy="-3.0">19</tspan></text>
<text class="d" x="491.20" y="12.60" font-size="5.4">×10<tspan font-size="3.4" dy="-3.0">19</tspan></text>
<path d="M483.80 146.40 L489.00 146.40 L486.40 150.40 Z" fill="#111"/>
<text class="d" x="491.70" y="150.30" font-size="5.4">7.28×10<tspan font-size="3.4" dy="-3.0">5</tspan></text>
<text x="397.40" y="26.50" font-size="8.3" font-weight="bold" fill="#f0f0ff">O<tspan font-size="5" dy="1.6">2</tspan><tspan dy="-1.6"></tspan><tspan font-size="4.6" dy="-2.9">+</tspan></text>
<rect x="27.00" y="167.40" width="103.70" height="136.80" fill="#fff" stroke="#c4c4c4" stroke-width="1"/>
<path d="M31.20 235.95 V295.40 H126.10 V235.95" fill="none" stroke="#a8a8a8" stroke-width="0.9"/>
<path d="M31.20 176.50H126.10V235.95H88.10V295.40H69.00V235.95H31.20Z" fill="#000087"/>
<g clip-path="url(#cp3)"><g filter="url(#jf)"><rect x="26.2" y="171.5" width="104.9" height="128.9" fill="#000"/><path fill="#080808" d="M71.2 175.5 71.2 176.4 71.2 177.4 71.3 178.3 71.5 179.3 72.1 180.2 72.6 181.1 73.1 182.1 73.5 183.0 74.2 184.0 78.8 184.8 78.8 184.8 83.4 184.0 84.1 183.0 84.5 182.1 85.0 181.1 85.5 180.2 86.1 179.3 86.3 178.3 86.4 177.4 86.4 176.4 86.4 175.5Z"/><path fill="#080808" d="M82.5 183.1 80.4 183.8 80.3 184.6 80.3 185.3 82.2 186.0 82.2 186.0 84.4 185.3 84.6 184.6 84.6 183.8 82.5 183.1Z"/><path fill="#080808" d="M75.1 183.1 73.0 183.8 73.0 184.6 73.2 185.3 75.4 186.0 75.4 186.0 77.3 185.3 77.3 184.6 77.2 183.8 75.1 183.1Z"/><path fill="#080808" d="M74.6 179.5 74.6 180.5 74.6 181.5 74.6 182.5 74.6 183.5 74.6 184.5 74.6 185.5 74.6 186.5 74.6 187.5 74.7 188.5 74.8 189.5 74.8 190.5 74.8 191.5 74.7 192.5 74.7 193.5 74.6 194.5 74.5 195.5 74.5 196.5 74.4 197.5 74.4 198.5 74.3 199.5 74.3 200.5 74.2 201.5 74.2 202.5 83.4 202.5 83.4 201.5 83.3 200.5 83.3 199.5 83.2 198.5 83.2 197.5 83.1 196.5 83.1 195.5 83.0 194.5 82.9 193.5 82.9 192.5 82.8 191.5 82.8 190.5 82.8 189.5 82.9 188.5 83.0 187.5 83.0 186.5 83.0 185.5 83.0 184.5 83.0 183.5 83.0 182.5 83.0 181.5 83.0 180.5 83.0 179.5Z"/><path fill="#080808" d="M78.8 196.2 75.6 197.0 75.0 198.0 74.8 199.0 74.7 200.0 74.7 200.9 74.6 201.9 74.5 202.9 74.5 203.9 74.4 204.9 74.4 205.9 74.3 206.9 74.3 207.9 74.2 208.9 74.1 209.9 74.0 210.8 73.9 211.8 73.8 212.8 73.7 213.8 73.5 214.8 73.4 215.8 73.3 216.8 73.1 217.8 73.0 218.8 72.8 219.8 72.6 220.7 72.5 221.7 72.2 222.7 72.1 223.7 71.9 224.7 71.7 225.7 71.4 226.7 70.9 227.7 70.7 228.7 70.5 229.7 70.0 230.6 69.7 231.6 69.7 232.6 69.6 233.6 69.6 234.6 69.9 235.6 70.6 236.6 70.9 237.6 71.4 238.6 72.2 239.6 72.6 240.5 72.9 241.5 73.8 242.5 76.7 243.5 78.8 243.6 78.8 243.6 80.9 243.5 83.8 242.5 84.7 241.5 85.0 240.5 85.4 239.6 86.2 238.6 86.7 237.6 87.0 236.6 87.7 235.6 88.0 234.6 88.0 233.6 87.9 232.6 87.9 231.6 87.6 230.6 87.1 229.7 86.9 228.7 86.7 227.7 86.2 226.7 85.9 225.7 85.7 224.7 85.5 223.7 85.4 222.7 85.1 221.7 85.0 220.7 84.8 219.8 84.6 218.8 84.5 217.8 84.3 216.8 84.2 215.8 84.1 214.8 83.9 213.8 83.8 212.8 83.7 211.8 83.6 210.8 83.5 209.9 83.4 208.9 83.3 207.9 83.3 206.9 83.2 205.9 83.2 204.9 83.1 203.9 83.1 202.9 83.0 201.9 82.9 200.9 82.9 200.0 82.8 199.0 82.6 198.0 82.0 197.0 78.8 196.2Z"/><path fill="#080808" d="M78.8 234.2 75.7 234.5 74.6 235.5 74.2 236.5 74.0 237.5 74.0 238.5 74.0 239.5 74.0 240.5 74.0 241.5 74.0 242.5 74.0 243.5 74.0 244.5 74.0 245.5 74.0 246.5 74.0 247.5 74.0 248.5 74.0 249.5 74.0 250.5 74.0 251.5 74.0 252.5 74.0 253.5 74.0 254.5 74.0 255.5 74.0 256.5 74.0 257.5 74.0 258.5 74.1 259.5 74.1 260.5 74.1 261.5 74.1 262.5 74.1 263.5 74.1 264.5 74.1 265.5 74.1 266.5 74.2 267.5 74.2 268.5 74.2 269.5 74.3 270.5 74.4 271.5 74.4 272.5 74.5 273.5 74.6 274.5 74.6 275.5 74.6 276.5 74.6 277.5 74.7 278.5 74.7 279.5 74.9 280.5 75.0 281.5 75.2 282.5 75.4 283.5 75.6 284.5 75.8 285.5 75.9 286.5 76.0 287.5 76.3 288.5 78.8 289.4 78.8 289.4 81.3 288.5 81.6 287.5 81.7 286.5 81.8 285.5 82.0 284.5 82.2 283.5 82.4 282.5 82.6 281.5 82.7 280.5 82.9 279.5 82.9 278.5 83.0 277.5 83.0 276.5 83.0 275.5 83.0 274.5 83.1 273.5 83.2 272.5 83.2 271.5 83.3 270.5 83.4 269.5 83.4 268.5 83.4 267.5 83.5 266.5 83.5 265.5 83.5 264.5 83.5 263.5 83.5 262.5 83.5 261.5 83.5 260.5 83.5 259.5 83.6 258.5 83.6 257.5 83.6 256.5 83.6 255.5 83.6 254.5 83.6 253.5 83.6 252.5 83.6 251.5 83.6 250.5 83.6 249.5 83.6 248.5 83.6 247.5 83.6 246.5 83.6 245.5 83.6 244.5 83.6 243.5 83.6 242.5 83.6 241.5 83.6 240.5 83.6 239.5 83.6 238.5 83.6 237.5 83.4 236.5 83.0 235.5 81.9 234.5 78.8 234.2Z"/><path fill="#080808" d="M83.4 227.2 82.4 227.5 81.5 228.5 81.4 229.5 81.5 230.5 81.6 231.5 81.7 232.5 81.8 233.5 82.0 234.5 82.1 235.5 82.1 236.5 82.2 237.5 82.3 238.5 82.4 239.5 82.4 240.5 82.4 241.5 82.4 242.5 82.4 243.5 82.4 244.5 82.4 245.5 82.4 246.5 82.4 247.5 82.4 248.5 82.4 249.5 82.4 250.5 82.3 251.5 82.3 252.5 82.3 253.5 82.3 254.5 82.3 255.5 82.3 256.5 82.2 257.5 82.2 258.5 82.2 259.5 82.1 260.5 82.1 261.5 82.1 262.5 82.1 263.5 82.1 264.5 82.0 265.5 82.0 266.5 82.0 267.5 81.9 268.5 81.9 269.5 81.9 270.5 81.9 271.5 81.9 272.5 81.8 273.5 81.8 274.5 81.8 275.5 81.8 276.5 81.7 277.5 81.8 278.5 81.8 279.5 81.8 280.5 81.8 281.5 81.8 282.5 81.9 283.5 82.0 284.5 82.2 285.5 82.5 286.5 83.4 287.5 83.8 287.6 83.8 287.6 84.3 287.5 85.2 286.5 85.5 285.5 85.7 284.5 85.9 283.5 85.9 282.5 86.0 281.5 86.0 280.5 86.1 279.5 86.2 278.5 86.3 277.5 86.3 276.5 86.4 275.5 86.5 274.5 86.5 273.5 86.5 272.5 86.5 271.5 86.5 270.5 86.6 269.5 86.6 268.5 86.7 267.5 86.8 266.5 86.8 265.5 86.8 264.5 86.9 263.5 86.9 262.5 86.9 261.5 86.9 260.5 87.0 259.5 87.0 258.5 87.0 257.5 87.1 256.5 87.1 255.5 87.1 254.5 87.1 253.5 87.1 252.5 87.1 251.5 87.1 250.5 87.1 249.5 87.1 248.5 87.2 247.5 87.2 246.5 87.2 245.5 87.2 244.5 87.2 243.5 87.2 242.5 87.2 241.5 87.2 240.5 87.2 239.5 87.2 238.5 87.1 237.5 87.1 236.5 87.1 235.5 87.0 234.5 86.9 233.5 86.7 232.5 86.6 231.5 86.5 230.5 86.2 229.5 85.7 228.5 84.4 227.5 83.4 227.2Z"/><path fill="#080808" d="M74.2 227.2 73.2 227.5 71.9 228.5 71.4 229.5 71.1 230.5 71.0 231.5 70.9 232.5 70.7 233.5 70.6 234.5 70.5 235.5 70.5 236.5 70.5 237.5 70.4 238.5 70.4 239.5 70.4 240.5 70.4 241.5 70.4 242.5 70.4 243.5 70.4 244.5 70.4 245.5 70.4 246.5 70.4 247.5 70.5 248.5 70.5 249.5 70.5 250.5 70.5 251.5 70.5 252.5 70.5 253.5 70.5 254.5 70.5 255.5 70.5 256.5 70.6 257.5 70.6 258.5 70.6 259.5 70.7 260.5 70.7 261.5 70.7 262.5 70.7 263.5 70.8 264.5 70.8 265.5 70.8 266.5 70.9 267.5 71.0 268.5 71.0 269.5 71.1 270.5 71.1 271.5 71.1 272.5 71.1 273.5 71.1 274.5 71.2 275.5 71.3 276.5 71.3 277.5 71.4 278.5 71.5 279.5 71.6 280.5 71.6 281.5 71.7 282.5 71.7 283.5 71.9 284.5 72.1 285.5 72.4 286.5 73.3 287.5 73.8 287.6 73.8 287.6 74.2 287.5 75.1 286.5 75.4 285.5 75.6 284.5 75.7 283.5 75.8 282.5 75.8 281.5 75.8 280.5 75.8 279.5 75.8 278.5 75.9 277.5 75.8 276.5 75.8 275.5 75.8 274.5 75.8 273.5 75.7 272.5 75.7 271.5 75.7 270.5 75.7 269.5 75.7 268.5 75.6 267.5 75.6 266.5 75.6 265.5 75.5 264.5 75.5 263.5 75.5 262.5 75.5 261.5 75.5 260.5 75.4 259.5 75.4 258.5 75.4 257.5 75.3 256.5 75.3 255.5 75.3 254.5 75.3 253.5 75.3 252.5 75.3 251.5 75.2 250.5 75.2 249.5 75.2 248.5 75.2 247.5 75.2 246.5 75.2 245.5 75.2 244.5 75.2 243.5 75.2 242.5 75.2 241.5 75.2 240.5 75.2 239.5 75.3 238.5 75.4 237.5 75.5 236.5 75.5 235.5 75.6 234.5 75.8 233.5 75.9 232.5 76.0 231.5 76.1 230.5 76.2 229.5 76.1 228.5 75.2 227.5 74.2 227.2Z"/><path fill="#0d0d0d" d="M71.7 175.5 71.7 176.4 71.6 177.4 71.7 178.3 72.0 179.3 72.5 180.2 73.0 181.1 73.5 182.1 73.8 183.0 74.6 184.0 78.8 184.7 78.8 184.7 83.0 184.0 83.8 183.0 84.1 182.1 84.6 181.1 85.1 180.2 85.6 179.3 85.9 178.3 86.0 177.4 85.9 176.4 85.9 175.5Z"/><path fill="#0d0d0d" d="M82.5 183.1 80.7 183.8 80.6 184.6 80.6 185.3 82.2 186.0 82.2 186.0 84.1 185.3 84.3 184.6 84.3 183.8 82.5 183.1Z"/><path fill="#0d0d0d" d="M75.1 183.1 73.3 183.8 73.3 184.6 73.5 185.3 75.4 186.0 75.4 186.0 77.0 185.3 77.0 184.6 76.9 183.8 75.1 183.1Z"/><path fill="#0d0d0d" d="M75.0 179.5 75.0 180.5 75.0 181.5 75.0 182.5 75.0 183.5 75.0 184.5 75.0 185.5 75.0 186.5 75.0 187.5 75.1 188.5 75.1 189.5 75.1 190.5 75.1 191.5 75.1 192.5 75.0 193.5 74.9 194.5 74.8 195.5 74.8 196.5 74.8 197.5 74.7 198.5 74.7 199.5 74.7 200.5 74.6 201.5 74.5 202.5 83.1 202.5 83.0 201.5 82.9 200.5 82.9 199.5 82.9 198.5 82.8 197.5 82.8 196.5 82.8 195.5 82.7 194.5 82.6 193.5 82.5 192.5 82.5 191.5 82.5 190.5 82.5 189.5 82.5 188.5 82.6 187.5 82.6 186.5 82.6 185.5 82.6 184.5 82.6 183.5 82.6 182.5 82.6 181.5 82.6 180.5 82.6 179.5Z"/><path fill="#0d0d0d" d="M78.8 196.3 76.0 197.0 75.3 198.0 75.0 199.0 74.9 200.0 74.9 200.9 74.8 201.9 74.8 202.9 74.7 203.9 74.7 204.9 74.6 205.9 74.6 206.9 74.5 207.9 74.5 208.9 74.4 209.9 74.3 210.8 74.2 211.8 74.1 212.8 74.0 213.8 73.8 214.8 73.7 215.8 73.6 216.8 73.4 217.8 73.3 218.8 73.1 219.8 73.0 220.7 72.8 221.7 72.6 222.7 72.5 223.7 72.3 224.7 72.1 225.7 71.9 226.7 71.4 227.7 71.3 228.7 71.0 229.7 70.6 230.6 70.4 231.6 70.3 232.6 70.3 233.6 70.3 234.6 70.6 235.6 71.3 236.6 71.6 237.6 72.1 238.6 72.9 239.6 73.3 240.5 73.7 241.5 74.8 242.5 78.8 243.1 78.8 243.1 82.8 242.5 83.9 241.5 84.3 240.5 84.7 239.6 85.5 238.6 86.0 237.6 86.3 236.6 87.0 235.6 87.3 234.6 87.3 233.6 87.3 232.6 87.2 231.6 87.0 230.6 86.6 229.7 86.3 228.7 86.2 227.7 85.7 226.7 85.5 225.7 85.3 224.7 85.1 223.7 85.0 222.7 84.8 221.7 84.6 220.7 84.5 219.8 84.3 218.8 84.2 217.8 84.0 216.8 83.9 215.8 83.8 214.8 83.6 213.8 83.5 212.8 83.4 211.8 83.3 210.8 83.2 209.9 83.1 208.9 83.1 207.9 83.0 206.9 83.0 205.9 82.9 204.9 82.9 203.9 82.8 202.9 82.8 201.9 82.7 200.9 82.7 200.0 82.6 199.0 82.3 198.0 81.6 197.0 78.8 196.3Z"/><path fill="#0d0d0d" d="M78.8 235.1 75.9 235.5 75.0 236.5 74.7 237.5 74.6 238.5 74.6 239.5 74.6 240.5 74.6 241.5 74.6 242.5 74.6 243.5 74.6 244.5 74.6 245.5 74.6 246.5 74.6 247.5 74.6 248.5 74.6 249.5 74.6 250.5 74.6 251.5 74.6 252.5 74.6 253.5 74.6 254.5 74.7 255.5 74.7 256.5 74.7 257.5 74.7 258.5 74.7 259.5 74.8 260.5 74.8 261.5 74.8 262.5 74.8 263.5 74.8 264.5 74.8 265.5 74.9 266.5 74.9 267.5 75.0 268.5 75.1 269.5 75.2 270.5 75.3 271.5 75.4 272.5 75.6 273.5 75.7 274.5 75.8 275.5 75.9 276.5 75.9 277.5 76.1 278.5 76.3 279.5 77.0 280.5 78.8 280.8 78.8 280.8 80.6 280.5 81.3 279.5 81.5 278.5 81.7 277.5 81.7 276.5 81.8 275.5 81.9 274.5 82.0 273.5 82.2 272.5 82.3 271.5 82.4 270.5 82.5 269.5 82.6 268.5 82.7 267.5 82.7 266.5 82.8 265.5 82.8 264.5 82.8 263.5 82.8 262.5 82.8 261.5 82.8 260.5 82.9 259.5 82.9 258.5 82.9 257.5 82.9 256.5 82.9 255.5 83.0 254.5 83.0 253.5 83.0 252.5 83.0 251.5 83.0 250.5 83.0 249.5 83.0 248.5 83.0 247.5 83.0 246.5 83.0 245.5 83.0 244.5 83.0 243.5 83.0 242.5 83.0 241.5 83.0 240.5 83.0 239.5 83.0 238.5 82.9 237.5 82.6 236.5 81.7 235.5 78.8 235.1Z"/><path fill="#0d0d0d" d="M83.6 227.7 82.0 228.5 81.8 229.5 81.9 230.5 81.9 231.5 82.0 232.5 82.2 233.5 82.3 234.5 82.4 235.5 82.5 236.5 82.5 237.5 82.6 238.5 82.7 239.5 82.7 240.5 82.7 241.5 82.7 242.5 82.7 243.5 82.8 244.5 82.8 245.5 82.8 246.5 82.8 247.5 82.7 248.5 82.7 249.5 82.7 250.5 82.7 251.5 82.6 252.5 82.6 253.5 82.6 254.5 82.6 255.5 82.6 256.5 82.6 257.5 82.6 258.5 82.5 259.5 82.5 260.5 82.5 261.5 82.5 262.5 82.5 263.5 82.5 264.5 82.4 265.5 82.4 266.5 82.4 267.5 82.4 268.5 82.4 269.5 82.4 270.5 82.4 271.5 82.4 272.5 82.3 273.5 82.3 274.5 82.3 275.5 82.3 276.5 82.4 277.5 82.4 278.5 82.5 279.5 82.6 280.5 82.6 281.5 82.7 282.5 82.8 283.5 83.1 284.5 83.9 285.4 83.9 285.4 84.7 284.5 85.0 283.5 85.1 282.5 85.2 281.5 85.2 280.5 85.3 279.5 85.5 278.5 85.6 277.5 85.8 276.5 85.9 275.5 85.9 274.5 86.0 273.5 86.0 272.5 86.0 271.5 86.1 270.5 86.1 269.5 86.2 268.5 86.3 267.5 86.3 266.5 86.4 265.5 86.5 264.5 86.5 263.5 86.5 262.5 86.5 261.5 86.6 260.5 86.6 259.5 86.6 258.5 86.7 257.5 86.7 256.5 86.8 255.5 86.8 254.5 86.8 253.5 86.8 252.5 86.8 251.5 86.8 250.5 86.8 249.5 86.8 248.5 86.8 247.5 86.8 246.5 86.8 245.5 86.8 244.5 86.9 243.5 86.9 242.5 86.9 241.5 86.9 240.5 86.9 239.5 86.8 238.5 86.8 237.5 86.8 236.5 86.8 235.5 86.7 234.5 86.5 233.5 86.4 232.5 86.3 231.5 86.1 230.5 85.8 229.5 85.1 228.5 83.6 227.7Z"/><path fill="#0d0d0d" d="M74.0 227.7 72.5 228.5 71.8 229.5 71.5 230.5 71.3 231.5 71.2 232.5 71.1 233.5 70.9 234.5 70.8 235.5 70.8 236.5 70.8 237.5 70.8 238.5 70.7 239.5 70.7 240.5 70.7 241.5 70.7 242.5 70.7 243.5 70.8 244.5 70.8 245.5 70.8 246.5 70.8 247.5 70.8 248.5 70.8 249.5 70.8 250.5 70.8 251.5 70.8 252.5 70.8 253.5 70.8 254.5 70.8 255.5 70.9 256.5 70.9 257.5 71.0 258.5 71.0 259.5 71.0 260.5 71.1 261.5 71.1 262.5 71.1 263.5 71.1 264.5 71.2 265.5 71.3 266.5 71.3 267.5 71.4 268.5 71.5 269.5 71.5 270.5 71.6 271.5 71.6 272.5 71.6 273.5 71.7 274.5 71.7 275.5 71.8 276.5 72.0 277.5 72.1 278.5 72.3 279.5 72.4 280.5 72.4 281.5 72.5 282.5 72.6 283.5 72.9 284.5 73.7 285.4 73.7 285.4 74.5 284.5 74.8 283.5 74.9 282.5 75.0 281.5 75.0 280.5 75.1 279.5 75.2 278.5 75.2 277.5 75.3 276.5 75.3 275.5 75.3 274.5 75.3 273.5 75.2 272.5 75.2 271.5 75.2 270.5 75.2 269.5 75.2 268.5 75.2 267.5 75.2 266.5 75.2 265.5 75.1 264.5 75.1 263.5 75.1 262.5 75.1 261.5 75.1 260.5 75.1 259.5 75.0 258.5 75.0 257.5 75.0 256.5 75.0 255.5 75.0 254.5 75.0 253.5 75.0 252.5 74.9 251.5 74.9 250.5 74.9 249.5 74.9 248.5 74.8 247.5 74.8 246.5 74.8 245.5 74.8 244.5 74.9 243.5 74.9 242.5 74.9 241.5 74.9 240.5 74.9 239.5 75.0 238.5 75.1 237.5 75.1 236.5 75.2 235.5 75.3 234.5 75.4 233.5 75.6 232.5 75.7 231.5 75.7 230.5 75.8 229.5 75.6 228.5 74.0 227.7Z"/><path fill="#121212" d="M72.0 175.5 72.0 176.4 72.0 177.4 72.1 178.3 72.3 179.3 72.8 180.2 73.3 181.1 73.8 182.1 74.1 183.0 74.9 184.0 78.8 184.6 78.8 184.6 82.7 184.0 83.5 183.0 83.8 182.1 84.3 181.1 84.8 180.2 85.3 179.3 85.5 178.3 85.6 177.4 85.6 176.4 85.6 175.5Z"/><path fill="#121212" d="M82.5 183.2 80.9 183.8 80.8 184.6 80.8 185.3 82.2 185.9 82.2 185.9 83.9 185.3 84.1 184.6 84.1 183.8 82.5 183.2Z"/><path fill="#121212" d="M75.1 183.2 73.5 183.8 73.5 184.6 73.7 185.3 75.4 185.9 75.4 185.9 76.8 185.3 76.8 184.6 76.7 183.8 75.1 183.2Z"/><path fill="#121212" d="M75.3 179.5 75.3 180.5 75.3 181.5 75.3 182.5 75.2 183.5 75.2 184.5 75.2 185.5 75.2 186.5 75.2 187.5 75.3 188.5 75.4 189.5 75.4 190.5 75.3 191.5 75.3 192.5 75.3 193.5 75.1 194.5 75.1 195.5 75.0 196.5 75.0 197.5 74.9 198.5 74.9 199.5 74.9 200.5 74.8 201.5 74.8 202.5 82.8 202.5 82.8 201.5 82.7 200.5 82.7 199.5 82.7 198.5 82.6 197.5 82.6 196.5 82.5 195.5 82.5 194.5 82.3 193.5 82.3 192.5 82.3 191.5 82.2 190.5 82.2 189.5 82.3 188.5 82.4 187.5 82.4 186.5 82.4 185.5 82.4 184.5 82.4 183.5 82.3 182.5 82.3 181.5 82.3 180.5 82.3 179.5Z"/><path fill="#121212" d="M78.8 196.5 76.3 197.0 75.5 198.0 75.2 199.0 75.1 200.0 75.1 200.9 75.0 201.9 74.9 202.9 74.9 203.9 74.8 204.9 74.8 205.9 74.7 206.9 74.7 207.9 74.6 208.9 74.6 209.9 74.4 210.8 74.3 211.8 74.3 212.8 74.2 213.8 74.0 214.8 73.9 215.8 73.8 216.8 73.6 217.8 73.5 218.8 73.4 219.8 73.2 220.7 73.1 221.7 72.9 222.7 72.8 223.7 72.6 224.7 72.4 225.7 72.2 226.7 71.8 227.7 71.6 228.7 71.4 229.7 71.0 230.6 70.8 231.6 70.7 232.6 70.7 233.6 70.7 234.6 71.1 235.6 71.8 236.6 72.1 237.6 72.6 238.6 73.4 239.6 73.9 240.5 74.3 241.5 76.1 242.5 78.8 242.7 78.8 242.7 81.5 242.5 83.3 241.5 83.7 240.5 84.2 239.6 85.0 238.6 85.5 237.6 85.8 236.6 86.5 235.6 86.9 234.6 86.9 233.6 86.9 232.6 86.8 231.6 86.6 230.6 86.2 229.7 86.0 228.7 85.8 227.7 85.4 226.7 85.2 225.7 85.0 224.7 84.8 223.7 84.7 222.7 84.5 221.7 84.4 220.7 84.2 219.8 84.1 218.8 84.0 217.8 83.8 216.8 83.7 215.8 83.6 214.8 83.4 213.8 83.3 212.8 83.3 211.8 83.2 210.8 83.0 209.9 83.0 208.9 82.9 207.9 82.9 206.9 82.8 205.9 82.8 204.9 82.7 203.9 82.7 202.9 82.6 201.9 82.5 200.9 82.5 200.0 82.4 199.0 82.1 198.0 81.3 197.0 78.8 196.5Z"/><path fill="#121212" d="M78.8 235.9 75.9 236.5 75.3 237.5 75.2 238.5 75.2 239.5 75.2 240.5 75.2 241.5 75.2 242.5 75.2 243.5 75.2 244.5 75.2 245.5 75.2 246.5 75.2 247.5 75.2 248.5 75.2 249.5 75.2 250.5 75.2 251.5 75.2 252.5 75.2 253.5 75.2 254.5 75.2 255.5 75.3 256.5 75.3 257.5 75.3 258.5 75.4 259.5 75.4 260.5 75.5 261.5 75.5 262.5 75.5 263.5 75.5 264.5 75.5 265.5 75.6 266.5 75.7 267.5 75.8 268.5 76.0 269.5 76.3 270.5 76.8 271.5 78.8 272.3 78.8 272.3 80.8 271.5 81.3 270.5 81.6 269.5 81.8 268.5 81.9 267.5 82.0 266.5 82.1 265.5 82.1 264.5 82.1 263.5 82.1 262.5 82.1 261.5 82.2 260.5 82.2 259.5 82.3 258.5 82.3 257.5 82.3 256.5 82.4 255.5 82.4 254.5 82.4 253.5 82.4 252.5 82.4 251.5 82.4 250.5 82.4 249.5 82.4 248.5 82.4 247.5 82.4 246.5 82.4 245.5 82.4 244.5 82.4 243.5 82.4 242.5 82.4 241.5 82.4 240.5 82.4 239.5 82.4 238.5 82.3 237.5 81.7 236.5 78.8 235.9Z"/><path fill="#121212" d="M83.6 227.9 82.4 228.5 82.1 229.5 82.1 230.5 82.2 231.5 82.2 232.5 82.4 233.5 82.6 234.5 82.6 235.5 82.7 236.5 82.7 237.5 82.8 238.5 82.9 239.5 82.9 240.5 82.9 241.5 82.9 242.5 83.0 243.5 83.0 244.5 83.0 245.5 83.0 246.5 83.0 247.5 83.0 248.5 82.9 249.5 82.9 250.5 82.9 251.5 82.9 252.5 82.9 253.5 82.9 254.5 82.9 255.5 82.8 256.5 82.8 257.5 82.8 258.5 82.8 259.5 82.8 260.5 82.8 261.5 82.8 262.5 82.8 263.5 82.7 264.5 82.7 265.5 82.7 266.5 82.7 267.5 82.7 268.5 82.7 269.5 82.7 270.5 82.7 271.5 82.7 272.5 82.7 273.5 82.7 274.5 82.7 275.5 82.8 276.5 82.9 277.5 83.1 278.5 83.3 279.5 83.6 280.5 83.9 281.5 83.9 281.5 84.3 280.5 84.6 279.5 84.9 278.5 85.1 277.5 85.3 276.5 85.4 275.5 85.6 274.5 85.6 273.5 85.7 272.5 85.7 271.5 85.7 270.5 85.8 269.5 85.9 268.5 86.0 267.5 86.1 266.5 86.1 265.5 86.2 264.5 86.2 263.5 86.2 262.5 86.3 261.5 86.3 260.5 86.3 259.5 86.4 258.5 86.5 257.5 86.5 256.5 86.5 255.5 86.5 254.5 86.5 253.5 86.6 252.5 86.6 251.5 86.6 250.5 86.6 249.5 86.6 248.5 86.6 247.5 86.6 246.5 86.6 245.5 86.6 244.5 86.6 243.5 86.7 242.5 86.7 241.5 86.7 240.5 86.7 239.5 86.6 238.5 86.6 237.5 86.6 236.5 86.6 235.5 86.5 234.5 86.3 233.5 86.1 232.5 86.0 231.5 85.9 230.5 85.5 229.5 84.7 228.5 83.6 227.9Z"/><path fill="#121212" d="M74.0 227.9 72.9 228.5 72.1 229.5 71.7 230.5 71.6 231.5 71.5 232.5 71.3 233.5 71.1 234.5 71.0 235.5 71.0 236.5 71.0 237.5 71.0 238.5 70.9 239.5 70.9 240.5 70.9 241.5 70.9 242.5 71.0 243.5 71.0 244.5 71.0 245.5 71.0 246.5 71.0 247.5 71.0 248.5 71.0 249.5 71.0 250.5 71.0 251.5 71.0 252.5 71.1 253.5 71.1 254.5 71.1 255.5 71.1 256.5 71.1 257.5 71.2 258.5 71.3 259.5 71.3 260.5 71.3 261.5 71.4 262.5 71.4 263.5 71.4 264.5 71.5 265.5 71.5 266.5 71.6 267.5 71.7 268.5 71.8 269.5 71.9 270.5 71.9 271.5 71.9 272.5 72.0 273.5 72.0 274.5 72.2 275.5 72.3 276.5 72.5 277.5 72.7 278.5 73.0 279.5 73.3 280.5 73.7 281.5 73.7 281.5 74.0 280.5 74.3 279.5 74.5 278.5 74.7 277.5 74.8 276.5 74.9 275.5 74.9 274.5 74.9 273.5 74.9 272.5 74.9 271.5 74.9 270.5 74.9 269.5 74.9 268.5 74.9 267.5 74.9 266.5 74.9 265.5 74.9 264.5 74.8 263.5 74.8 262.5 74.8 261.5 74.8 260.5 74.8 259.5 74.8 258.5 74.8 257.5 74.8 256.5 74.7 255.5 74.7 254.5 74.7 253.5 74.7 252.5 74.7 251.5 74.7 250.5 74.7 249.5 74.6 248.5 74.6 247.5 74.6 246.5 74.6 245.5 74.6 244.5 74.6 243.5 74.7 242.5 74.7 241.5 74.7 240.5 74.7 239.5 74.8 238.5 74.9 237.5 74.9 236.5 75.0 235.5 75.0 234.5 75.2 233.5 75.4 232.5 75.4 231.5 75.5 230.5 75.5 229.5 75.2 228.5 74.0 227.9Z"/><path fill="#171717" d="M72.2 175.5 72.2 176.4 72.2 177.4 72.3 178.3 72.5 179.3 73.0 180.2 73.5 181.1 74.0 182.1 74.3 183.0 75.2 184.0 78.8 184.5 78.8 184.5 82.4 184.0 83.3 183.0 83.6 182.1 84.1 181.1 84.6 180.2 85.1 179.3 85.3 178.3 85.4 177.4 85.4 176.4 85.4 175.5Z"/><path fill="#171717" d="M82.5 183.2 81.0 183.8 80.9 184.6 81.0 185.3 82.2 185.9 82.2 185.9 83.8 185.3 84.0 184.6 83.9 183.8 82.5 183.2Z"/><path fill="#171717" d="M75.1 183.2 73.7 183.8 73.6 184.6 73.8 185.3 75.4 185.9 75.4 185.9 76.6 185.3 76.7 184.6 76.6 183.8 75.1 183.2Z"/><path fill="#171717" d="M75.5 179.5 75.5 180.5 75.5 181.5 75.5 182.5 75.4 183.5 75.4 184.5 75.4 185.5 75.4 186.5 75.4 187.5 75.5 188.5 75.5 189.5 75.5 190.5 75.5 191.5 75.5 192.5 75.4 193.5 75.3 194.5 75.2 195.5 75.2 196.5 75.2 197.5 75.1 198.5 75.1 199.5 75.1 200.5 75.0 201.5 74.9 202.5 82.7 202.5 82.6 201.5 82.5 200.5 82.5 199.5 82.5 198.5 82.4 197.5 82.4 196.5 82.4 195.5 82.3 194.5 82.2 193.5 82.1 192.5 82.1 191.5 82.1 190.5 82.1 189.5 82.1 188.5 82.2 187.5 82.2 186.5 82.2 185.5 82.2 184.5 82.2 183.5 82.1 182.5 82.1 181.5 82.1 180.5 82.1 179.5Z"/><path fill="#171717" d="M78.8 196.6 76.6 197.0 75.6 198.0 75.3 199.0 75.2 200.0 75.2 200.9 75.1 201.9 75.0 202.9 75.0 203.9 75.0 204.9 74.9 205.9 74.8 206.9 74.8 207.9 74.8 208.9 74.7 209.9 74.6 210.8 74.5 211.8 74.4 212.8 74.3 213.8 74.2 214.8 74.1 215.8 74.0 216.8 73.8 217.8 73.7 218.8 73.5 219.8 73.4 220.7 73.3 221.7 73.1 222.7 73.0 223.7 72.8 224.7 72.7 225.7 72.4 226.7 72.1 227.7 71.9 228.7 71.7 229.7 71.4 230.6 71.1 231.6 71.1 232.6 71.1 233.6 71.1 234.6 71.5 235.6 72.2 236.6 72.5 237.6 73.0 238.6 73.9 239.6 74.5 240.5 75.0 241.5 78.8 242.3 78.8 242.3 82.6 241.5 83.1 240.5 83.7 239.6 84.6 238.6 85.1 237.6 85.4 236.6 86.1 235.6 86.5 234.6 86.5 233.6 86.5 232.6 86.5 231.6 86.2 230.6 85.9 229.7 85.7 228.7 85.5 227.7 85.2 226.7 84.9 225.7 84.8 224.7 84.6 223.7 84.5 222.7 84.3 221.7 84.2 220.7 84.1 219.8 83.9 218.8 83.8 217.8 83.6 216.8 83.5 215.8 83.4 214.8 83.3 213.8 83.2 212.8 83.1 211.8 83.0 210.8 82.9 209.9 82.8 208.9 82.8 207.9 82.8 206.9 82.7 205.9 82.6 204.9 82.6 203.9 82.6 202.9 82.5 201.9 82.4 200.9 82.4 200.0 82.3 199.0 82.0 198.0 81.0 197.0 78.8 196.6Z"/><path fill="#171717" d="M78.8 236.8 76.2 237.5 75.9 238.5 75.9 239.5 75.9 240.5 75.9 241.5 75.9 242.5 75.9 243.5 75.9 244.5 75.9 245.5 75.9 246.5 75.9 247.5 75.9 248.5 75.9 249.5 75.9 250.5 75.9 251.5 75.9 252.5 75.9 253.5 75.9 254.5 76.0 255.5 76.0 256.5 76.1 257.5 76.2 258.5 76.3 259.5 76.4 260.5 76.5 261.5 76.6 262.5 76.7 263.5 76.7 264.5 76.8 265.5 77.0 266.5 78.8 267.3 78.8 267.3 80.6 266.5 80.8 265.5 80.9 264.5 80.9 263.5 81.0 262.5 81.1 261.5 81.2 260.5 81.3 259.5 81.4 258.5 81.5 257.5 81.6 256.5 81.6 255.5 81.7 254.5 81.7 253.5 81.7 252.5 81.7 251.5 81.7 250.5 81.7 249.5 81.7 248.5 81.7 247.5 81.7 246.5 81.7 245.5 81.7 244.5 81.7 243.5 81.7 242.5 81.7 241.5 81.7 240.5 81.7 239.5 81.7 238.5 81.4 237.5 78.8 236.8Z"/><path fill="#171717" d="M83.6 228.2 82.8 228.5 82.4 229.5 82.3 230.5 82.4 231.5 82.4 232.5 82.6 233.5 82.7 234.5 82.8 235.5 82.8 236.5 82.9 237.5 83.0 238.5 83.1 239.5 83.1 240.5 83.1 241.5 83.1 242.5 83.1 243.5 83.1 244.5 83.1 245.5 83.1 246.5 83.1 247.5 83.1 248.5 83.1 249.5 83.1 250.5 83.1 251.5 83.1 252.5 83.0 253.5 83.0 254.5 83.0 255.5 83.0 256.5 83.0 257.5 83.0 258.5 83.0 259.5 83.0 260.5 83.0 261.5 83.0 262.5 83.0 263.5 83.0 264.5 82.9 265.5 82.9 266.5 82.9 267.5 83.0 268.5 83.0 269.5 83.0 270.5 83.0 271.5 83.0 272.5 83.0 273.5 83.1 274.5 83.2 275.5 83.3 276.5 83.6 277.5 84.0 278.0 84.0 278.0 84.5 277.5 84.8 276.5 85.0 275.5 85.2 274.5 85.3 273.5 85.4 272.5 85.4 271.5 85.4 270.5 85.5 269.5 85.6 268.5 85.7 267.5 85.8 266.5 85.9 265.5 86.0 264.5 86.0 263.5 86.0 262.5 86.0 261.5 86.1 260.5 86.1 259.5 86.2 258.5 86.3 257.5 86.3 256.5 86.3 255.5 86.4 254.5 86.4 253.5 86.4 252.5 86.4 251.5 86.4 250.5 86.4 249.5 86.5 248.5 86.5 247.5 86.5 246.5 86.5 245.5 86.5 244.5 86.5 243.5 86.5 242.5 86.5 241.5 86.5 240.5 86.5 239.5 86.5 238.5 86.4 237.5 86.4 236.5 86.4 235.5 86.3 234.5 86.1 233.5 85.9 232.5 85.8 231.5 85.7 230.5 85.3 229.5 84.3 228.5 83.6 228.2Z"/><path fill="#171717" d="M74.0 228.2 73.3 228.5 72.3 229.5 71.9 230.5 71.8 231.5 71.7 232.5 71.5 233.5 71.3 234.5 71.2 235.5 71.2 236.5 71.2 237.5 71.1 238.5 71.1 239.5 71.1 240.5 71.1 241.5 71.1 242.5 71.1 243.5 71.1 244.5 71.1 245.5 71.1 246.5 71.1 247.5 71.1 248.5 71.2 249.5 71.2 250.5 71.2 251.5 71.2 252.5 71.2 253.5 71.2 254.5 71.3 255.5 71.3 256.5 71.3 257.5 71.4 258.5 71.5 259.5 71.5 260.5 71.6 261.5 71.6 262.5 71.6 263.5 71.6 264.5 71.7 265.5 71.8 266.5 71.9 267.5 72.0 268.5 72.1 269.5 72.2 270.5 72.2 271.5 72.2 272.5 72.3 273.5 72.4 274.5 72.6 275.5 72.8 276.5 73.1 277.5 73.6 278.0 73.6 278.0 74.0 277.5 74.3 276.5 74.4 275.5 74.5 274.5 74.6 273.5 74.6 272.5 74.6 271.5 74.6 270.5 74.6 269.5 74.6 268.5 74.7 267.5 74.7 266.5 74.7 265.5 74.6 264.5 74.6 263.5 74.6 262.5 74.6 261.5 74.6 260.5 74.6 259.5 74.6 258.5 74.6 257.5 74.6 256.5 74.6 255.5 74.6 254.5 74.6 253.5 74.5 252.5 74.5 251.5 74.5 250.5 74.5 249.5 74.5 248.5 74.5 247.5 74.5 246.5 74.5 245.5 74.5 244.5 74.5 243.5 74.5 242.5 74.5 241.5 74.5 240.5 74.5 239.5 74.6 238.5 74.7 237.5 74.8 236.5 74.8 235.5 74.9 234.5 75.0 233.5 75.2 232.5 75.2 231.5 75.3 230.5 75.2 229.5 74.8 228.5 74.0 228.2Z"/><path fill="#1d1d1d" d="M72.5 175.5 72.4 176.4 72.4 177.4 72.5 178.3 72.7 179.3 73.2 180.2 73.7 181.1 74.1 182.1 74.5 183.0 75.4 184.0 78.8 184.4 78.8 184.4 82.2 184.0 83.1 183.0 83.5 182.1 83.9 181.1 84.4 180.2 84.9 179.3 85.1 178.3 85.2 177.4 85.2 176.4 85.1 175.5Z"/><path fill="#1d1d1d" d="M82.5 183.3 81.2 183.8 81.1 184.6 81.1 185.3 82.2 185.8 82.2 185.8 83.6 185.3 83.9 184.6 83.8 183.8 82.5 183.3Z"/><path fill="#1d1d1d" d="M75.1 183.3 73.8 183.8 73.7 184.6 74.0 185.3 75.4 185.8 75.4 185.8 76.5 185.3 76.5 184.6 76.4 183.8 75.1 183.3Z"/><path fill="#1d1d1d" d="M75.7 179.5 75.7 180.5 75.7 181.5 75.7 182.5 75.6 183.5 75.6 184.5 75.6 185.5 75.6 186.5 75.6 187.5 75.6 188.5 75.7 189.5 75.7 190.5 75.6 191.5 75.6 192.5 75.6 193.5 75.5 194.5 75.4 195.5 75.4 196.5 75.3 197.5 75.3 198.5 75.2 199.5 75.2 200.5 75.1 201.5 75.1 202.5 82.5 202.5 82.5 201.5 82.4 200.5 82.4 199.5 82.3 198.5 82.3 197.5 82.2 196.5 82.2 195.5 82.1 194.5 82.0 193.5 82.0 192.5 82.0 191.5 81.9 190.5 81.9 189.5 82.0 188.5 82.0 187.5 82.0 186.5 82.0 185.5 82.0 184.5 82.0 183.5 81.9 182.5 81.9 181.5 81.9 180.5 81.9 179.5Z"/><path fill="#1d1d1d" d="M78.8 196.8 76.9 197.0 75.8 198.0 75.4 199.0 75.3 200.0 75.3 200.9 75.2 201.9 75.1 202.9 75.1 203.9 75.1 204.9 75.0 205.9 74.9 206.9 74.9 207.9 74.9 208.9 74.8 209.9 74.7 210.8 74.6 211.8 74.6 212.8 74.4 213.8 74.3 214.8 74.2 215.8 74.1 216.8 73.9 217.8 73.9 218.8 73.7 219.8 73.5 220.7 73.4 221.7 73.3 222.7 73.2 223.7 73.0 224.7 72.9 225.7 72.7 226.7 72.3 227.7 72.1 228.7 71.9 229.7 71.6 230.6 71.4 231.6 71.4 232.6 71.4 233.6 71.5 234.6 71.9 235.6 72.6 236.6 72.9 237.6 73.4 238.6 74.4 239.6 75.1 240.5 75.9 241.5 78.8 241.9 78.8 241.9 81.7 241.5 82.5 240.5 83.2 239.6 84.2 238.6 84.7 237.6 85.0 236.6 85.7 235.6 86.1 234.6 86.2 233.6 86.2 232.6 86.2 231.6 86.0 230.6 85.7 229.7 85.5 228.7 85.3 227.7 84.9 226.7 84.7 225.7 84.6 224.7 84.4 223.7 84.3 222.7 84.2 221.7 84.1 220.7 83.9 219.8 83.7 218.8 83.7 217.8 83.5 216.8 83.4 215.8 83.3 214.8 83.2 213.8 83.0 212.8 83.0 211.8 82.9 210.8 82.8 209.9 82.7 208.9 82.7 207.9 82.7 206.9 82.6 205.9 82.5 204.9 82.5 203.9 82.5 202.9 82.4 201.9 82.3 200.9 82.3 200.0 82.2 199.0 81.8 198.0 80.7 197.0 78.8 196.8Z"/><path fill="#1d1d1d" d="M83.8 228.5 82.6 229.5 82.5 230.5 82.5 231.5 82.6 232.5 82.7 233.5 82.9 234.5 83.0 235.5 83.0 236.5 83.1 237.5 83.1 238.5 83.2 239.5 83.2 240.5 83.2 241.5 83.2 242.5 83.3 243.5 83.3 244.5 83.3 245.5 83.3 246.5 83.3 247.5 83.3 248.5 83.2 249.5 83.2 250.5 83.2 251.5 83.2 252.5 83.2 253.5 83.2 254.5 83.2 255.5 83.2 256.5 83.2 257.5 83.2 258.5 83.2 259.5 83.2 260.5 83.2 261.5 83.2 262.5 83.2 263.5 83.2 264.5 83.2 265.5 83.2 266.5 83.2 267.5 83.2 268.5 83.3 269.5 83.3 270.5 83.3 271.5 83.3 272.5 83.4 273.5 83.5 274.5 83.7 275.5 84.0 276.0 84.0 276.0 84.5 275.5 84.8 274.5 84.9 273.5 85.0 272.5 85.1 271.5 85.1 270.5 85.2 269.5 85.3 268.5 85.5 267.5 85.6 266.5 85.7 265.5 85.8 264.5 85.8 263.5 85.8 262.5 85.9 261.5 85.9 260.5 86.0 259.5 86.0 258.5 86.1 257.5 86.2 256.5 86.2 255.5 86.2 254.5 86.2 253.5 86.2 252.5 86.2 251.5 86.3 250.5 86.3 249.5 86.3 248.5 86.3 247.5 86.3 246.5 86.3 245.5 86.3 244.5 86.3 243.5 86.4 242.5 86.4 241.5 86.4 240.5 86.4 239.5 86.3 238.5 86.3 237.5 86.3 236.5 86.2 235.5 86.2 234.5 86.0 233.5 85.8 232.5 85.7 231.5 85.5 230.5 85.1 229.5 83.8 228.5Z"/><path fill="#1d1d1d" d="M73.8 228.5 72.5 229.5 72.1 230.5 71.9 231.5 71.8 232.5 71.6 233.5 71.4 234.5 71.4 235.5 71.3 236.5 71.3 237.5 71.3 238.5 71.2 239.5 71.2 240.5 71.2 241.5 71.2 242.5 71.3 243.5 71.3 244.5 71.3 245.5 71.3 246.5 71.3 247.5 71.3 248.5 71.3 249.5 71.3 250.5 71.4 251.5 71.4 252.5 71.4 253.5 71.4 254.5 71.4 255.5 71.4 256.5 71.5 257.5 71.6 258.5 71.6 259.5 71.7 260.5 71.7 261.5 71.8 262.5 71.8 263.5 71.8 264.5 71.9 265.5 72.0 266.5 72.1 267.5 72.3 268.5 72.4 269.5 72.5 270.5 72.5 271.5 72.6 272.5 72.7 273.5 72.8 274.5 73.1 275.5 73.5 276.0 73.5 276.0 73.9 275.5 74.1 274.5 74.2 273.5 74.3 272.5 74.3 271.5 74.3 270.5 74.3 269.5 74.4 268.5 74.4 267.5 74.4 266.5 74.4 265.5 74.4 264.5 74.4 263.5 74.4 262.5 74.4 261.5 74.4 260.5 74.4 259.5 74.4 258.5 74.4 257.5 74.4 256.5 74.4 255.5 74.4 254.5 74.4 253.5 74.4 252.5 74.4 251.5 74.4 250.5 74.4 249.5 74.3 248.5 74.3 247.5 74.3 246.5 74.3 245.5 74.3 244.5 74.3 243.5 74.4 242.5 74.4 241.5 74.4 240.5 74.4 239.5 74.5 238.5 74.5 237.5 74.6 236.5 74.6 235.5 74.7 234.5 74.9 233.5 75.0 232.5 75.1 231.5 75.1 230.5 75.0 229.5 73.8 228.5Z"/><path fill="#252525" d="M72.7 175.5 72.7 176.4 72.7 177.4 72.8 178.3 73.0 179.3 73.5 180.2 74.0 181.1 74.4 182.1 74.7 183.0 75.8 184.0 78.8 184.2 78.8 184.2 81.8 184.0 82.9 183.0 83.2 182.1 83.6 181.1 84.1 180.2 84.6 179.3 84.8 178.3 84.9 177.4 84.9 176.4 84.9 175.5Z"/><path fill="#252525" d="M82.5 183.4 81.4 183.8 81.2 184.6 81.3 185.3 82.2 185.7 82.2 185.7 83.4 185.3 83.7 184.6 83.6 183.8 82.5 183.4Z"/><path fill="#252525" d="M75.1 183.4 74.0 183.8 73.9 184.6 74.2 185.3 75.4 185.7 75.4 185.7 76.3 185.3 76.4 184.6 76.2 183.8 75.1 183.4Z"/><path fill="#252525" d="M75.9 179.5 75.9 180.5 75.9 181.5 75.9 182.5 75.8 183.5 75.8 184.5 75.8 185.5 75.8 186.5 75.8 187.5 75.8 188.5 75.9 189.5 75.9 190.5 75.8 191.5 75.8 192.5 75.7 193.5 75.6 194.5 75.6 195.5 75.5 196.5 75.5 197.5 75.4 198.5 75.4 199.5 75.4 200.5 75.3 201.5 75.3 202.5 82.3 202.5 82.3 201.5 82.2 200.5 82.2 199.5 82.2 198.5 82.1 197.5 82.1 196.5 82.0 195.5 82.0 194.5 81.9 193.5 81.8 192.5 81.8 191.5 81.7 190.5 81.7 189.5 81.8 188.5 81.8 187.5 81.8 186.5 81.8 185.5 81.8 184.5 81.8 183.5 81.7 182.5 81.7 181.5 81.7 180.5 81.7 179.5Z"/><path fill="#252525" d="M78.8 197.0 78.0 197.0 75.9 198.0 75.6 199.0 75.4 200.0 75.4 200.9 75.3 201.9 75.3 202.9 75.2 203.9 75.2 204.9 75.1 205.9 75.1 206.9 75.0 207.9 75.0 208.9 74.9 209.9 74.8 210.8 74.7 211.8 74.7 212.8 74.6 213.8 74.4 214.8 74.4 215.8 74.3 216.8 74.1 217.8 74.0 218.8 73.9 219.8 73.7 220.7 73.6 221.7 73.5 222.7 73.4 223.7 73.2 224.7 73.1 225.7 72.9 226.7 72.6 227.7 72.5 228.7 72.3 229.7 72.0 230.6 71.8 231.6 71.8 232.6 71.9 233.6 71.9 234.6 72.4 235.6 73.1 236.6 73.5 237.6 74.1 238.6 75.3 239.6 76.4 240.5 78.8 241.0 78.8 241.0 81.2 240.5 82.3 239.6 83.5 238.6 84.1 237.6 84.5 236.6 85.2 235.6 85.7 234.6 85.7 233.6 85.8 232.6 85.8 231.6 85.6 230.6 85.3 229.7 85.1 228.7 85.0 227.7 84.7 226.7 84.5 225.7 84.4 224.7 84.2 223.7 84.1 222.7 84.0 221.7 83.9 220.7 83.7 219.8 83.6 218.8 83.5 217.8 83.3 216.8 83.2 215.8 83.2 214.8 83.0 213.8 82.9 212.8 82.9 211.8 82.8 210.8 82.7 209.9 82.6 208.9 82.6 207.9 82.5 206.9 82.5 205.9 82.4 204.9 82.4 203.9 82.3 202.9 82.3 201.9 82.2 200.9 82.2 200.0 82.0 199.0 81.7 198.0 79.6 197.0 78.8 197.0Z"/><path fill="#252525" d="M83.8 228.9 82.9 229.5 82.7 230.5 82.7 231.5 82.8 232.5 82.9 233.5 83.1 234.5 83.1 235.5 83.2 236.5 83.2 237.5 83.3 238.5 83.4 239.5 83.4 240.5 83.4 241.5 83.4 242.5 83.4 243.5 83.4 244.5 83.5 245.5 83.5 246.5 83.5 247.5 83.4 248.5 83.4 249.5 83.4 250.5 83.4 251.5 83.4 252.5 83.4 253.5 83.4 254.5 83.4 255.5 83.4 256.5 83.4 257.5 83.4 258.5 83.4 259.5 83.4 260.5 83.4 261.5 83.4 262.5 83.4 263.5 83.4 264.5 83.4 265.5 83.5 266.5 83.5 267.5 83.6 268.5 83.8 269.5 84.0 270.5 84.2 271.5 84.2 271.5 84.5 270.5 84.7 269.5 84.9 268.5 85.1 267.5 85.3 266.5 85.4 265.5 85.5 264.5 85.6 263.5 85.6 262.5 85.6 261.5 85.7 260.5 85.7 259.5 85.8 258.5 85.9 257.5 85.9 256.5 86.0 255.5 86.0 254.5 86.0 253.5 86.0 252.5 86.0 251.5 86.1 250.5 86.1 249.5 86.1 248.5 86.1 247.5 86.1 246.5 86.1 245.5 86.2 244.5 86.2 243.5 86.2 242.5 86.2 241.5 86.2 240.5 86.2 239.5 86.1 238.5 86.1 237.5 86.1 236.5 86.1 235.5 86.0 234.5 85.8 233.5 85.6 232.5 85.5 231.5 85.3 230.5 84.7 229.5 83.8 228.9Z"/><path fill="#252525" d="M73.8 228.9 72.9 229.5 72.3 230.5 72.1 231.5 72.0 232.5 71.8 233.5 71.6 234.5 71.5 235.5 71.5 236.5 71.5 237.5 71.5 238.5 71.4 239.5 71.4 240.5 71.4 241.5 71.4 242.5 71.4 243.5 71.4 244.5 71.5 245.5 71.5 246.5 71.5 247.5 71.5 248.5 71.5 249.5 71.5 250.5 71.6 251.5 71.6 252.5 71.6 253.5 71.6 254.5 71.6 255.5 71.7 256.5 71.7 257.5 71.8 258.5 71.9 259.5 71.9 260.5 72.0 261.5 72.0 262.5 72.0 263.5 72.1 264.5 72.2 265.5 72.3 266.5 72.5 267.5 72.7 268.5 72.9 269.5 73.1 270.5 73.4 271.5 73.4 271.5 73.6 270.5 73.8 269.5 74.0 268.5 74.1 267.5 74.1 266.5 74.2 265.5 74.2 264.5 74.2 263.5 74.2 262.5 74.2 261.5 74.2 260.5 74.2 259.5 74.2 258.5 74.2 257.5 74.2 256.5 74.2 255.5 74.2 254.5 74.2 253.5 74.2 252.5 74.2 251.5 74.2 250.5 74.2 249.5 74.2 248.5 74.1 247.5 74.1 246.5 74.1 245.5 74.2 244.5 74.2 243.5 74.2 242.5 74.2 241.5 74.2 240.5 74.2 239.5 74.3 238.5 74.4 237.5 74.4 236.5 74.5 235.5 74.5 234.5 74.7 233.5 74.8 232.5 74.9 231.5 74.9 230.5 74.7 229.5 73.8 228.9Z"/><path fill="#2e2e2e" d="M73.0 175.5 73.0 176.4 73.0 177.4 73.1 178.3 73.3 179.3 73.8 180.2 74.2 181.1 74.6 182.1 74.9 183.0 76.4 184.0 78.8 184.1 78.8 184.1 81.2 184.0 82.7 183.0 83.0 182.1 83.4 181.1 83.8 180.2 84.3 179.3 84.5 178.3 84.6 177.4 84.6 176.4 84.6 175.5Z"/><path fill="#2e2e2e" d="M82.5 183.4 81.5 183.8 81.4 184.6 81.5 185.3 82.2 185.6 82.2 185.6 83.3 185.3 83.6 184.6 83.4 183.8 82.5 183.4Z"/><path fill="#2e2e2e" d="M75.1 183.4 74.2 183.8 74.0 184.6 74.3 185.3 75.4 185.6 75.4 185.6 76.1 185.3 76.2 184.6 76.1 183.8 75.1 183.4Z"/><path fill="#2e2e2e" d="M76.1 179.5 76.1 180.5 76.1 181.5 76.1 182.5 76.0 183.5 76.0 184.5 76.0 185.5 76.0 186.5 76.0 187.5 76.0 188.5 76.0 189.5 76.0 190.5 76.0 191.5 75.9 192.5 75.9 193.5 75.8 194.5 75.7 195.5 75.7 196.5 75.7 197.5 75.6 198.5 75.6 199.5 75.5 200.5 75.5 201.5 75.4 202.5 82.2 202.5 82.1 201.5 82.1 200.5 82.0 199.5 82.0 198.5 81.9 197.5 81.9 196.5 81.9 195.5 81.8 194.5 81.7 193.5 81.7 192.5 81.6 191.5 81.6 190.5 81.6 189.5 81.6 188.5 81.6 187.5 81.6 186.5 81.6 185.5 81.6 184.5 81.6 183.5 81.5 182.5 81.5 181.5 81.5 180.5 81.5 179.5Z"/><path fill="#2e2e2e" d="M78.8 197.1 76.1 198.0 75.7 199.0 75.5 200.0 75.5 200.9 75.4 201.9 75.4 202.9 75.4 203.9 75.3 204.9 75.3 205.9 75.2 206.9 75.1 207.9 75.1 208.9 75.1 209.9 74.9 210.8 74.9 211.8 74.8 212.8 74.7 213.8 74.6 214.8 74.5 215.8 74.4 216.8 74.3 217.8 74.2 218.8 74.0 219.8 73.9 220.7 73.8 221.7 73.7 222.7 73.6 223.7 73.5 224.7 73.3 225.7 73.2 226.7 72.9 227.7 72.7 228.7 72.6 229.7 72.3 230.6 72.2 231.6 72.2 232.6 72.3 233.6 72.4 234.6 72.8 235.6 73.6 236.6 74.1 237.6 74.8 238.6 77.0 239.6 78.8 239.7 78.8 239.7 80.6 239.6 82.8 238.6 83.5 237.6 84.0 236.6 84.8 235.6 85.2 234.6 85.3 233.6 85.4 232.6 85.4 231.6 85.3 230.6 85.0 229.7 84.9 228.7 84.7 227.7 84.4 226.7 84.3 225.7 84.1 224.7 84.0 223.7 83.9 222.7 83.8 221.7 83.7 220.7 83.6 219.8 83.4 218.8 83.3 217.8 83.2 216.8 83.1 215.8 83.0 214.8 82.9 213.8 82.8 212.8 82.7 211.8 82.7 210.8 82.5 209.9 82.5 208.9 82.5 207.9 82.4 206.9 82.3 205.9 82.3 204.9 82.2 203.9 82.2 202.9 82.2 201.9 82.1 200.9 82.1 200.0 81.9 199.0 81.5 198.0 78.8 197.1Z"/><path fill="#2e2e2e" d="M83.8 229.2 83.2 229.5 83.0 230.5 82.9 231.5 83.0 232.5 83.1 233.5 83.2 234.5 83.3 235.5 83.3 236.5 83.4 237.5 83.5 238.5 83.5 239.5 83.6 240.5 83.6 241.5 83.6 242.5 83.6 243.5 83.6 244.5 83.6 245.5 83.6 246.5 83.6 247.5 83.6 248.5 83.6 249.5 83.6 250.5 83.6 251.5 83.6 252.5 83.6 253.5 83.6 254.5 83.6 255.5 83.6 256.5 83.6 257.5 83.6 258.5 83.6 259.5 83.7 260.5 83.7 261.5 83.7 262.5 83.7 263.5 83.7 264.5 83.8 265.5 83.9 266.5 84.1 267.5 84.3 267.8 84.3 267.8 84.6 267.5 84.9 266.5 85.1 265.5 85.2 264.5 85.3 263.5 85.3 262.5 85.3 261.5 85.4 260.5 85.5 259.5 85.6 258.5 85.7 257.5 85.7 256.5 85.8 255.5 85.8 254.5 85.8 253.5 85.8 252.5 85.9 251.5 85.9 250.5 85.9 249.5 86.0 248.5 86.0 247.5 86.0 246.5 86.0 245.5 86.0 244.5 86.0 243.5 86.0 242.5 86.0 241.5 86.0 240.5 86.0 239.5 86.0 238.5 85.9 237.5 85.9 236.5 85.9 235.5 85.8 234.5 85.6 233.5 85.4 232.5 85.3 231.5 85.1 230.5 84.4 229.5 83.8 229.2Z"/><path fill="#2e2e2e" d="M73.8 229.2 73.2 229.5 72.5 230.5 72.3 231.5 72.2 232.5 72.0 233.5 71.8 234.5 71.7 235.5 71.7 236.5 71.7 237.5 71.6 238.5 71.6 239.5 71.6 240.5 71.6 241.5 71.6 242.5 71.6 243.5 71.6 244.5 71.6 245.5 71.6 246.5 71.6 247.5 71.6 248.5 71.7 249.5 71.7 250.5 71.7 251.5 71.8 252.5 71.8 253.5 71.8 254.5 71.8 255.5 71.9 256.5 71.9 257.5 72.0 258.5 72.1 259.5 72.2 260.5 72.3 261.5 72.3 262.5 72.3 263.5 72.4 264.5 72.5 265.5 72.7 266.5 73.0 267.5 73.3 267.8 73.3 267.8 73.5 267.5 73.7 266.5 73.8 265.5 73.9 264.5 73.9 263.5 73.9 262.5 73.9 261.5 73.9 260.5 74.0 259.5 74.0 258.5 74.0 257.5 74.0 256.5 74.0 255.5 74.0 254.5 74.0 253.5 74.0 252.5 74.0 251.5 74.0 250.5 74.0 249.5 74.0 248.5 74.0 247.5 74.0 246.5 74.0 245.5 74.0 244.5 74.0 243.5 74.0 242.5 74.0 241.5 74.0 240.5 74.1 239.5 74.1 238.5 74.2 237.5 74.3 236.5 74.3 235.5 74.4 234.5 74.5 233.5 74.6 232.5 74.7 231.5 74.6 230.5 74.4 229.5 73.8 229.2Z"/><path fill="#383838" d="M73.3 175.5 73.3 176.4 73.3 177.4 73.4 178.3 73.6 179.3 74.1 180.2 74.5 181.1 74.9 182.1 75.2 183.0 78.8 183.9 78.8 183.9 82.4 183.0 82.7 182.1 83.1 181.1 83.5 180.2 84.0 179.3 84.2 178.3 84.3 177.4 84.3 176.4 84.3 175.5Z"/><path fill="#383838" d="M82.5 183.5 81.7 183.8 81.5 184.6 81.7 185.3 82.2 185.5 82.2 185.5 83.0 185.3 83.4 184.6 83.2 183.8 82.5 183.5Z"/><path fill="#383838" d="M75.1 183.5 74.4 183.8 74.2 184.6 74.6 185.3 75.4 185.5 75.4 185.5 75.9 185.3 76.1 184.6 75.9 183.8 75.1 183.5Z"/><path fill="#383838" d="M76.4 179.5 76.4 180.5 76.3 181.5 76.3 182.5 76.3 183.5 76.2 184.5 76.2 185.5 76.2 186.5 76.2 187.5 76.2 188.5 76.2 189.5 76.2 190.5 76.2 191.5 76.1 192.5 76.1 193.5 76.0 194.5 75.9 195.5 75.9 196.5 75.8 197.5 75.8 198.5 75.7 199.5 75.7 200.5 75.7 201.5 75.6 202.5 82.0 202.5 81.9 201.5 81.9 200.5 81.9 199.5 81.8 198.5 81.8 197.5 81.7 196.5 81.7 195.5 81.6 194.5 81.5 193.5 81.5 192.5 81.4 191.5 81.4 190.5 81.4 189.5 81.4 188.5 81.4 187.5 81.4 186.5 81.4 185.5 81.4 184.5 81.3 183.5 81.3 182.5 81.3 181.5 81.2 180.5 81.2 179.5Z"/><path fill="#383838" d="M78.8 197.2 76.3 198.0 75.8 199.0 75.7 200.0 75.6 200.9 75.6 201.9 75.5 202.9 75.5 203.9 75.4 204.9 75.4 205.9 75.3 206.9 75.3 207.9 75.3 208.9 75.2 209.9 75.1 210.8 75.0 211.8 75.0 212.8 74.9 213.8 74.7 214.8 74.7 215.8 74.6 216.8 74.4 217.8 74.4 218.8 74.2 219.8 74.1 220.7 74.0 221.7 73.9 222.7 73.8 223.7 73.7 224.7 73.6 225.7 73.5 226.7 73.2 227.7 73.1 228.7 72.9 229.7 72.7 230.6 72.6 231.6 72.6 232.6 72.8 233.6 72.9 234.6 73.4 235.6 74.4 236.6 75.1 237.6 76.3 238.6 78.8 238.8 78.8 238.8 81.3 238.6 82.5 237.6 83.2 236.6 84.2 235.6 84.7 234.6 84.8 233.6 85.0 232.6 85.0 231.6 84.9 230.6 84.7 229.7 84.5 228.7 84.4 227.7 84.1 226.7 84.0 225.7 83.9 224.7 83.8 223.7 83.7 222.7 83.6 221.7 83.5 220.7 83.4 219.8 83.2 218.8 83.2 217.8 83.0 216.8 82.9 215.8 82.9 214.8 82.7 213.8 82.6 212.8 82.6 211.8 82.5 210.8 82.4 209.9 82.3 208.9 82.3 207.9 82.3 206.9 82.2 205.9 82.2 204.9 82.1 203.9 82.1 202.9 82.0 201.9 82.0 200.9 81.9 200.0 81.8 199.0 81.3 198.0 78.8 197.2Z"/><path fill="#383838" d="M84.0 229.8 83.3 230.5 83.2 231.5 83.2 232.5 83.3 233.5 83.5 234.5 83.5 235.5 83.5 236.5 83.6 237.5 83.7 238.5 83.7 239.5 83.8 240.5 83.8 241.5 83.8 242.5 83.8 243.5 83.8 244.5 83.8 245.5 83.8 246.5 83.8 247.5 83.8 248.5 83.8 249.5 83.8 250.5 83.8 251.5 83.8 252.5 83.8 253.5 83.8 254.5 83.8 255.5 83.9 256.5 83.9 257.5 83.9 258.5 84.0 259.5 84.0 260.5 84.1 261.5 84.2 262.5 84.2 263.5 84.5 264.5 84.5 264.5 84.8 263.5 84.8 262.5 84.9 261.5 85.0 260.5 85.2 259.5 85.3 258.5 85.4 257.5 85.5 256.5 85.5 255.5 85.6 254.5 85.6 253.5 85.6 252.5 85.6 251.5 85.7 250.5 85.7 249.5 85.7 248.5 85.8 247.5 85.8 246.5 85.8 245.5 85.8 244.5 85.8 243.5 85.8 242.5 85.8 241.5 85.8 240.5 85.8 239.5 85.8 238.5 85.7 237.5 85.7 236.5 85.7 235.5 85.6 234.5 85.4 233.5 85.1 232.5 85.0 231.5 84.8 230.5 84.0 229.8Z"/><path fill="#383838" d="M73.6 229.8 72.8 230.5 72.6 231.5 72.5 232.5 72.2 233.5 72.0 234.5 71.9 235.5 71.9 236.5 71.9 237.5 71.8 238.5 71.8 239.5 71.8 240.5 71.8 241.5 71.8 242.5 71.8 243.5 71.8 244.5 71.8 245.5 71.8 246.5 71.8 247.5 71.9 248.5 71.9 249.5 71.9 250.5 72.0 251.5 72.0 252.5 72.0 253.5 72.0 254.5 72.1 255.5 72.1 256.5 72.2 257.5 72.3 258.5 72.4 259.5 72.6 260.5 72.7 261.5 72.8 262.5 72.8 263.5 73.1 264.5 73.1 264.5 73.4 263.5 73.4 262.5 73.5 261.5 73.6 260.5 73.6 259.5 73.7 258.5 73.7 257.5 73.7 256.5 73.8 255.5 73.8 254.5 73.8 253.5 73.8 252.5 73.8 251.5 73.8 250.5 73.8 249.5 73.8 248.5 73.8 247.5 73.8 246.5 73.8 245.5 73.8 244.5 73.8 243.5 73.8 242.5 73.8 241.5 73.8 240.5 73.9 239.5 73.9 238.5 74.0 237.5 74.1 236.5 74.1 235.5 74.1 234.5 74.3 233.5 74.4 232.5 74.4 231.5 74.3 230.5 73.6 229.8Z"/><path fill="#424242" d="M73.7 175.5 73.7 176.4 73.6 177.4 73.7 178.3 73.9 179.3 74.4 180.2 74.8 181.1 75.2 182.1 75.5 183.0 78.8 183.7 78.8 183.7 82.1 183.0 82.4 182.1 82.8 181.1 83.2 180.2 83.7 179.3 83.9 178.3 84.0 177.4 83.9 176.4 83.9 175.5Z"/><path fill="#424242" d="M82.5 183.7 82.0 183.8 81.7 184.6 82.0 185.3 82.2 185.4 82.2 185.4 82.7 185.3 83.2 184.6 83.0 183.8 82.5 183.7Z"/><path fill="#424242" d="M75.1 183.7 74.6 183.8 74.4 184.6 74.9 185.3 75.4 185.4 75.4 185.4 75.6 185.3 75.9 184.6 75.6 183.8 75.1 183.7Z"/><path fill="#424242" d="M76.6 179.5 76.6 180.5 76.6 181.5 76.5 182.5 76.5 183.5 76.4 184.5 76.4 185.5 76.4 186.5 76.4 187.5 76.4 188.5 76.4 189.5 76.4 190.5 76.3 191.5 76.3 192.5 76.2 193.5 76.1 194.5 76.1 195.5 76.0 196.5 76.0 197.5 75.9 198.5 75.9 199.5 75.9 200.5 75.8 201.5 75.8 202.5 81.8 202.5 81.8 201.5 81.7 200.5 81.7 199.5 81.7 198.5 81.6 197.5 81.6 196.5 81.5 195.5 81.5 194.5 81.4 193.5 81.3 192.5 81.3 191.5 81.2 190.5 81.2 189.5 81.2 188.5 81.2 187.5 81.2 186.5 81.2 185.5 81.2 184.5 81.1 183.5 81.1 182.5 81.0 181.5 81.0 180.5 81.0 179.5Z"/><path fill="#424242" d="M78.8 197.4 76.5 198.0 75.9 199.0 75.8 200.0 75.8 200.9 75.7 201.9 75.6 202.9 75.6 203.9 75.6 204.9 75.5 205.9 75.4 206.9 75.4 207.9 75.4 208.9 75.3 209.9 75.2 210.8 75.1 211.8 75.1 212.8 75.0 213.8 74.9 214.8 74.8 215.8 74.7 216.8 74.6 217.8 74.5 218.8 74.4 219.8 74.3 220.7 74.2 221.7 74.1 222.7 74.1 223.7 73.9 224.7 73.9 225.7 73.7 226.7 73.5 227.7 73.4 228.7 73.3 229.7 73.1 230.6 73.0 231.6 73.1 232.6 73.3 233.6 73.5 234.6 74.1 235.6 75.5 236.6 78.8 237.6 78.8 237.6 82.1 236.6 83.5 235.6 84.1 234.6 84.3 233.6 84.5 232.6 84.6 231.6 84.5 230.6 84.3 229.7 84.2 228.7 84.1 227.7 83.9 226.7 83.7 225.7 83.7 224.7 83.5 223.7 83.5 222.7 83.4 221.7 83.3 220.7 83.2 219.8 83.1 218.8 83.0 217.8 82.9 216.8 82.8 215.8 82.7 214.8 82.6 213.8 82.5 212.8 82.5 211.8 82.4 210.8 82.3 209.9 82.2 208.9 82.2 207.9 82.2 206.9 82.1 205.9 82.0 204.9 82.0 203.9 82.0 202.9 81.9 201.9 81.8 200.9 81.8 200.0 81.7 199.0 81.1 198.0 78.8 197.4Z"/><path fill="#424242" d="M84.0 230.3 83.7 230.5 83.5 231.5 83.5 232.5 83.6 233.5 83.7 234.5 83.7 235.5 83.7 236.5 83.8 237.5 83.9 238.5 83.9 239.5 84.0 240.5 84.0 241.5 84.0 242.5 84.0 243.5 84.0 244.5 84.0 245.5 84.0 246.5 84.0 247.5 84.0 248.5 84.1 249.5 84.1 250.5 84.1 251.5 84.1 252.5 84.1 253.5 84.1 254.5 84.1 255.5 84.2 256.5 84.2 257.5 84.4 258.5 84.6 258.9 84.6 258.9 84.8 258.5 85.0 257.5 85.2 256.5 85.3 255.5 85.3 254.5 85.3 253.5 85.3 252.5 85.4 251.5 85.4 250.5 85.5 249.5 85.5 248.5 85.5 247.5 85.6 246.5 85.6 245.5 85.6 244.5 85.6 243.5 85.6 242.5 85.6 241.5 85.6 240.5 85.6 239.5 85.6 238.5 85.5 237.5 85.5 236.5 85.5 235.5 85.4 234.5 85.1 233.5 84.8 232.5 84.7 231.5 84.3 230.5 84.0 230.3Z"/><path fill="#424242" d="M73.6 230.3 73.3 230.5 72.9 231.5 72.8 232.5 72.5 233.5 72.2 234.5 72.1 235.5 72.1 236.5 72.1 237.5 72.0 238.5 72.0 239.5 72.0 240.5 72.0 241.5 72.0 242.5 72.0 243.5 72.0 244.5 72.0 245.5 72.0 246.5 72.1 247.5 72.1 248.5 72.1 249.5 72.2 250.5 72.2 251.5 72.3 252.5 72.3 253.5 72.3 254.5 72.3 255.5 72.4 256.5 72.6 257.5 72.8 258.5 73.0 258.9 73.0 258.9 73.2 258.5 73.4 257.5 73.4 256.5 73.5 255.5 73.5 254.5 73.5 253.5 73.5 252.5 73.5 251.5 73.5 250.5 73.5 249.5 73.6 248.5 73.6 247.5 73.6 246.5 73.6 245.5 73.6 244.5 73.6 243.5 73.6 242.5 73.6 241.5 73.6 240.5 73.7 239.5 73.7 238.5 73.8 237.5 73.9 236.5 73.9 235.5 73.9 234.5 74.0 233.5 74.1 232.5 74.1 231.5 73.9 230.5 73.6 230.3Z"/><path fill="#4c4c4c" d="M74.0 175.5 74.0 176.4 74.0 177.4 74.0 178.3 74.2 179.3 74.7 180.2 75.2 181.1 75.5 182.1 75.8 183.0 78.8 183.5 78.8 183.5 81.8 183.0 82.1 182.1 82.4 181.1 82.9 180.2 83.4 179.3 83.6 178.3 83.6 177.4 83.6 176.4 83.6 175.5Z"/><path fill="#4c4c4c" d="M82.5 183.8 82.3 183.8 81.9 184.6 82.4 185.1 82.4 185.1 83.0 184.6 82.6 183.8 82.5 183.8Z"/><path fill="#4c4c4c" d="M75.1 183.8 75.0 183.8 74.6 184.6 75.2 185.1 75.2 185.1 75.7 184.6 75.3 183.8 75.1 183.8Z"/><path fill="#4c4c4c" d="M76.8 179.5 76.8 180.5 76.8 181.5 76.8 182.5 76.7 183.5 76.6 184.5 76.6 185.5 76.6 186.5 76.5 187.5 76.5 188.5 76.6 189.5 76.5 190.5 76.5 191.5 76.4 192.5 76.4 193.5 76.3 194.5 76.2 195.5 76.2 196.5 76.1 197.5 76.1 198.5 76.0 199.5 76.0 200.5 76.0 201.5 75.9 202.5 81.7 202.5 81.6 201.5 81.6 200.5 81.6 199.5 81.5 198.5 81.5 197.5 81.4 196.5 81.4 195.5 81.3 194.5 81.2 193.5 81.2 192.5 81.1 191.5 81.1 190.5 81.0 189.5 81.1 188.5 81.1 187.5 81.0 186.5 81.0 185.5 81.0 184.5 80.9 183.5 80.8 182.5 80.8 181.5 80.8 180.5 80.8 179.5Z"/><path fill="#4c4c4c" d="M78.8 197.5 76.7 198.0 76.1 199.0 75.9 200.0 75.9 200.9 75.8 201.9 75.7 202.9 75.7 203.9 75.7 204.9 75.6 205.9 75.6 206.9 75.5 207.9 75.5 208.9 75.4 209.9 75.3 210.8 75.3 211.8 75.2 212.8 75.1 213.8 75.0 214.8 75.0 215.8 74.9 216.8 74.7 217.8 74.7 218.8 74.6 219.8 74.5 220.7 74.4 221.7 74.3 222.7 74.3 223.7 74.2 224.7 74.1 225.7 74.0 226.7 73.8 227.7 73.7 228.7 73.6 229.7 73.5 230.6 73.5 231.6 73.6 232.6 73.9 233.6 74.2 234.6 75.0 235.6 78.8 236.4 78.8 236.4 82.6 235.6 83.4 234.6 83.7 233.6 84.0 232.6 84.1 231.6 84.1 230.6 84.0 229.7 83.9 228.7 83.8 227.7 83.6 226.7 83.5 225.7 83.4 224.7 83.3 223.7 83.3 222.7 83.2 221.7 83.1 220.7 83.0 219.8 82.9 218.8 82.9 217.8 82.7 216.8 82.6 215.8 82.6 214.8 82.5 213.8 82.4 212.8 82.3 211.8 82.3 210.8 82.2 209.9 82.1 208.9 82.1 207.9 82.0 206.9 82.0 205.9 81.9 204.9 81.9 203.9 81.9 202.9 81.8 201.9 81.7 200.9 81.7 200.0 81.5 199.0 80.9 198.0 78.8 197.5Z"/><path fill="#4c4c4c" d="M84.1 231.5 84.1 231.5 83.9 232.5 83.9 233.5 83.9 234.5 83.9 235.5 84.0 236.5 84.0 237.5 84.1 238.5 84.2 239.5 84.2 240.5 84.2 241.5 84.2 242.5 84.2 243.5 84.3 244.5 84.3 245.5 84.3 246.5 84.3 247.5 84.3 248.5 84.3 249.5 84.4 250.5 84.4 251.5 84.5 252.5 84.6 253.5 84.7 254.5 84.7 254.5 84.7 254.5 84.7 254.5 84.8 253.5 84.9 252.5 85.0 251.5 85.1 250.5 85.2 249.5 85.3 248.5 85.3 247.5 85.3 246.5 85.3 245.5 85.3 244.5 85.4 243.5 85.4 242.5 85.4 241.5 85.4 240.5 85.4 239.5 85.4 238.5 85.3 237.5 85.3 236.5 85.3 235.5 85.1 234.5 84.8 233.5 84.5 232.5 84.1 231.5 84.1 231.5Z"/><path fill="#4c4c4c" d="M73.5 231.5 73.5 231.5 73.1 232.5 72.8 233.5 72.5 234.5 72.3 235.5 72.3 236.5 72.3 237.5 72.2 238.5 72.2 239.5 72.2 240.5 72.2 241.5 72.2 242.5 72.2 243.5 72.3 244.5 72.3 245.5 72.3 246.5 72.3 247.5 72.3 248.5 72.4 249.5 72.5 250.5 72.6 251.5 72.7 252.5 72.8 253.5 72.9 254.5 72.9 254.5 72.9 254.5 72.9 254.5 73.0 253.5 73.1 252.5 73.2 251.5 73.2 250.5 73.3 249.5 73.3 248.5 73.3 247.5 73.3 246.5 73.3 245.5 73.3 244.5 73.4 243.5 73.4 242.5 73.4 241.5 73.4 240.5 73.4 239.5 73.5 238.5 73.6 237.5 73.6 236.5 73.7 235.5 73.7 234.5 73.7 233.5 73.7 232.5 73.5 231.5 73.5 231.5Z"/><path fill="#575757" d="M74.4 175.5 74.3 176.4 74.3 177.4 74.4 178.3 74.6 179.3 75.1 180.2 75.6 181.1 75.9 182.1 76.2 183.0 78.8 183.3 78.8 183.3 81.4 183.0 81.7 182.1 82.0 181.1 82.5 180.2 83.0 179.3 83.2 178.3 83.3 177.4 83.3 176.4 83.2 175.5Z"/><path fill="#575757" d="M82.5 184.3 82.2 184.6 82.4 184.7 82.4 184.7 82.7 184.6 82.5 184.3Z"/><path fill="#575757" d="M75.1 184.3 74.9 184.6 75.2 184.7 75.2 184.7 75.4 184.6 75.1 184.3Z"/><path fill="#575757" d="M77.1 179.5 77.1 180.5 77.0 181.5 77.0 182.5 76.9 183.5 76.8 184.5 76.8 185.5 76.7 186.5 76.7 187.5 76.7 188.5 76.7 189.5 76.7 190.5 76.6 191.5 76.6 192.5 76.5 193.5 76.4 194.5 76.4 195.5 76.3 196.5 76.3 197.5 76.2 198.5 76.2 199.5 76.2 200.5 76.1 201.5 76.1 202.5 81.5 202.5 81.5 201.5 81.4 200.5 81.4 199.5 81.4 198.5 81.3 197.5 81.3 196.5 81.2 195.5 81.2 194.5 81.1 193.5 81.0 192.5 81.0 191.5 80.9 190.5 80.9 189.5 80.9 188.5 80.9 187.5 80.9 186.5 80.8 185.5 80.8 184.5 80.7 183.5 80.6 182.5 80.6 181.5 80.5 180.5 80.5 179.5Z"/><path fill="#575757" d="M78.8 197.6 76.9 198.0 76.2 199.0 76.0 200.0 76.0 200.9 75.9 201.9 75.8 202.9 75.8 203.9 75.8 204.9 75.7 205.9 75.7 206.9 75.6 207.9 75.6 208.9 75.5 209.9 75.4 210.8 75.4 211.8 75.3 212.8 75.3 213.8 75.1 214.8 75.1 215.8 75.0 216.8 74.9 217.8 74.8 218.8 74.7 219.8 74.6 220.7 74.6 221.7 74.5 222.7 74.5 223.7 74.4 224.7 74.4 225.7 74.3 226.7 74.1 227.7 74.0 228.7 74.0 229.7 73.9 230.6 74.0 231.6 74.1 232.6 74.6 233.6 75.1 234.6 76.9 235.6 78.8 235.7 78.8 235.7 80.7 235.6 82.5 234.6 83.0 233.6 83.5 232.6 83.6 231.6 83.7 230.6 83.6 229.7 83.6 228.7 83.5 227.7 83.3 226.7 83.2 225.7 83.2 224.7 83.1 223.7 83.1 222.7 83.0 221.7 83.0 220.7 82.9 219.8 82.8 218.8 82.7 217.8 82.6 216.8 82.5 215.8 82.5 214.8 82.3 213.8 82.3 212.8 82.2 211.8 82.2 210.8 82.1 209.9 82.0 208.9 82.0 207.9 81.9 206.9 81.9 205.9 81.8 204.9 81.8 203.9 81.8 202.9 81.7 201.9 81.6 200.9 81.6 200.0 81.4 199.0 80.7 198.0 78.8 197.6Z"/><path fill="#575757" d="M84.5 234.0 84.3 234.5 84.2 235.5 84.3 236.5 84.3 237.5 84.4 238.5 84.4 239.5 84.5 240.5 84.5 241.5 84.5 242.5 84.6 243.5 84.6 244.5 84.7 245.5 84.8 246.5 84.8 246.5 84.9 245.5 85.0 244.5 85.0 243.5 85.1 242.5 85.1 241.5 85.1 240.5 85.1 239.5 85.1 238.5 85.0 237.5 85.0 236.5 85.0 235.5 84.8 234.5 84.5 234.0Z"/><path fill="#575757" d="M73.1 234.0 72.8 234.5 72.6 235.5 72.6 236.5 72.6 237.5 72.5 238.5 72.5 239.5 72.5 240.5 72.5 241.5 72.5 242.5 72.6 243.5 72.6 244.5 72.7 245.5 72.8 246.5 72.8 246.5 72.9 245.5 73.0 244.5 73.0 243.5 73.1 242.5 73.1 241.5 73.1 240.5 73.2 239.5 73.2 238.5 73.3 237.5 73.3 236.5 73.4 235.5 73.3 234.5 73.1 234.0Z"/><path fill="#616161" d="M74.8 175.5 74.7 176.4 74.7 177.4 74.8 178.3 75.0 179.3 75.6 180.2 76.1 181.1 76.6 182.1 76.9 183.0 78.8 183.1 78.8 183.1 80.7 183.0 81.0 182.1 81.5 181.1 82.0 180.2 82.6 179.3 82.8 178.3 82.9 177.4 82.9 176.4 82.8 175.5Z"/><path fill="#616161" d="M77.4 179.5 77.3 180.5 77.3 181.5 77.2 182.5 77.1 183.5 77.0 184.5 77.0 185.5 76.9 186.5 76.9 187.5 76.9 188.5 76.9 189.5 76.8 190.5 76.8 191.5 76.7 192.5 76.7 193.5 76.6 194.5 76.5 195.5 76.5 196.5 76.4 197.5 76.4 198.5 76.3 199.5 76.3 200.5 76.2 201.5 76.2 202.5 81.4 202.5 81.4 201.5 81.3 200.5 81.3 199.5 81.2 198.5 81.2 197.5 81.1 196.5 81.1 195.5 81.0 194.5 80.9 193.5 80.9 192.5 80.8 191.5 80.8 190.5 80.7 189.5 80.7 188.5 80.7 187.5 80.7 186.5 80.6 185.5 80.6 184.5 80.5 183.5 80.4 182.5 80.3 181.5 80.3 180.5 80.2 179.5Z"/><path fill="#616161" d="M78.8 197.8 77.2 198.0 76.3 199.0 76.1 200.0 76.1 200.9 76.0 201.9 75.9 202.9 75.9 203.9 75.9 204.9 75.8 205.9 75.8 206.9 75.7 207.9 75.7 208.9 75.6 209.9 75.5 210.8 75.5 211.8 75.4 212.8 75.4 213.8 75.3 214.8 75.2 215.8 75.1 216.8 75.0 217.8 75.0 218.8 74.9 219.8 74.8 220.7 74.8 221.7 74.7 222.7 74.6 223.7 74.6 224.7 74.6 225.7 74.5 226.7 74.4 227.7 74.4 228.7 74.4 229.7 74.4 230.6 74.5 231.6 74.7 232.6 75.6 233.6 78.8 234.6 78.8 234.6 82.0 233.6 82.9 232.6 83.1 231.6 83.2 230.6 83.2 229.7 83.2 228.7 83.2 227.7 83.1 226.7 83.0 225.7 83.0 224.7 83.0 223.7 82.9 222.7 82.8 221.7 82.8 220.7 82.7 219.8 82.6 218.8 82.6 217.8 82.5 216.8 82.4 215.8 82.3 214.8 82.2 213.8 82.2 212.8 82.1 211.8 82.1 210.8 82.0 209.9 81.9 208.9 81.9 207.9 81.8 206.9 81.8 205.9 81.7 204.9 81.7 203.9 81.7 202.9 81.6 201.9 81.5 200.9 81.5 200.0 81.3 199.0 80.4 198.0 78.8 197.8Z"/><path fill="#6b6b6b" d="M75.3 175.5 75.3 176.4 75.2 177.4 75.3 178.3 75.6 179.3 76.4 180.2 78.8 181.1 78.8 181.1 81.2 180.2 82.0 179.3 82.3 178.3 82.4 177.4 82.3 176.4 82.3 175.5Z"/><path fill="#6b6b6b" d="M77.7 179.5 77.6 180.5 77.5 181.5 77.5 182.5 77.4 183.5 77.3 184.5 77.2 185.5 77.1 186.5 77.1 187.5 77.0 188.5 77.0 189.5 77.0 190.5 76.9 191.5 76.9 192.5 76.8 193.5 76.7 194.5 76.6 195.5 76.6 196.5 76.6 197.5 76.5 198.5 76.4 199.5 76.4 200.5 76.4 201.5 76.3 202.5 81.3 202.5 81.2 201.5 81.2 200.5 81.2 199.5 81.1 198.5 81.0 197.5 81.0 196.5 81.0 195.5 80.9 194.5 80.8 193.5 80.7 192.5 80.7 191.5 80.6 190.5 80.6 189.5 80.6 188.5 80.5 187.5 80.5 186.5 80.4 185.5 80.3 184.5 80.2 183.5 80.1 182.5 80.1 181.5 80.0 180.5 79.9 179.5Z"/><path fill="#6b6b6b" d="M78.8 197.9 77.6 198.0 76.4 199.0 76.2 200.0 76.2 200.9 76.1 201.9 76.0 202.9 76.0 203.9 76.0 204.9 75.9 205.9 75.8 206.9 75.8 207.9 75.8 208.9 75.7 209.9 75.6 210.8 75.6 211.8 75.6 212.8 75.5 213.8 75.4 214.8 75.3 215.8 75.3 216.8 75.2 217.8 75.1 218.8 75.0 219.8 75.0 220.7 74.9 221.7 74.9 222.7 74.8 223.7 74.8 224.7 74.9 225.7 74.8 226.7 74.7 227.7 74.7 228.7 74.8 229.7 74.9 230.6 75.2 231.6 75.5 232.6 78.8 233.3 78.8 233.3 82.1 232.6 82.4 231.6 82.7 230.6 82.8 229.7 82.9 228.7 82.9 227.7 82.8 226.7 82.7 225.7 82.8 224.7 82.8 223.7 82.7 222.7 82.7 221.7 82.6 220.7 82.6 219.8 82.5 218.8 82.4 217.8 82.3 216.8 82.3 215.8 82.2 214.8 82.1 213.8 82.0 212.8 82.0 211.8 82.0 210.8 81.9 209.9 81.8 208.9 81.8 207.9 81.8 206.9 81.7 205.9 81.6 204.9 81.6 203.9 81.6 202.9 81.5 201.9 81.4 200.9 81.4 200.0 81.2 199.0 80.0 198.0 78.8 197.9Z"/><path fill="#757575" d="M76.2 175.5 76.1 176.4 75.9 177.4 76.1 178.3 76.6 179.3 78.8 179.6 78.8 179.6 81.0 179.3 81.5 178.3 81.7 177.4 81.5 176.4 81.4 175.5Z"/><path fill="#757575" d="M78.2 179.5 78.1 180.5 77.9 181.5 77.9 182.5 77.7 183.5 77.5 184.5 77.5 185.5 77.3 186.5 77.3 187.5 77.2 188.5 77.2 189.5 77.1 190.5 77.1 191.5 77.0 192.5 77.0 193.5 76.8 194.5 76.8 195.5 76.7 196.5 76.7 197.5 76.6 198.5 76.6 199.5 76.5 200.5 76.5 201.5 76.4 202.5 81.2 202.5 81.1 201.5 81.1 200.5 81.0 199.5 81.0 198.5 80.9 197.5 80.9 196.5 80.8 195.5 80.8 194.5 80.6 193.5 80.6 192.5 80.5 191.5 80.5 190.5 80.4 189.5 80.4 188.5 80.3 187.5 80.3 186.5 80.1 185.5 80.1 184.5 79.9 183.5 79.7 182.5 79.7 181.5 79.5 180.5 79.4 179.5Z"/><path fill="#757575" d="M78.8 198.0 76.5 199.0 76.3 200.0 76.3 200.9 76.2 201.9 76.1 202.9 76.1 203.9 76.1 204.9 76.0 205.9 75.9 206.9 75.9 207.9 75.9 208.9 75.8 209.9 75.7 210.8 75.7 211.8 75.7 212.8 75.6 213.8 75.5 214.8 75.4 215.8 75.4 216.8 75.3 217.8 75.3 218.8 75.2 219.8 75.1 220.7 75.1 221.7 75.1 222.7 75.0 223.7 75.1 224.7 75.1 225.7 75.1 226.7 75.1 227.7 75.2 228.7 75.3 229.7 75.7 230.6 76.4 231.6 78.8 232.4 78.8 232.4 81.2 231.6 81.9 230.6 82.3 229.7 82.4 228.7 82.5 227.7 82.5 226.7 82.5 225.7 82.5 224.7 82.6 223.7 82.5 222.7 82.5 221.7 82.5 220.7 82.4 219.8 82.3 218.8 82.3 217.8 82.2 216.8 82.2 215.8 82.1 214.8 82.0 213.8 81.9 212.8 81.9 211.8 81.9 210.8 81.8 209.9 81.7 208.9 81.7 207.9 81.7 206.9 81.6 205.9 81.5 204.9 81.5 203.9 81.5 202.9 81.4 201.9 81.3 200.9 81.3 200.0 81.1 199.0 78.8 198.0Z"/><path fill="#808080" d="M78.8 182.8 78.1 183.5 77.9 184.5 77.8 185.5 77.6 186.5 77.5 187.5 77.4 188.5 77.4 189.5 77.3 190.5 77.2 191.5 77.1 192.5 77.1 193.5 77.0 194.5 76.9 195.5 76.9 196.5 76.8 197.5 76.7 198.5 76.7 199.5 76.7 200.5 76.6 201.5 76.6 202.5 81.0 202.5 81.0 201.5 80.9 200.5 80.9 199.5 80.9 198.5 80.8 197.5 80.7 196.5 80.7 195.5 80.6 194.5 80.5 193.5 80.5 192.5 80.4 191.5 80.3 190.5 80.2 189.5 80.2 188.5 80.1 187.5 80.0 186.5 79.8 185.5 79.7 184.5 79.5 183.5 78.8 182.8Z"/><path fill="#808080" d="M78.8 198.2 76.7 199.0 76.4 200.0 76.4 200.9 76.3 201.9 76.2 202.9 76.2 203.9 76.1 204.9 76.1 205.9 76.0 206.9 76.0 207.9 76.0 208.9 75.9 209.9 75.8 210.8 75.8 211.8 75.8 212.8 75.7 213.8 75.6 214.8 75.6 215.8 75.5 216.8 75.4 217.8 75.4 218.8 75.3 219.8 75.3 220.7 75.3 221.7 75.3 222.7 75.3 223.7 75.3 224.7 75.4 225.7 75.4 226.7 75.6 227.7 75.7 228.7 76.0 229.7 78.2 230.6 78.8 230.6 78.8 230.6 79.4 230.6 81.6 229.7 81.9 228.7 82.0 227.7 82.2 226.7 82.2 225.7 82.3 224.7 82.3 223.7 82.3 222.7 82.3 221.7 82.3 220.7 82.3 219.8 82.2 218.8 82.2 217.8 82.1 216.8 82.0 215.8 82.0 214.8 81.9 213.8 81.8 212.8 81.8 211.8 81.8 210.8 81.7 209.9 81.6 208.9 81.6 207.9 81.6 206.9 81.5 205.9 81.5 204.9 81.4 203.9 81.4 202.9 81.3 201.9 81.2 200.9 81.2 200.0 80.9 199.0 78.8 198.2Z"/><path fill="#8a8a8a" d="M78.8 184.7 78.3 185.5 77.9 186.5 77.7 187.5 77.6 188.5 77.5 189.5 77.5 190.5 77.4 191.5 77.3 192.5 77.2 193.5 77.1 194.5 77.0 195.5 77.0 196.5 76.9 197.5 76.9 198.5 76.8 199.5 76.8 200.5 76.7 201.5 76.7 202.5 80.9 202.5 80.9 201.5 80.8 200.5 80.8 199.5 80.7 198.5 80.7 197.5 80.6 196.5 80.6 195.5 80.5 194.5 80.4 193.5 80.3 192.5 80.2 191.5 80.1 190.5 80.1 189.5 80.0 188.5 79.9 187.5 79.7 186.5 79.3 185.5 78.8 184.7Z"/><path fill="#8a8a8a" d="M78.8 198.3 76.8 199.0 76.5 200.0 76.5 200.9 76.4 201.9 76.3 202.9 76.3 203.9 76.2 204.9 76.2 205.9 76.1 206.9 76.1 207.9 76.1 208.9 76.0 209.9 75.9 210.8 75.9 211.8 75.9 212.8 75.8 213.8 75.7 214.8 75.7 215.8 75.6 216.8 75.6 217.8 75.5 218.8 75.5 219.8 75.4 220.7 75.4 221.7 75.5 222.7 75.5 223.7 75.6 224.7 75.8 225.7 75.8 226.7 76.2 227.7 76.6 228.7 78.8 229.5 78.8 229.5 81.0 228.7 81.4 227.7 81.8 226.7 81.8 225.7 82.0 224.7 82.1 223.7 82.1 222.7 82.2 221.7 82.2 220.7 82.1 219.8 82.1 218.8 82.0 217.8 82.0 216.8 81.9 215.8 81.9 214.8 81.8 213.8 81.7 212.8 81.7 211.8 81.7 210.8 81.6 209.9 81.5 208.9 81.5 207.9 81.5 206.9 81.4 205.9 81.4 204.9 81.3 203.9 81.3 202.9 81.2 201.9 81.1 200.9 81.1 200.0 80.8 199.0 78.8 198.3Z"/><path fill="#949494" d="M78.8 186.5 78.7 186.5 78.1 187.5 77.9 188.5 77.8 189.5 77.7 190.5 77.5 191.5 77.5 192.5 77.4 193.5 77.3 194.5 77.2 195.5 77.1 196.5 77.1 197.5 77.0 198.5 76.9 199.5 76.9 200.5 76.8 201.5 76.8 202.5 80.8 202.5 80.8 201.5 80.7 200.5 80.7 199.5 80.6 198.5 80.5 197.5 80.5 196.5 80.4 195.5 80.3 194.5 80.2 193.5 80.1 192.5 80.1 191.5 79.9 190.5 79.8 189.5 79.7 188.5 79.5 187.5 78.9 186.5 78.8 186.5Z"/><path fill="#949494" d="M78.8 198.4 76.9 199.0 76.6 200.0 76.6 200.9 76.5 201.9 76.4 202.9 76.4 203.9 76.3 204.9 76.3 205.9 76.2 206.9 76.2 207.9 76.2 208.9 76.1 209.9 76.0 210.8 76.0 211.8 76.0 212.8 75.9 213.8 75.8 214.8 75.8 215.8 75.8 216.8 75.7 217.8 75.7 218.8 75.6 219.8 75.6 220.7 75.6 221.7 75.7 222.7 75.7 223.7 75.9 224.7 76.2 225.7 76.4 226.7 78.8 227.6 78.8 227.6 81.2 226.7 81.4 225.7 81.7 224.7 81.9 223.7 81.9 222.7 82.0 221.7 82.0 220.7 82.0 219.8 81.9 218.8 81.9 217.8 81.8 216.8 81.8 215.8 81.8 214.8 81.7 213.8 81.6 212.8 81.6 211.8 81.6 210.8 81.5 209.9 81.4 208.9 81.4 207.9 81.4 206.9 81.3 205.9 81.3 204.9 81.2 203.9 81.2 202.9 81.1 201.9 81.0 200.9 81.0 200.0 80.7 199.0 78.8 198.4Z"/><path fill="#9e9e9e" d="M78.8 188.4 78.6 188.5 78.1 189.5 78.0 190.5 77.7 191.5 77.6 192.5 77.6 193.5 77.4 194.5 77.3 195.5 77.3 196.5 77.2 197.5 77.1 198.5 77.1 199.5 77.0 200.5 77.0 201.5 76.9 202.5 80.7 202.5 80.6 201.5 80.6 200.5 80.5 199.5 80.5 198.5 80.4 197.5 80.3 196.5 80.3 195.5 80.2 194.5 80.0 193.5 80.0 192.5 79.9 191.5 79.6 190.5 79.5 189.5 79.0 188.5 78.8 188.4Z"/><path fill="#9e9e9e" d="M78.8 198.6 77.1 199.0 76.7 200.0 76.7 200.9 76.6 201.9 76.5 202.9 76.5 203.9 76.4 204.9 76.4 205.9 76.3 206.9 76.3 207.9 76.3 208.9 76.2 209.9 76.1 210.8 76.1 211.8 76.1 212.8 76.0 213.8 76.0 214.8 75.9 215.8 75.9 216.8 75.9 217.8 75.8 218.8 75.8 219.8 75.8 220.7 75.8 221.7 75.9 222.7 76.0 223.7 76.3 224.7 76.9 225.7 78.8 226.6 78.8 226.6 80.7 225.7 81.3 224.7 81.6 223.7 81.7 222.7 81.8 221.7 81.8 220.7 81.8 219.8 81.8 218.8 81.7 217.8 81.7 216.8 81.7 215.8 81.6 214.8 81.6 213.8 81.5 212.8 81.5 211.8 81.5 210.8 81.4 209.9 81.3 208.9 81.3 207.9 81.3 206.9 81.2 205.9 81.2 204.9 81.1 203.9 81.1 202.9 81.0 201.9 80.9 200.9 80.9 200.0 80.5 199.0 78.8 198.6Z"/><path fill="#a8a8a8" d="M78.8 190.2 78.5 190.5 78.0 191.5 77.9 192.5 77.8 193.5 77.6 194.5 77.5 195.5 77.4 196.5 77.4 197.5 77.3 198.5 77.2 199.5 77.2 200.5 77.1 201.5 77.0 202.5 80.6 202.5 80.5 201.5 80.4 200.5 80.4 199.5 80.3 198.5 80.2 197.5 80.2 196.5 80.1 195.5 80.0 194.5 79.8 193.5 79.7 192.5 79.6 191.5 79.1 190.5 78.8 190.2Z"/><path fill="#a8a8a8" d="M78.8 198.7 77.3 199.0 76.8 200.0 76.8 200.9 76.7 201.9 76.6 202.9 76.6 203.9 76.5 204.9 76.5 205.9 76.4 206.9 76.4 207.9 76.4 208.9 76.3 209.9 76.3 210.8 76.2 211.8 76.2 212.8 76.1 213.8 76.1 214.8 76.1 215.8 76.0 216.8 76.0 217.8 76.0 218.8 76.0 219.8 76.0 220.7 76.1 221.7 76.3 222.7 76.4 223.7 77.0 224.7 78.8 225.2 78.8 225.2 80.6 224.7 81.2 223.7 81.3 222.7 81.5 221.7 81.6 220.7 81.6 219.8 81.6 218.8 81.6 217.8 81.6 216.8 81.5 215.8 81.5 214.8 81.5 213.8 81.4 212.8 81.4 211.8 81.3 210.8 81.3 209.9 81.2 208.9 81.2 207.9 81.2 206.9 81.1 205.9 81.1 204.9 81.0 203.9 81.0 202.9 80.9 201.9 80.8 200.9 80.8 200.0 80.3 199.0 78.8 198.7Z"/><path fill="#b2b2b2" d="M78.8 191.5 78.2 192.5 78.0 193.5 77.8 194.5 77.7 195.5 77.6 196.5 77.5 197.5 77.4 198.5 77.3 199.5 77.3 200.5 77.2 201.5 77.2 202.5 80.4 202.5 80.4 201.5 80.3 200.5 80.3 199.5 80.2 198.5 80.1 197.5 80.0 196.5 79.9 195.5 79.8 194.5 79.6 193.5 79.4 192.5 78.8 191.5Z"/><path fill="#b2b2b2" d="M78.8 198.8 77.6 199.0 76.9 200.0 76.9 200.9 76.8 201.9 76.7 202.9 76.7 203.9 76.6 204.9 76.6 205.9 76.5 206.9 76.5 207.9 76.5 208.9 76.4 209.9 76.4 210.8 76.3 211.8 76.3 212.8 76.3 213.8 76.2 214.8 76.2 215.8 76.2 216.8 76.2 217.8 76.2 218.8 76.2 219.8 76.3 220.7 76.4 221.7 76.7 222.7 77.0 223.7 78.8 224.3 78.8 224.3 80.6 223.7 80.9 222.7 81.2 221.7 81.3 220.7 81.4 219.8 81.4 218.8 81.4 217.8 81.4 216.8 81.4 215.8 81.4 214.8 81.3 213.8 81.3 212.8 81.3 211.8 81.2 210.8 81.2 209.9 81.1 208.9 81.1 207.9 81.1 206.9 81.0 205.9 81.0 204.9 80.9 203.9 80.9 202.9 80.8 201.9 80.7 200.9 80.7 200.0 80.0 199.0 78.8 198.8Z"/><path fill="#bdbdbd" d="M78.8 193.6 78.1 194.5 77.9 195.5 77.8 196.5 77.7 197.5 77.6 198.5 77.5 199.5 77.5 200.5 77.4 201.5 77.3 202.5 80.3 202.5 80.2 201.5 80.1 200.5 80.1 199.5 80.0 198.5 79.9 197.5 79.8 196.5 79.7 195.5 79.5 194.5 78.8 193.6Z"/><path fill="#bdbdbd" d="M78.8 199.0 77.1 200.0 77.0 200.9 76.9 201.9 76.8 202.9 76.8 203.9 76.8 204.9 76.7 205.9 76.6 206.9 76.6 207.9 76.6 208.9 76.5 209.9 76.5 210.8 76.4 211.8 76.4 212.8 76.4 213.8 76.4 214.8 76.4 215.8 76.4 216.8 76.4 217.8 76.4 218.8 76.5 219.8 76.6 220.7 76.7 221.7 77.5 222.7 78.8 223.1 78.8 223.1 80.1 222.7 80.9 221.7 81.0 220.7 81.1 219.8 81.2 218.8 81.2 217.8 81.2 216.8 81.2 215.8 81.2 214.8 81.2 213.8 81.2 212.8 81.2 211.8 81.1 210.8 81.1 209.9 81.0 208.9 81.0 207.9 81.0 206.9 80.9 205.9 80.8 204.9 80.8 203.9 80.8 202.9 80.7 201.9 80.6 200.9 80.5 200.0 78.8 199.0Z"/><path fill="#c7c7c7" d="M78.8 194.9 78.3 195.5 78.2 196.5 78.0 197.5 77.8 198.5 77.7 199.5 77.6 200.5 77.5 201.5 77.5 202.5 80.1 202.5 80.1 201.5 80.0 200.5 79.9 199.5 79.8 198.5 79.6 197.5 79.4 196.5 79.3 195.5 78.8 194.9Z"/><path fill="#c7c7c7" d="M78.8 199.3 77.3 200.0 77.2 200.9 77.0 201.9 76.9 202.9 76.9 203.9 76.9 204.9 76.8 205.9 76.7 206.9 76.7 207.9 76.7 208.9 76.7 209.9 76.6 210.8 76.6 211.8 76.6 212.8 76.5 213.8 76.5 214.8 76.5 215.8 76.5 216.8 76.6 217.8 76.6 218.8 76.8 219.8 77.0 220.7 77.4 221.7 78.8 222.1 78.8 222.1 80.2 221.7 80.6 220.7 80.8 219.8 81.0 218.8 81.0 217.8 81.1 216.8 81.1 215.8 81.1 214.8 81.1 213.8 81.0 212.8 81.0 211.8 81.0 210.8 80.9 209.9 80.9 208.9 80.9 207.9 80.9 206.9 80.8 205.9 80.7 204.9 80.7 203.9 80.7 202.9 80.6 201.9 80.4 200.9 80.3 200.0 78.8 199.3Z"/><path fill="#d1d1d1" d="M78.8 197.3 78.5 197.5 78.1 198.5 77.9 199.5 77.9 200.5 77.7 201.5 77.7 202.5 79.9 202.5 79.9 201.5 79.7 200.5 79.7 199.5 79.5 198.5 79.1 197.5 78.8 197.3Z"/><path fill="#d1d1d1" d="M78.8 199.5 77.5 200.0 77.4 200.9 77.2 201.9 77.1 202.9 77.1 203.9 77.0 204.9 76.9 205.9 76.9 206.9 76.8 207.9 76.8 208.9 76.8 209.9 76.7 210.8 76.7 211.8 76.7 212.8 76.7 213.8 76.7 214.8 76.7 215.8 76.8 216.8 76.9 217.8 76.9 218.8 77.3 219.8 78.5 220.7 78.8 220.7 78.8 220.7 79.1 220.7 80.3 219.8 80.7 218.8 80.7 217.8 80.8 216.8 80.9 215.8 80.9 214.8 80.9 213.8 80.9 212.8 80.9 211.8 80.9 210.8 80.8 209.9 80.8 208.9 80.8 207.9 80.7 206.9 80.7 205.9 80.6 204.9 80.5 203.9 80.5 202.9 80.4 201.9 80.2 200.9 80.1 200.0 78.8 199.5Z"/><path fill="#dbdbdb" d="M78.8 198.7 78.3 199.5 78.2 200.5 78.0 201.5 77.9 202.5 79.7 202.5 79.6 201.5 79.4 200.5 79.3 199.5 78.8 198.7Z"/><path fill="#dbdbdb" d="M78.8 199.8 77.8 200.0 77.7 200.9 77.4 201.9 77.3 202.9 77.2 203.9 77.2 204.9 77.1 205.9 77.0 206.9 77.0 207.9 77.0 208.9 76.9 209.9 76.9 210.8 76.9 211.8 76.9 212.8 76.9 213.8 76.9 214.8 77.0 215.8 77.0 216.8 77.3 217.8 77.5 218.8 78.8 219.3 78.8 219.3 80.1 218.8 80.3 217.8 80.6 216.8 80.6 215.8 80.7 214.8 80.7 213.8 80.7 212.8 80.7 211.8 80.7 210.8 80.7 209.9 80.6 208.9 80.6 207.9 80.6 206.9 80.5 205.9 80.4 204.9 80.4 203.9 80.3 202.9 80.2 201.9 79.9 200.9 79.8 200.0 78.8 199.8Z"/><path fill="#e6e6e6" d="M78.8 201.2 78.4 201.5 78.2 202.5 79.4 202.5 79.2 201.5 78.8 201.2Z"/><path fill="#e6e6e6" d="M78.8 201.1 77.7 201.9 77.5 202.9 77.4 203.9 77.4 204.9 77.3 205.9 77.2 206.9 77.1 207.9 77.1 208.9 77.1 209.9 77.1 210.8 77.1 211.8 77.1 212.8 77.1 213.8 77.2 214.8 77.3 215.8 77.5 216.8 78.8 217.5 78.8 217.5 80.1 216.8 80.3 215.8 80.4 214.8 80.5 213.8 80.5 212.8 80.5 211.8 80.5 210.8 80.5 209.9 80.5 208.9 80.5 207.9 80.4 206.9 80.3 205.9 80.2 204.9 80.2 203.9 80.1 202.9 79.9 201.9 78.8 201.1Z"/><path fill="#f0f0f0" d="M78.8 202.4 77.9 202.9 77.8 203.9 77.7 204.9 77.5 205.9 77.4 206.9 77.3 207.9 77.3 208.9 77.3 209.9 77.3 210.8 77.3 211.8 77.4 212.8 77.5 213.8 77.8 214.8 78.8 215.8 78.8 215.8 78.8 215.8 78.8 215.8 79.8 214.8 80.1 213.8 80.2 212.8 80.3 211.8 80.3 210.8 80.3 209.9 80.3 208.9 80.3 207.9 80.2 206.9 80.1 205.9 79.9 204.9 79.8 203.9 79.7 202.9 78.8 202.4Z"/><path fill="#fafafa" d="M78.8 205.6 78.2 205.9 77.8 206.9 77.7 207.9 77.7 208.9 77.7 209.9 77.8 210.8 77.9 211.8 77.9 212.8 78.8 213.4 78.8 213.4 79.7 212.8 79.7 211.8 79.8 210.8 79.9 209.9 79.9 208.9 79.9 207.9 79.8 206.9 79.4 205.9 78.8 205.6Z"/></g></g>
<rect x="57.60" y="277.50" width="2.50" height="17.90" fill="#e6e6e6" stroke="#b0b0b0" stroke-width="0.8"/>
<rect x="57.20" y="277.10" width="3.30" height="2.00" rx="0.9" fill="#adadad"/>
<rect x="97.40" y="277.50" width="2.50" height="17.90" fill="#e6e6e6" stroke="#b0b0b0" stroke-width="0.8"/>
<rect x="97.00" y="277.10" width="3.30" height="2.00" rx="0.9" fill="#adadad"/>
<text class="d" x="25.00" y="297.45" font-size="5.60" text-anchor="end">0</text>
<line x1="27.00" y1="295.40" x2="28.50" y2="295.40" stroke="#999" stroke-width="0.6"/>
<text class="d" x="25.00" y="285.56" font-size="5.60" text-anchor="end">1</text>
<line x1="27.00" y1="283.51" x2="28.50" y2="283.51" stroke="#999" stroke-width="0.6"/>
<text class="d" x="25.00" y="273.67" font-size="5.60" text-anchor="end">2</text>
<line x1="27.00" y1="271.62" x2="28.50" y2="271.62" stroke="#999" stroke-width="0.6"/>
<text class="d" x="25.00" y="261.78" font-size="5.60" text-anchor="end">3</text>
<line x1="27.00" y1="259.73" x2="28.50" y2="259.73" stroke="#999" stroke-width="0.6"/>
<text class="d" x="25.00" y="249.89" font-size="5.60" text-anchor="end">4</text>
<line x1="27.00" y1="247.84" x2="28.50" y2="247.84" stroke="#999" stroke-width="0.6"/>
<text class="d" x="25.00" y="238.00" font-size="5.60" text-anchor="end">5</text>
<line x1="27.00" y1="235.95" x2="28.50" y2="235.95" stroke="#999" stroke-width="0.6"/>
<text class="d" x="25.00" y="226.11" font-size="5.60" text-anchor="end">6</text>
<line x1="27.00" y1="224.06" x2="28.50" y2="224.06" stroke="#999" stroke-width="0.6"/>
<text class="d" x="25.00" y="214.22" font-size="5.60" text-anchor="end">7</text>
<line x1="27.00" y1="212.17" x2="28.50" y2="212.17" stroke="#999" stroke-width="0.6"/>
<text class="d" x="25.00" y="202.33" font-size="5.60" text-anchor="end">8</text>
<line x1="27.00" y1="200.28" x2="28.50" y2="200.28" stroke="#999" stroke-width="0.6"/>
<text class="d" x="25.00" y="190.44" font-size="5.60" text-anchor="end">9</text>
<line x1="27.00" y1="188.39" x2="28.50" y2="188.39" stroke="#999" stroke-width="0.6"/>
<text class="d" x="25.00" y="178.55" font-size="5.60" text-anchor="end">10</text>
<line x1="27.00" y1="176.50" x2="28.50" y2="176.50" stroke="#999" stroke-width="0.6"/>
<text class="d" x="41.20" y="310.55" font-size="5.60" text-anchor="middle">-4</text>
<line x1="41.20" y1="304.20" x2="41.20" y2="302.70" stroke="#999" stroke-width="0.6"/>
<line x1="41.20" y1="167.40" x2="41.20" y2="168.90" stroke="#999" stroke-width="0.6"/>
<text class="d" x="59.90" y="310.55" font-size="5.60" text-anchor="middle">-2</text>
<line x1="59.90" y1="304.20" x2="59.90" y2="302.70" stroke="#999" stroke-width="0.6"/>
<line x1="59.90" y1="167.40" x2="59.90" y2="168.90" stroke="#999" stroke-width="0.6"/>
<text class="d" x="78.60" y="310.55" font-size="5.60" text-anchor="middle">0</text>
<line x1="78.60" y1="304.20" x2="78.60" y2="302.70" stroke="#999" stroke-width="0.6"/>
<line x1="78.60" y1="167.40" x2="78.60" y2="168.90" stroke="#999" stroke-width="0.6"/>
<text class="d" x="97.30" y="310.55" font-size="5.60" text-anchor="middle">2</text>
<line x1="97.30" y1="304.20" x2="97.30" y2="302.70" stroke="#999" stroke-width="0.6"/>
<line x1="97.30" y1="167.40" x2="97.30" y2="168.90" stroke="#999" stroke-width="0.6"/>
<text class="d" x="116.00" y="310.55" font-size="5.60" text-anchor="middle">4</text>
<line x1="116.00" y1="304.20" x2="116.00" y2="302.70" stroke="#999" stroke-width="0.6"/>
<line x1="116.00" y1="167.40" x2="116.00" y2="168.90" stroke="#999" stroke-width="0.6"/>
<text x="79.20" y="319.60" font-size="8" font-weight="bold" fill="#1a1a1a" stroke="#1a1a1a" stroke-width="0.2" text-anchor="middle"><tspan font-style="italic">r</tspan> (mm)</text>
<text transform="translate(7.30 240.45) rotate(-90)" font-size="8" font-weight="bold" fill="#1a1a1a" stroke="#1a1a1a" stroke-width="0.2" text-anchor="middle"><tspan font-style="italic">z</tspan> (mm)</text>
<rect x="137.90" y="182.90" width="4.20" height="125.60" fill="url(#cb)"/>
<text class="d" x="143.80" y="292.34" font-size="5.80">0.5</text>
<text class="d" x="143.80" y="274.09" font-size="5.80">1</text>
<text class="d" x="143.80" y="255.83" font-size="5.80">1.5</text>
<text class="d" x="143.80" y="237.58" font-size="5.80">2</text>
<text class="d" x="143.80" y="219.32" font-size="5.80">2.5</text>
<text class="d" x="143.80" y="201.07" font-size="5.80">3</text>
<path d="M134.40 172.50 L139.60 172.50 L137.00 168.40 Z" fill="#111"/>
<text class="d" x="142.20" y="173.00" font-size="5.55">3.44×10<tspan font-size="3.4" dy="-3.0">19</tspan></text>
<text class="d" x="142.20" y="179.50" font-size="5.4">×10<tspan font-size="3.4" dy="-3.0">19</tspan></text>
<path d="M134.80 313.70 L140.00 313.70 L137.40 317.70 Z" fill="#111"/>
<text class="d" x="142.70" y="317.60" font-size="5.4">2294</text>
<text x="48.60" y="193.30" font-size="8.3" font-weight="bold" fill="#f0f0ff">He<tspan font-size="5" dy="1.6">2</tspan><tspan dy="-1.6"></tspan><tspan font-size="4.6" dy="-2.9">+</tspan></text>
<rect x="202.00" y="166.20" width="103.70" height="138.00" fill="#fff" stroke="#c4c4c4" stroke-width="1"/>
<path d="M206.20 235.10 V295.10 H301.10 V235.10" fill="none" stroke="#a8a8a8" stroke-width="0.9"/>
<path d="M206.20 175.10H301.10V235.10H263.10V295.10H244.00V235.10H206.20Z" fill="#000087"/>
<g clip-path="url(#cp4)"><g filter="url(#jf)"><rect x="201.2" y="170.1" width="104.9" height="130.0" fill="#000"/><path fill="#080808" d="M248.1 174.1 248.3 175.1 248.5 176.1 249.6 177.1 253.5 178.0 253.5 178.0 257.4 177.1 258.5 176.1 258.7 175.1 258.9 174.1Z"/><path fill="#080808" d="M251.8 175.1 251.8 176.1 251.7 177.1 251.7 178.1 251.7 179.1 251.7 180.1 251.6 181.1 251.5 182.1 251.5 183.1 251.4 184.1 251.3 185.1 251.2 186.1 251.0 187.1 251.0 188.1 250.9 189.1 250.9 190.1 250.8 191.1 250.7 192.1 250.7 193.1 250.6 194.1 250.6 195.1 250.6 196.1 250.5 197.1 250.5 198.1 250.5 199.1 250.5 200.1 250.4 201.1 250.3 202.1 250.3 203.1 250.2 204.1 250.1 205.1 250.0 206.1 250.0 207.1 249.9 208.1 249.8 209.1 249.7 210.1 249.6 211.1 249.5 212.1 257.5 212.1 257.4 211.1 257.3 210.1 257.2 209.1 257.1 208.1 257.0 207.1 257.0 206.1 256.9 205.1 256.8 204.1 256.7 203.1 256.7 202.1 256.6 201.1 256.5 200.1 256.5 199.1 256.5 198.1 256.5 197.1 256.4 196.1 256.4 195.1 256.4 194.1 256.3 193.1 256.3 192.1 256.2 191.1 256.1 190.1 256.1 189.1 256.0 188.1 256.0 187.1 255.8 186.1 255.7 185.1 255.6 184.1 255.5 183.1 255.5 182.1 255.4 181.1 255.3 180.1 255.3 179.1 255.3 178.1 255.3 177.1 255.2 176.1 255.2 175.1Z"/><path fill="#080808" d="M253.5 208.4 251.0 209.1 250.4 210.1 250.2 211.1 250.1 212.1 250.0 213.0 249.8 214.0 249.5 215.0 249.3 216.0 249.2 217.0 249.0 218.0 248.6 219.0 248.2 220.0 248.0 221.0 247.8 221.9 247.3 222.9 246.8 223.9 246.5 224.9 246.3 225.9 245.9 226.9 245.3 227.9 244.7 228.9 244.4 229.8 244.3 230.8 244.0 231.8 243.5 232.8 243.1 233.8 242.9 234.8 243.0 235.8 243.4 236.8 244.0 237.8 244.6 238.7 245.0 239.7 245.0 240.7 245.2 241.7 245.4 242.7 245.7 243.7 246.0 244.7 246.4 245.7 246.7 246.7 247.0 247.6 247.2 248.6 247.4 249.6 247.4 250.6 247.4 251.6 247.4 252.6 247.5 253.6 247.6 254.6 247.7 255.6 247.7 256.5 247.8 257.5 248.0 258.5 248.1 259.5 248.2 260.5 248.3 261.5 248.4 262.5 248.4 263.5 248.5 264.5 248.5 265.4 248.5 266.4 248.5 267.4 248.6 268.4 248.6 269.4 248.7 270.4 248.8 271.4 248.9 272.4 249.0 273.4 249.2 274.3 249.4 275.3 249.5 276.3 249.7 277.3 249.9 278.3 250.0 279.3 250.1 280.3 250.1 281.3 250.3 282.2 250.5 283.2 251.0 284.2 253.5 285.0 253.5 285.0 256.0 284.2 256.5 283.2 256.7 282.2 256.9 281.3 256.9 280.3 257.0 279.3 257.1 278.3 257.3 277.3 257.5 276.3 257.6 275.3 257.8 274.3 258.0 273.4 258.1 272.4 258.2 271.4 258.3 270.4 258.4 269.4 258.4 268.4 258.5 267.4 258.5 266.4 258.5 265.4 258.5 264.5 258.6 263.5 258.6 262.5 258.7 261.5 258.8 260.5 258.9 259.5 259.0 258.5 259.2 257.5 259.3 256.5 259.3 255.6 259.4 254.6 259.5 253.6 259.6 252.6 259.6 251.6 259.6 250.6 259.6 249.6 259.8 248.6 260.0 247.6 260.3 246.7 260.6 245.7 261.0 244.7 261.3 243.7 261.6 242.7 261.8 241.7 262.0 240.7 262.0 239.7 262.4 238.7 263.0 237.8 263.6 236.8 264.0 235.8 264.1 234.8 263.9 233.8 263.5 232.8 263.0 231.8 262.7 230.8 262.6 229.8 262.3 228.9 261.7 227.9 261.1 226.9 260.7 225.9 260.5 224.9 260.2 223.9 259.7 222.9 259.2 221.9 259.0 221.0 258.8 220.0 258.4 219.0 258.0 218.0 257.8 217.0 257.7 216.0 257.5 215.0 257.2 214.0 257.0 213.0 256.9 212.1 256.8 211.1 256.6 210.1 256.0 209.1 253.5 208.4Z"/><path fill="#0d0d0d" d="M248.9 174.1 249.0 175.1 249.3 176.1 250.4 177.1 253.5 177.8 253.5 177.8 256.6 177.1 257.7 176.1 258.0 175.1 258.1 174.1Z"/><path fill="#0d0d0d" d="M252.0 175.1 252.0 176.1 252.0 177.1 252.0 178.1 251.9 179.1 251.9 180.1 251.9 181.1 251.8 182.1 251.7 183.1 251.7 184.1 251.6 185.1 251.4 186.1 251.3 187.1 251.2 188.1 251.2 189.1 251.1 190.1 251.0 191.1 250.9 192.1 250.9 193.1 250.8 194.1 250.8 195.1 250.8 196.1 250.7 197.1 250.7 198.1 250.7 199.1 250.7 200.1 250.6 201.1 250.5 202.1 250.5 203.1 250.4 204.1 250.3 205.1 250.3 206.1 250.2 207.1 250.2 208.1 250.1 209.1 250.0 210.1 249.9 211.1 249.8 212.1 257.2 212.1 257.1 211.1 257.0 210.1 256.9 209.1 256.8 208.1 256.8 207.1 256.7 206.1 256.7 205.1 256.6 204.1 256.5 203.1 256.5 202.1 256.4 201.1 256.3 200.1 256.3 199.1 256.3 198.1 256.3 197.1 256.2 196.1 256.2 195.1 256.2 194.1 256.1 193.1 256.1 192.1 256.0 191.1 255.9 190.1 255.8 189.1 255.8 188.1 255.7 187.1 255.6 186.1 255.4 185.1 255.3 184.1 255.3 183.1 255.2 182.1 255.1 181.1 255.1 180.1 255.1 179.1 255.0 178.1 255.0 177.1 255.0 176.1 255.0 175.1Z"/><path fill="#0d0d0d" d="M253.5 208.7 251.5 209.1 250.7 210.1 250.4 211.1 250.3 212.1 250.2 213.0 250.0 214.0 249.8 215.0 249.5 216.0 249.4 217.0 249.3 218.0 248.9 219.0 248.6 220.0 248.3 221.0 248.2 221.9 247.7 222.9 247.2 223.9 247.0 224.9 246.8 225.9 246.4 226.9 245.9 227.9 245.4 228.9 245.1 229.8 245.0 230.8 244.7 231.8 244.3 232.8 243.9 233.8 243.7 234.8 243.8 235.8 244.3 236.8 244.9 237.8 245.5 238.7 245.8 239.7 245.9 240.7 246.0 241.7 246.2 242.7 246.5 243.7 246.9 244.7 247.2 245.7 247.5 246.7 247.8 247.6 248.0 248.6 248.1 249.6 248.1 250.6 248.2 251.6 248.2 252.6 248.3 253.6 248.4 254.6 248.5 255.6 248.6 256.5 248.7 257.5 248.9 258.5 249.0 259.5 249.2 260.5 249.4 261.5 249.5 262.5 249.6 263.5 249.7 264.5 249.8 265.4 249.8 266.4 249.9 267.4 250.0 268.4 250.1 269.4 250.4 270.4 250.8 271.4 251.7 272.4 253.5 272.6 253.5 272.6 255.3 272.4 256.2 271.4 256.6 270.4 256.9 269.4 257.0 268.4 257.1 267.4 257.2 266.4 257.2 265.4 257.3 264.5 257.4 263.5 257.5 262.5 257.6 261.5 257.8 260.5 258.0 259.5 258.1 258.5 258.3 257.5 258.4 256.5 258.5 255.6 258.6 254.6 258.7 253.6 258.8 252.6 258.8 251.6 258.9 250.6 258.9 249.6 259.0 248.6 259.2 247.6 259.5 246.7 259.8 245.7 260.1 244.7 260.5 243.7 260.8 242.7 261.0 241.7 261.1 240.7 261.2 239.7 261.5 238.7 262.1 237.8 262.7 236.8 263.2 235.8 263.3 234.8 263.1 233.8 262.7 232.8 262.3 231.8 262.0 230.8 261.9 229.8 261.6 228.9 261.1 227.9 260.6 226.9 260.2 225.9 260.0 224.9 259.8 223.9 259.3 222.9 258.8 221.9 258.7 221.0 258.4 220.0 258.1 219.0 257.7 218.0 257.6 217.0 257.5 216.0 257.2 215.0 257.0 214.0 256.8 213.0 256.7 212.1 256.6 211.1 256.3 210.1 255.5 209.1 253.5 208.7Z"/><path fill="#121212" d="M249.4 174.1 249.6 175.1 249.8 176.1 250.9 177.1 253.5 177.7 253.5 177.7 256.1 177.1 257.2 176.1 257.4 175.1 257.6 174.1Z"/><path fill="#121212" d="M252.2 175.1 252.2 176.1 252.2 177.1 252.1 178.1 252.1 179.1 252.1 180.1 252.0 181.1 252.0 182.1 251.9 183.1 251.8 184.1 251.7 185.1 251.6 186.1 251.4 187.1 251.3 188.1 251.3 189.1 251.2 190.1 251.2 191.1 251.1 192.1 251.1 193.1 251.0 194.1 250.9 195.1 250.9 196.1 250.9 197.1 250.9 198.1 250.8 199.1 250.8 200.1 250.8 201.1 250.7 202.1 250.7 203.1 250.6 204.1 250.5 205.1 250.5 206.1 250.4 207.1 250.4 208.1 250.3 209.1 250.2 210.1 250.1 211.1 250.1 212.1 256.9 212.1 256.9 211.1 256.8 210.1 256.7 209.1 256.6 208.1 256.6 207.1 256.5 206.1 256.5 205.1 256.4 204.1 256.3 203.1 256.3 202.1 256.2 201.1 256.2 200.1 256.2 199.1 256.1 198.1 256.1 197.1 256.1 196.1 256.1 195.1 256.0 194.1 255.9 193.1 255.9 192.1 255.8 191.1 255.8 190.1 255.7 189.1 255.7 188.1 255.6 187.1 255.4 186.1 255.3 185.1 255.2 184.1 255.1 183.1 255.0 182.1 255.0 181.1 254.9 180.1 254.9 179.1 254.9 178.1 254.8 177.1 254.8 176.1 254.8 175.1Z"/><path fill="#121212" d="M253.5 209.1 252.6 209.1 250.9 210.1 250.6 211.1 250.4 212.1 250.4 213.0 250.2 214.0 249.9 215.0 249.7 216.0 249.6 217.0 249.5 218.0 249.2 219.0 248.8 220.0 248.6 221.0 248.5 221.9 248.0 222.9 247.6 223.9 247.3 224.9 247.2 225.9 246.8 226.9 246.3 227.9 245.8 228.9 245.6 229.8 245.5 230.8 245.2 231.8 244.8 232.8 244.5 233.8 244.4 234.8 244.5 235.8 244.9 236.8 245.5 237.8 246.1 238.7 246.5 239.7 246.5 240.7 246.7 241.7 246.9 242.7 247.2 243.7 247.5 244.7 247.8 245.7 248.2 246.7 248.4 247.6 248.6 248.6 248.8 249.6 248.8 250.6 248.8 251.6 248.9 252.6 249.0 253.6 249.1 254.6 249.2 255.6 249.4 256.5 249.6 257.5 249.8 258.5 250.1 259.5 250.5 260.5 251.1 261.5 253.5 262.3 253.5 262.3 255.9 261.5 256.5 260.5 256.9 259.5 257.2 258.5 257.4 257.5 257.6 256.5 257.8 255.6 257.9 254.6 258.0 253.6 258.1 252.6 258.2 251.6 258.2 250.6 258.2 249.6 258.4 248.6 258.6 247.6 258.8 246.7 259.2 245.7 259.5 244.7 259.8 243.7 260.1 242.7 260.3 241.7 260.5 240.7 260.5 239.7 260.9 238.7 261.5 237.8 262.1 236.8 262.5 235.8 262.6 234.8 262.5 233.8 262.2 232.8 261.8 231.8 261.5 230.8 261.4 229.8 261.2 228.9 260.7 227.9 260.2 226.9 259.8 225.9 259.7 224.9 259.4 223.9 259.0 222.9 258.5 221.9 258.4 221.0 258.2 220.0 257.8 219.0 257.5 218.0 257.4 217.0 257.3 216.0 257.1 215.0 256.8 214.0 256.6 213.0 256.6 212.1 256.4 211.1 256.1 210.1 254.4 209.1 253.5 209.1Z"/><path fill="#171717" d="M249.8 174.1 250.0 175.1 250.2 176.1 251.4 177.1 253.5 177.6 253.5 177.6 255.6 177.1 256.8 176.1 257.0 175.1 257.2 174.1Z"/><path fill="#171717" d="M252.4 175.1 252.4 176.1 252.4 177.1 252.3 178.1 252.3 179.1 252.3 180.1 252.2 181.1 252.1 182.1 252.0 183.1 252.0 184.1 251.9 185.1 251.7 186.1 251.5 187.1 251.5 188.1 251.4 189.1 251.4 190.1 251.3 191.1 251.2 192.1 251.2 193.1 251.1 194.1 251.0 195.1 251.0 196.1 251.0 197.1 251.0 198.1 250.9 199.1 250.9 200.1 250.9 201.1 250.8 202.1 250.8 203.1 250.7 204.1 250.7 205.1 250.6 206.1 250.6 207.1 250.5 208.1 250.5 209.1 250.4 210.1 250.3 211.1 250.3 212.1 256.7 212.1 256.7 211.1 256.6 210.1 256.5 209.1 256.5 208.1 256.4 207.1 256.4 206.1 256.3 205.1 256.3 204.1 256.2 203.1 256.2 202.1 256.1 201.1 256.1 200.1 256.1 199.1 256.0 198.1 256.0 197.1 256.0 196.1 256.0 195.1 255.9 194.1 255.8 193.1 255.8 192.1 255.7 191.1 255.6 190.1 255.6 189.1 255.5 188.1 255.5 187.1 255.3 186.1 255.1 185.1 255.0 184.1 255.0 183.1 254.9 182.1 254.8 181.1 254.7 180.1 254.7 179.1 254.7 178.1 254.6 177.1 254.6 176.1 254.6 175.1Z"/><path fill="#171717" d="M253.5 209.2 251.1 210.1 250.7 211.1 250.6 212.1 250.5 213.0 250.3 214.0 250.1 215.0 249.9 216.0 249.8 217.0 249.7 218.0 249.4 219.0 249.0 220.0 248.8 221.0 248.7 221.9 248.3 222.9 247.9 223.9 247.6 224.9 247.5 225.9 247.1 226.9 246.6 227.9 246.2 228.9 246.0 229.8 245.9 230.8 245.6 231.8 245.3 232.8 245.1 233.8 244.9 234.8 245.0 235.8 245.5 236.8 246.1 237.8 246.7 238.7 247.1 239.7 247.2 240.7 247.3 241.7 247.5 242.7 247.8 243.7 248.1 244.7 248.5 245.7 248.8 246.7 249.1 247.6 249.3 248.6 249.5 249.6 249.5 250.6 249.5 251.6 249.6 252.6 249.8 253.6 249.9 254.6 250.2 255.6 250.6 256.5 251.3 257.5 253.5 258.1 253.5 258.1 255.7 257.5 256.4 256.5 256.8 255.6 257.1 254.6 257.2 253.6 257.4 252.6 257.5 251.6 257.5 250.6 257.5 249.6 257.7 248.6 257.9 247.6 258.2 246.7 258.5 245.7 258.9 244.7 259.2 243.7 259.5 242.7 259.7 241.7 259.8 240.7 259.9 239.7 260.3 238.7 260.9 237.8 261.5 236.8 262.0 235.8 262.1 234.8 261.9 233.8 261.7 232.8 261.4 231.8 261.1 230.8 261.0 229.8 260.8 228.9 260.4 227.9 259.9 226.9 259.5 225.9 259.4 224.9 259.1 223.9 258.7 222.9 258.3 221.9 258.2 221.0 258.0 220.0 257.6 219.0 257.3 218.0 257.2 217.0 257.1 216.0 256.9 215.0 256.7 214.0 256.5 213.0 256.4 212.1 256.3 211.1 255.9 210.1 253.5 209.2Z"/><path fill="#1d1d1d" d="M250.2 174.1 250.3 175.1 250.5 176.1 251.8 177.1 253.5 177.4 253.5 177.4 255.2 177.1 256.5 176.1 256.7 175.1 256.8 174.1Z"/><path fill="#1d1d1d" d="M252.6 175.1 252.6 176.1 252.5 177.1 252.5 178.1 252.4 179.1 252.4 180.1 252.4 181.1 252.3 182.1 252.2 183.1 252.1 184.1 252.0 185.1 251.8 186.1 251.6 187.1 251.6 188.1 251.5 189.1 251.5 190.1 251.4 191.1 251.3 192.1 251.3 193.1 251.2 194.1 251.1 195.1 251.1 196.1 251.1 197.1 251.1 198.1 251.0 199.1 251.0 200.1 251.0 201.1 250.9 202.1 250.9 203.1 250.8 204.1 250.8 205.1 250.7 206.1 250.7 207.1 250.7 208.1 250.6 209.1 250.5 210.1 250.4 211.1 250.4 212.1 256.6 212.1 256.6 211.1 256.5 210.1 256.4 209.1 256.3 208.1 256.3 207.1 256.3 206.1 256.2 205.1 256.2 204.1 256.1 203.1 256.1 202.1 256.0 201.1 256.0 200.1 256.0 199.1 255.9 198.1 255.9 197.1 255.9 196.1 255.9 195.1 255.8 194.1 255.7 193.1 255.7 192.1 255.6 191.1 255.5 190.1 255.5 189.1 255.4 188.1 255.4 187.1 255.2 186.1 255.0 185.1 254.9 184.1 254.8 183.1 254.7 182.1 254.6 181.1 254.6 180.1 254.6 179.1 254.5 178.1 254.5 177.1 254.4 176.1 254.4 175.1Z"/><path fill="#1d1d1d" d="M253.5 209.4 251.2 210.1 250.8 211.1 250.7 212.1 250.6 213.0 250.4 214.0 250.2 215.0 250.0 216.0 250.0 217.0 249.8 218.0 249.5 219.0 249.2 220.0 249.0 221.0 248.9 221.9 248.5 222.9 248.1 223.9 247.9 224.9 247.8 225.9 247.4 226.9 246.9 227.9 246.5 228.9 246.3 229.8 246.3 230.8 246.0 231.8 245.8 232.8 245.5 233.8 245.4 234.8 245.5 235.8 246.0 236.8 246.7 237.8 247.3 238.7 247.8 239.7 247.8 240.7 248.0 241.7 248.2 242.7 248.5 243.7 248.9 244.7 249.3 245.7 249.6 246.7 250.0 247.6 250.3 248.6 250.5 249.6 250.5 250.6 250.6 251.6 250.9 252.6 251.4 253.6 253.5 254.2 253.5 254.2 255.6 253.6 256.1 252.6 256.4 251.6 256.5 250.6 256.5 249.6 256.7 248.6 257.0 247.6 257.4 246.7 257.7 245.7 258.1 244.7 258.5 243.7 258.8 242.7 259.0 241.7 259.2 240.7 259.2 239.7 259.7 238.7 260.3 237.8 261.0 236.8 261.5 235.8 261.6 234.8 261.5 233.8 261.2 232.8 261.0 231.8 260.7 230.8 260.7 229.8 260.5 228.9 260.1 227.9 259.6 226.9 259.2 225.9 259.1 224.9 258.9 223.9 258.5 222.9 258.1 221.9 258.0 221.0 257.8 220.0 257.5 219.0 257.2 218.0 257.0 217.0 257.0 216.0 256.8 215.0 256.6 214.0 256.4 213.0 256.3 212.1 256.2 211.1 255.8 210.1 253.5 209.4Z"/><path fill="#252525" d="M250.7 174.1 250.8 175.1 251.0 176.1 252.6 177.1 253.5 177.2 253.5 177.2 254.4 177.1 256.0 176.1 256.2 175.1 256.3 174.1Z"/><path fill="#252525" d="M253.5 175.1 253.2 176.1 253.0 177.1 252.8 178.1 252.8 179.1 252.7 180.1 252.7 181.1 252.5 182.1 252.4 183.1 252.3 184.1 252.2 185.1 252.0 186.1 251.8 187.1 251.7 188.1 251.7 189.1 251.6 190.1 251.5 191.1 251.4 192.1 251.4 193.1 251.3 194.1 251.3 195.1 251.2 196.1 251.2 197.1 251.2 198.1 251.2 199.1 251.2 200.1 251.1 201.1 251.1 202.1 251.0 203.1 251.0 204.1 250.9 205.1 250.9 206.1 250.9 207.1 250.8 208.1 250.8 209.1 250.7 210.1 250.6 211.1 250.6 212.1 256.4 212.1 256.4 211.1 256.3 210.1 256.2 209.1 256.2 208.1 256.1 207.1 256.1 206.1 256.1 205.1 256.0 204.1 256.0 203.1 255.9 202.1 255.9 201.1 255.8 200.1 255.8 199.1 255.8 198.1 255.8 197.1 255.8 196.1 255.7 195.1 255.7 194.1 255.6 193.1 255.6 192.1 255.5 191.1 255.4 190.1 255.3 189.1 255.3 188.1 255.2 187.1 255.0 186.1 254.8 185.1 254.7 184.1 254.6 183.1 254.5 182.1 254.3 181.1 254.3 180.1 254.2 179.1 254.2 178.1 254.0 177.1 253.8 176.1 253.5 175.1Z"/><path fill="#252525" d="M253.5 209.6 251.5 210.1 251.0 211.1 250.8 212.1 250.7 213.0 250.6 214.0 250.4 215.0 250.2 216.0 250.2 217.0 250.0 218.0 249.8 219.0 249.5 220.0 249.3 221.0 249.2 221.9 248.8 222.9 248.4 223.9 248.2 224.9 248.1 225.9 247.8 226.9 247.4 227.9 247.0 228.9 246.8 229.8 246.8 230.8 246.6 231.8 246.4 232.8 246.3 233.8 246.2 234.8 246.3 235.8 246.8 236.8 247.6 237.8 248.4 238.7 249.0 239.7 249.1 240.7 249.3 241.7 249.7 242.7 250.2 243.7 251.1 244.7 253.5 245.1 253.5 245.1 255.9 244.7 256.8 243.7 257.3 242.7 257.7 241.7 257.9 240.7 258.0 239.7 258.6 238.7 259.4 237.8 260.2 236.8 260.7 235.8 260.8 234.8 260.7 233.8 260.6 232.8 260.4 231.8 260.2 230.8 260.2 229.8 260.0 228.9 259.6 227.9 259.2 226.9 258.9 225.9 258.8 224.9 258.6 223.9 258.2 222.9 257.8 221.9 257.7 221.0 257.5 220.0 257.2 219.0 257.0 218.0 256.8 217.0 256.8 216.0 256.6 215.0 256.4 214.0 256.3 213.0 256.2 212.1 256.0 211.1 255.5 210.1 253.5 209.6Z"/><path fill="#2e2e2e" d="M251.1 174.1 251.3 175.1 251.4 176.1 253.5 177.0 253.5 177.0 255.6 176.1 255.7 175.1 255.9 174.1Z"/><path fill="#2e2e2e" d="M253.5 181.2 252.8 182.1 252.6 183.1 252.5 184.1 252.4 185.1 252.1 186.1 251.9 187.1 251.8 188.1 251.8 189.1 251.7 190.1 251.6 191.1 251.5 192.1 251.5 193.1 251.4 194.1 251.4 195.1 251.3 196.1 251.3 197.1 251.3 198.1 251.3 199.1 251.3 200.1 251.2 201.1 251.2 202.1 251.2 203.1 251.1 204.1 251.1 205.1 251.0 206.1 251.0 207.1 251.0 208.1 250.9 209.1 250.9 210.1 250.8 211.1 250.8 212.1 256.2 212.1 256.2 211.1 256.1 210.1 256.1 209.1 256.0 208.1 256.0 207.1 256.0 206.1 255.9 205.1 255.9 204.1 255.8 203.1 255.8 202.1 255.8 201.1 255.7 200.1 255.7 199.1 255.7 198.1 255.7 197.1 255.7 196.1 255.6 195.1 255.6 194.1 255.5 193.1 255.5 192.1 255.4 191.1 255.3 190.1 255.2 189.1 255.2 188.1 255.1 187.1 254.9 186.1 254.6 185.1 254.5 184.1 254.4 183.1 254.2 182.1 253.5 181.2Z"/><path fill="#2e2e2e" d="M253.5 209.8 251.8 210.1 251.1 211.1 250.9 212.1 250.9 213.0 250.7 214.0 250.6 215.0 250.4 216.0 250.3 217.0 250.2 218.0 250.0 219.0 249.7 220.0 249.6 221.0 249.4 221.9 249.1 222.9 248.8 223.9 248.6 224.9 248.5 225.9 248.2 226.9 247.8 227.9 247.5 228.9 247.3 229.8 247.3 230.8 247.2 231.8 247.1 232.8 247.0 233.8 247.1 234.8 247.2 235.8 247.8 236.8 248.9 237.8 250.9 238.7 253.5 239.0 253.5 239.0 256.1 238.7 258.1 237.8 259.2 236.8 259.8 235.8 259.9 234.8 260.0 233.8 259.9 232.8 259.8 231.8 259.7 230.8 259.7 229.8 259.5 228.9 259.2 227.9 258.8 226.9 258.5 225.9 258.4 224.9 258.2 223.9 257.9 222.9 257.6 221.9 257.4 221.0 257.3 220.0 257.0 219.0 256.8 218.0 256.7 217.0 256.6 216.0 256.4 215.0 256.3 214.0 256.1 213.0 256.1 212.1 255.9 211.1 255.2 210.1 253.5 209.8Z"/><path fill="#383838" d="M251.8 174.1 251.9 175.1 252.0 176.1 253.5 176.6 253.5 176.6 255.0 176.1 255.1 175.1 255.2 174.1Z"/><path fill="#383838" d="M253.5 184.1 252.7 185.1 252.3 186.1 252.1 187.1 252.0 188.1 252.0 189.1 251.9 190.1 251.8 191.1 251.7 192.1 251.6 193.1 251.6 194.1 251.5 195.1 251.5 196.1 251.5 197.1 251.4 198.1 251.4 199.1 251.4 200.1 251.3 201.1 251.3 202.1 251.3 203.1 251.3 204.1 251.2 205.1 251.2 206.1 251.2 207.1 251.2 208.1 251.1 209.1 251.1 210.1 251.1 211.1 251.0 212.1 256.0 212.1 255.9 211.1 255.9 210.1 255.9 209.1 255.8 208.1 255.8 207.1 255.8 206.1 255.8 205.1 255.7 204.1 255.7 203.1 255.7 202.1 255.7 201.1 255.6 200.1 255.6 199.1 255.6 198.1 255.5 197.1 255.5 196.1 255.5 195.1 255.4 194.1 255.4 193.1 255.3 192.1 255.2 191.1 255.1 190.1 255.0 189.1 255.0 188.1 254.9 187.1 254.7 186.1 254.3 185.1 253.5 184.1Z"/><path fill="#383838" d="M253.5 210.1 251.3 211.1 251.1 212.1 251.1 213.0 250.9 214.0 250.8 215.0 250.6 216.0 250.6 217.0 250.5 218.0 250.3 219.0 250.0 220.0 249.9 221.0 249.8 221.9 249.5 222.9 249.2 223.9 249.1 224.9 249.0 225.9 248.7 226.9 248.4 227.9 248.2 228.9 248.1 229.8 248.1 230.8 248.0 231.8 248.1 232.8 248.4 233.8 248.7 234.8 249.0 235.8 251.0 236.8 253.5 236.9 253.5 236.9 256.0 236.8 258.0 235.8 258.3 234.8 258.6 233.8 258.9 232.8 259.0 231.8 258.9 230.8 258.9 229.8 258.8 228.9 258.6 227.9 258.3 226.9 258.0 225.9 257.9 224.9 257.8 223.9 257.5 222.9 257.2 221.9 257.1 221.0 257.0 220.0 256.7 219.0 256.5 218.0 256.4 217.0 256.4 216.0 256.2 215.0 256.1 214.0 255.9 213.0 255.9 212.1 255.7 211.1 253.5 210.1Z"/><path fill="#424242" d="M252.5 174.1 252.7 175.1 252.9 176.1 253.5 176.2 253.5 176.2 254.1 176.1 254.3 175.1 254.5 174.1Z"/><path fill="#424242" d="M253.5 185.3 252.6 186.1 252.3 187.1 252.2 188.1 252.1 189.1 252.0 190.1 251.9 191.1 251.8 192.1 251.8 193.1 251.7 194.1 251.6 195.1 251.6 196.1 251.6 197.1 251.5 198.1 251.5 199.1 251.5 200.1 251.5 201.1 251.4 202.1 251.4 203.1 251.4 204.1 251.4 205.1 251.4 206.1 251.4 207.1 251.3 208.1 251.3 209.1 251.3 210.1 251.3 211.1 251.3 212.1 255.7 212.1 255.7 211.1 255.7 210.1 255.7 209.1 255.7 208.1 255.6 207.1 255.6 206.1 255.6 205.1 255.6 204.1 255.6 203.1 255.6 202.1 255.5 201.1 255.5 200.1 255.5 199.1 255.5 198.1 255.4 197.1 255.4 196.1 255.4 195.1 255.3 194.1 255.2 193.1 255.2 192.1 255.1 191.1 255.0 190.1 254.9 189.1 254.8 188.1 254.7 187.1 254.4 186.1 253.5 185.3Z"/><path fill="#424242" d="M253.5 210.4 251.5 211.1 251.3 212.1 251.2 213.0 251.1 214.0 251.0 215.0 250.9 216.0 250.8 217.0 250.8 218.0 250.6 219.0 250.4 220.0 250.3 221.0 250.2 221.9 250.0 222.9 249.7 223.9 249.6 224.9 249.6 225.9 249.4 226.9 249.2 227.9 249.1 228.9 249.0 229.8 249.1 230.8 249.3 231.8 250.3 232.8 253.5 233.2 253.5 233.2 256.7 232.8 257.7 231.8 257.9 230.8 258.0 229.8 257.9 228.9 257.8 227.9 257.6 226.9 257.4 225.9 257.4 224.9 257.3 223.9 257.0 222.9 256.8 221.9 256.7 221.0 256.6 220.0 256.4 219.0 256.2 218.0 256.2 217.0 256.1 216.0 256.0 215.0 255.9 214.0 255.8 213.0 255.7 212.1 255.5 211.1 253.5 210.4Z"/><path fill="#4c4c4c" d="M253.5 186.0 253.1 186.1 252.5 187.1 252.3 188.1 252.3 189.1 252.2 190.1 252.0 191.1 251.9 192.1 251.9 193.1 251.8 194.1 251.7 195.1 251.7 196.1 251.7 197.1 251.7 198.1 251.6 199.1 251.6 200.1 251.6 201.1 251.6 202.1 251.6 203.1 251.5 204.1 251.5 205.1 251.5 206.1 251.5 207.1 251.5 208.1 251.5 209.1 251.5 210.1 251.5 211.1 251.5 212.1 255.5 212.1 255.5 211.1 255.5 210.1 255.5 209.1 255.5 208.1 255.5 207.1 255.5 206.1 255.5 205.1 255.5 204.1 255.4 203.1 255.4 202.1 255.4 201.1 255.4 200.1 255.4 199.1 255.3 198.1 255.3 197.1 255.3 196.1 255.3 195.1 255.2 194.1 255.1 193.1 255.1 192.1 255.0 191.1 254.8 190.1 254.7 189.1 254.7 188.1 254.5 187.1 253.9 186.1 253.5 186.0Z"/><path fill="#4c4c4c" d="M253.5 210.7 251.8 211.1 251.5 212.1 251.4 213.0 251.3 214.0 251.2 215.0 251.2 216.0 251.1 217.0 251.1 218.0 250.9 219.0 250.8 220.0 250.8 221.0 250.7 221.9 250.6 222.9 250.5 223.9 250.4 224.9 250.4 225.9 250.4 226.9 250.6 227.9 251.0 228.9 252.3 229.8 253.5 229.9 253.5 229.9 254.7 229.8 256.0 228.9 256.4 227.9 256.6 226.9 256.6 225.9 256.6 224.9 256.5 223.9 256.4 222.9 256.3 221.9 256.2 221.0 256.2 220.0 256.1 219.0 255.9 218.0 255.9 217.0 255.8 216.0 255.8 215.0 255.7 214.0 255.6 213.0 255.5 212.1 255.2 211.1 253.5 210.7Z"/><path fill="#575757" d="M253.5 186.7 252.8 187.1 252.6 188.1 252.5 189.1 252.3 190.1 252.2 191.1 252.1 192.1 252.0 193.1 251.9 194.1 251.8 195.1 251.8 196.1 251.8 197.1 251.8 198.1 251.7 199.1 251.7 200.1 251.7 201.1 251.7 202.1 251.7 203.1 251.7 204.1 251.7 205.1 251.7 206.1 251.7 207.1 251.7 208.1 251.7 209.1 251.7 210.1 251.8 211.1 251.8 212.1 255.2 212.1 255.2 211.1 255.3 210.1 255.3 209.1 255.3 208.1 255.3 207.1 255.3 206.1 255.3 205.1 255.3 204.1 255.3 203.1 255.3 202.1 255.3 201.1 255.3 200.1 255.3 199.1 255.2 198.1 255.2 197.1 255.2 196.1 255.2 195.1 255.1 194.1 255.0 193.1 254.9 192.1 254.8 191.1 254.7 190.1 254.5 189.1 254.4 188.1 254.2 187.1 253.5 186.7Z"/><path fill="#575757" d="M253.5 211.0 252.3 211.1 251.7 212.1 251.7 213.0 251.6 214.0 251.6 215.0 251.5 216.0 251.5 217.0 251.5 218.0 251.5 219.0 251.6 220.0 251.7 221.0 251.8 221.9 252.3 222.9 253.5 223.1 253.5 223.1 254.7 222.9 255.2 221.9 255.3 221.0 255.4 220.0 255.5 219.0 255.5 218.0 255.5 217.0 255.5 216.0 255.4 215.0 255.4 214.0 255.3 213.0 255.3 212.1 254.7 211.1 253.5 211.0Z"/><path fill="#616161" d="M253.5 187.7 253.0 188.1 252.8 189.1 252.5 190.1 252.3 191.1 252.2 192.1 252.1 193.1 252.0 194.1 251.9 195.1 251.9 196.1 251.9 197.1 251.9 198.1 251.8 199.1 251.8 200.1 251.8 201.1 251.8 202.1 251.8 203.1 251.8 204.1 251.8 205.1 251.9 206.1 251.9 207.1 251.9 208.1 251.9 209.1 252.0 210.1 252.1 211.1 252.2 212.1 254.8 212.1 254.9 211.1 255.0 210.1 255.1 209.1 255.1 208.1 255.1 207.1 255.1 206.1 255.2 205.1 255.2 204.1 255.2 203.1 255.2 202.1 255.2 201.1 255.2 200.1 255.2 199.1 255.1 198.1 255.1 197.1 255.1 196.1 255.1 195.1 255.0 194.1 254.9 193.1 254.8 192.1 254.7 191.1 254.5 190.1 254.2 189.1 254.0 188.1 253.5 187.7Z"/><path fill="#616161" d="M253.5 211.5 252.0 212.1 252.0 213.0 252.0 214.0 252.1 215.0 252.4 216.0 253.1 217.0 253.5 217.0 253.5 217.0 253.9 217.0 254.6 216.0 254.9 215.0 255.0 214.0 255.0 213.0 255.0 212.1 253.5 211.5Z"/><path fill="#6b6b6b" d="M253.5 189.5 252.8 190.1 252.5 191.1 252.3 192.1 252.3 193.1 252.2 194.1 252.1 195.1 252.0 196.1 252.0 197.1 252.0 198.1 252.0 199.1 252.0 200.1 252.0 201.1 252.0 202.1 252.0 203.1 252.0 204.1 252.0 205.1 252.1 206.1 252.1 207.1 252.1 208.1 252.2 209.1 252.4 210.1 252.7 211.1 253.5 212.1 253.5 212.1 254.3 211.1 254.6 210.1 254.8 209.1 254.9 208.1 254.9 207.1 254.9 206.1 255.0 205.1 255.0 204.1 255.0 203.1 255.0 202.1 255.0 201.1 255.0 200.1 255.0 199.1 255.0 198.1 255.0 197.1 255.0 196.1 254.9 195.1 254.8 194.1 254.7 193.1 254.7 192.1 254.5 191.1 254.2 190.1 253.5 189.5Z"/><path fill="#757575" d="M253.5 190.5 252.8 191.1 252.5 192.1 252.5 193.1 252.3 194.1 252.2 195.1 252.2 196.1 252.1 197.1 252.1 198.1 252.1 199.1 252.1 200.1 252.1 201.1 252.1 202.1 252.1 203.1 252.2 204.1 252.2 205.1 252.3 206.1 252.4 207.1 252.4 208.1 252.6 209.1 253.5 209.8 253.5 209.8 254.4 209.1 254.6 208.1 254.6 207.1 254.7 206.1 254.8 205.1 254.8 204.1 254.9 203.1 254.9 202.1 254.9 201.1 254.9 200.1 254.9 199.1 254.9 198.1 254.9 197.1 254.8 196.1 254.8 195.1 254.7 194.1 254.5 193.1 254.5 192.1 254.2 191.1 253.5 190.5Z"/><path fill="#808080" d="M253.5 191.4 252.8 192.1 252.7 193.1 252.5 194.1 252.3 195.1 252.3 196.1 252.3 197.1 252.2 198.1 252.2 199.1 252.2 200.1 252.2 201.1 252.3 202.1 252.3 203.1 252.4 204.1 252.5 205.1 252.7 206.1 252.8 207.1 253.2 208.1 253.5 208.1 253.5 208.1 253.8 208.1 254.2 207.1 254.3 206.1 254.5 205.1 254.6 204.1 254.7 203.1 254.7 202.1 254.8 201.1 254.8 200.1 254.8 199.1 254.8 198.1 254.7 197.1 254.7 196.1 254.7 195.1 254.5 194.1 254.3 193.1 254.2 192.1 253.5 191.4Z"/><path fill="#8a8a8a" d="M253.5 193.1 252.7 194.1 252.5 195.1 252.5 196.1 252.4 197.1 252.4 198.1 252.4 199.1 252.3 200.1 252.4 201.1 252.5 202.1 252.5 203.1 252.7 204.1 253.2 205.1 253.5 205.2 253.5 205.2 253.8 205.1 254.3 204.1 254.5 203.1 254.5 202.1 254.6 201.1 254.7 200.1 254.6 199.1 254.6 198.1 254.6 197.1 254.5 196.1 254.5 195.1 254.3 194.1 253.5 193.1Z"/><path fill="#949494" d="M253.5 194.1 252.7 195.1 252.7 196.1 252.6 197.1 252.6 198.1 252.5 199.1 252.5 200.1 252.6 201.1 252.8 202.1 252.9 203.1 253.5 203.6 253.5 203.6 254.1 203.1 254.2 202.1 254.4 201.1 254.5 200.1 254.5 199.1 254.4 198.1 254.4 197.1 254.3 196.1 254.3 195.1 253.5 194.1Z"/><path fill="#9e9e9e" d="M253.5 195.1 253.2 196.1 253.0 197.1 252.9 198.1 252.8 199.1 252.8 200.1 253.1 201.1 253.5 201.3 253.5 201.3 253.9 201.1 254.2 200.1 254.2 199.1 254.1 198.1 254.0 197.1 253.8 196.1 253.5 195.1Z"/></g></g>
<rect x="232.60" y="277.20" width="2.50" height="17.90" fill="#e6e6e6" stroke="#b0b0b0" stroke-width="0.8"/>
<rect x="232.20" y="276.80" width="3.30" height="2.00" rx="0.9" fill="#adadad"/>
<rect x="272.40" y="277.20" width="2.50" height="17.90" fill="#e6e6e6" stroke="#b0b0b0" stroke-width="0.8"/>
<rect x="272.00" y="276.80" width="3.30" height="2.00" rx="0.9" fill="#adadad"/>
<text class="d" x="200.00" y="297.15" font-size="5.60" text-anchor="end">0</text>
<line x1="202.00" y1="295.10" x2="203.50" y2="295.10" stroke="#999" stroke-width="0.6"/>
<text class="d" x="200.00" y="285.15" font-size="5.60" text-anchor="end">1</text>
<line x1="202.00" y1="283.10" x2="203.50" y2="283.10" stroke="#999" stroke-width="0.6"/>
<text class="d" x="200.00" y="273.15" font-size="5.60" text-anchor="end">2</text>
<line x1="202.00" y1="271.10" x2="203.50" y2="271.10" stroke="#999" stroke-width="0.6"/>
<text class="d" x="200.00" y="261.15" font-size="5.60" text-anchor="end">3</text>
<line x1="202.00" y1="259.10" x2="203.50" y2="259.10" stroke="#999" stroke-width="0.6"/>
<text class="d" x="200.00" y="249.15" font-size="5.60" text-anchor="end">4</text>
<line x1="202.00" y1="247.10" x2="203.50" y2="247.10" stroke="#999" stroke-width="0.6"/>
<text class="d" x="200.00" y="237.15" font-size="5.60" text-anchor="end">5</text>
<line x1="202.00" y1="235.10" x2="203.50" y2="235.10" stroke="#999" stroke-width="0.6"/>
<text class="d" x="200.00" y="225.15" font-size="5.60" text-anchor="end">6</text>
<line x1="202.00" y1="223.10" x2="203.50" y2="223.10" stroke="#999" stroke-width="0.6"/>
<text class="d" x="200.00" y="213.15" font-size="5.60" text-anchor="end">7</text>
<line x1="202.00" y1="211.10" x2="203.50" y2="211.10" stroke="#999" stroke-width="0.6"/>
<text class="d" x="200.00" y="201.15" font-size="5.60" text-anchor="end">8</text>
<line x1="202.00" y1="199.10" x2="203.50" y2="199.10" stroke="#999" stroke-width="0.6"/>
<text class="d" x="200.00" y="189.15" font-size="5.60" text-anchor="end">9</text>
<line x1="202.00" y1="187.10" x2="203.50" y2="187.10" stroke="#999" stroke-width="0.6"/>
<text class="d" x="200.00" y="177.15" font-size="5.60" text-anchor="end">10</text>
<line x1="202.00" y1="175.10" x2="203.50" y2="175.10" stroke="#999" stroke-width="0.6"/>
<text class="d" x="216.20" y="310.55" font-size="5.60" text-anchor="middle">-4</text>
<line x1="216.20" y1="304.20" x2="216.20" y2="302.70" stroke="#999" stroke-width="0.6"/>
<line x1="216.20" y1="166.20" x2="216.20" y2="167.70" stroke="#999" stroke-width="0.6"/>
<text class="d" x="234.90" y="310.55" font-size="5.60" text-anchor="middle">-2</text>
<line x1="234.90" y1="304.20" x2="234.90" y2="302.70" stroke="#999" stroke-width="0.6"/>
<line x1="234.90" y1="166.20" x2="234.90" y2="167.70" stroke="#999" stroke-width="0.6"/>
<text class="d" x="253.60" y="310.55" font-size="5.60" text-anchor="middle">0</text>
<line x1="253.60" y1="304.20" x2="253.60" y2="302.70" stroke="#999" stroke-width="0.6"/>
<line x1="253.60" y1="166.20" x2="253.60" y2="167.70" stroke="#999" stroke-width="0.6"/>
<text class="d" x="272.30" y="310.55" font-size="5.60" text-anchor="middle">2</text>
<line x1="272.30" y1="304.20" x2="272.30" y2="302.70" stroke="#999" stroke-width="0.6"/>
<line x1="272.30" y1="166.20" x2="272.30" y2="167.70" stroke="#999" stroke-width="0.6"/>
<text class="d" x="291.00" y="310.55" font-size="5.60" text-anchor="middle">4</text>
<line x1="291.00" y1="304.20" x2="291.00" y2="302.70" stroke="#999" stroke-width="0.6"/>
<line x1="291.00" y1="166.20" x2="291.00" y2="167.70" stroke="#999" stroke-width="0.6"/>
<text x="254.20" y="319.20" font-size="8" font-weight="bold" fill="#1a1a1a" stroke="#1a1a1a" stroke-width="0.2" text-anchor="middle"><tspan font-style="italic">r</tspan> (mm)</text>
<text transform="translate(182.30 239.60) rotate(-90)" font-size="8" font-weight="bold" fill="#1a1a1a" stroke="#1a1a1a" stroke-width="0.2" text-anchor="middle"><tspan font-style="italic">z</tspan> (mm)</text>
<rect x="312.90" y="181.50" width="4.20" height="126.70" fill="url(#cb)"/>
<text class="d" x="318.80" y="295.46" font-size="5.80">0.5</text>
<text class="d" x="318.80" y="280.63" font-size="5.80">1</text>
<text class="d" x="318.80" y="265.79" font-size="5.80">1.5</text>
<text class="d" x="318.80" y="250.96" font-size="5.80">2</text>
<text class="d" x="318.80" y="236.12" font-size="5.80">2.5</text>
<text class="d" x="318.80" y="221.28" font-size="5.80">3</text>
<text class="d" x="318.80" y="206.45" font-size="5.80">3.5</text>
<text class="d" x="318.80" y="191.61" font-size="5.80">4</text>
<path d="M309.40 171.30 L314.60 171.30 L312.00 167.20 Z" fill="#111"/>
<text class="d" x="317.20" y="171.80" font-size="5.55">4.27×10<tspan font-size="3.4" dy="-3.0">15</tspan></text>
<text class="d" x="317.20" y="178.30" font-size="5.4">×10<tspan font-size="3.4" dy="-3.0">15</tspan></text>
<path d="M309.80 313.40 L315.00 313.40 L312.40 317.40 Z" fill="#111"/>
<text class="d" x="317.70" y="317.30" font-size="5.4">3.1×10<tspan font-size="3.4" dy="-3.0">7</tspan></text>
<text x="223.60" y="191.90" font-size="8.3" font-weight="bold" fill="#f0f0ff">He<tspan font-size="5" dy="1.6">2</tspan><tspan dy="-1.6"></tspan><tspan font-size="4.6" dy="-2.9">*</tspan></text>
<rect x="376.00" y="166.00" width="103.70" height="137.20" fill="#fff" stroke="#c4c4c4" stroke-width="1"/>
<path d="M380.20 234.55 V294.30 H475.10 V234.55" fill="none" stroke="#a8a8a8" stroke-width="0.9"/>
<path d="M380.20 174.80H475.10V234.55H437.10V294.30H418.00V234.55H380.20Z" fill="#000087"/>
<g clip-path="url(#cp5)"><g filter="url(#jf)"><rect x="375.2" y="169.8" width="104.9" height="129.5" fill="#000"/><path fill="#080808" d="M421.6 173.8 421.6 174.8 421.7 175.8 422.0 176.8 422.7 177.8 422.8 178.8 423.0 179.8 423.0 180.8 422.9 181.8 422.8 182.8 422.7 183.8 422.7 184.8 422.7 185.8 422.6 186.8 422.7 187.8 422.8 188.8 422.8 189.8 423.0 190.8 423.2 191.8 423.3 192.8 423.4 193.8 423.4 194.8 423.3 195.8 423.2 196.8 423.1 197.8 423.1 198.8 422.9 199.8 422.9 200.8 422.9 201.8 422.9 202.8 422.9 203.8 422.9 204.8 423.0 205.8 423.2 206.8 423.3 207.8 423.3 208.8 423.3 209.8 423.4 210.8 423.5 211.8 423.6 212.8 423.6 213.8 423.6 214.8 423.6 215.8 423.6 216.8 423.7 217.8 423.7 218.8 423.8 219.8 423.8 220.8 423.8 221.8 423.8 222.8 423.8 223.8 423.9 224.8 423.9 225.8 423.9 226.8 423.9 227.8 424.0 228.8 424.0 229.8 424.0 230.8 424.1 231.8 424.1 232.8 424.1 233.8 424.1 234.8 424.1 235.8 424.1 236.8 424.1 237.8 424.2 238.8 424.2 239.8 424.2 240.8 424.2 241.8 424.2 242.8 424.2 243.8 424.2 244.8 424.3 245.8 424.3 246.8 424.3 247.8 424.3 248.8 424.4 249.8 424.4 250.8 424.4 251.8 424.5 252.8 424.5 253.8 424.6 254.8 424.6 255.8 424.7 256.8 424.7 257.8 424.8 258.8 424.9 259.8 424.9 260.8 425.0 261.8 425.1 262.8 425.2 263.8 425.3 264.8 425.4 265.8 425.5 266.8 425.7 267.8 425.9 268.8 426.2 269.8 426.8 270.8 427.4 271.0 427.4 271.0 428.0 270.8 428.6 269.8 428.9 268.8 429.1 267.8 429.3 266.8 429.4 265.8 429.5 264.8 429.6 263.8 429.7 262.8 429.8 261.8 429.9 260.8 429.9 259.8 430.0 258.8 430.1 257.8 430.1 256.8 430.2 255.8 430.2 254.8 430.3 253.8 430.3 252.8 430.4 251.8 430.4 250.8 430.4 249.8 430.5 248.8 430.5 247.8 430.5 246.8 430.5 245.8 430.6 244.8 430.6 243.8 430.6 242.8 430.6 241.8 430.6 240.8 430.6 239.8 430.6 238.8 430.7 237.8 430.7 236.8 430.7 235.8 430.7 234.8 430.7 233.8 430.7 232.8 430.7 231.8 430.8 230.8 430.8 229.8 430.8 228.8 430.9 227.8 430.9 226.8 430.9 225.8 430.9 224.8 431.0 223.8 431.0 222.8 431.0 221.8 431.0 220.8 431.0 219.8 431.1 218.8 431.1 217.8 431.2 216.8 431.2 215.8 431.2 214.8 431.2 213.8 431.2 212.8 431.3 211.8 431.4 210.8 431.5 209.8 431.5 208.8 431.5 207.8 431.6 206.8 431.8 205.8 431.9 204.8 431.9 203.8 431.9 202.8 431.9 201.8 431.9 200.8 431.9 199.8 431.7 198.8 431.7 197.8 431.6 196.8 431.5 195.8 431.4 194.8 431.4 193.8 431.5 192.8 431.6 191.8 431.8 190.8 432.0 189.8 432.0 188.8 432.1 187.8 432.2 186.8 432.1 185.8 432.1 184.8 432.1 183.8 432.0 182.8 431.9 181.8 431.8 180.8 431.8 179.8 432.0 178.8 432.1 177.8 432.8 176.8 433.1 175.8 433.2 174.8 433.2 173.8Z"/><path fill="#080808" d="M428.9 200.1 427.1 200.8 426.6 201.8 426.5 202.8 426.5 203.8 426.6 204.8 426.7 205.8 426.8 206.8 426.8 207.8 427.0 208.8 427.2 209.8 427.3 210.8 427.4 211.8 427.6 212.8 427.8 213.8 427.9 214.8 427.9 215.8 428.1 216.8 428.2 217.8 428.5 218.8 428.8 219.8 428.9 220.8 429.0 221.8 429.2 222.8 429.6 223.8 431.0 224.8 431.0 224.8 432.4 223.8 432.7 222.8 432.9 221.8 432.9 220.8 433.0 219.8 433.1 218.8 433.2 217.8 433.2 216.8 433.1 215.8 433.1 214.8 433.1 213.8 433.0 212.8 433.0 211.8 432.9 210.8 432.8 209.8 432.7 208.8 432.5 207.8 432.4 206.8 432.4 205.8 432.2 204.8 432.0 203.8 431.9 202.8 431.6 201.8 430.7 200.8 428.9 200.1Z"/><path fill="#080808" d="M425.9 200.1 424.1 200.8 423.2 201.8 422.9 202.8 422.8 203.8 422.6 204.8 422.4 205.8 422.4 206.8 422.3 207.8 422.1 208.8 422.0 209.8 421.9 210.8 421.8 211.8 421.8 212.8 421.7 213.8 421.7 214.8 421.7 215.8 421.6 216.8 421.6 217.8 421.7 218.8 421.8 219.8 421.9 220.8 421.9 221.8 422.1 222.8 422.4 223.8 423.8 224.8 423.8 224.8 425.2 223.8 425.6 222.8 425.8 221.8 425.9 220.8 426.0 219.8 426.3 218.8 426.6 217.8 426.7 216.8 426.9 215.8 426.9 214.8 427.0 213.8 427.2 212.8 427.4 211.8 427.5 210.8 427.6 209.8 427.8 208.8 428.0 207.8 428.0 206.8 428.1 205.8 428.2 204.8 428.3 203.8 428.3 202.8 428.2 201.8 427.7 200.8 425.9 200.1Z"/><path fill="#0d0d0d" d="M422.0 173.8 422.1 174.8 422.1 175.8 422.4 176.8 423.1 177.8 423.2 178.8 423.3 179.8 423.3 180.8 423.2 181.8 423.1 182.8 423.0 183.8 423.0 184.8 423.0 185.8 422.9 186.8 423.0 187.8 423.1 188.8 423.1 189.8 423.3 190.8 423.4 191.8 423.6 192.8 423.7 193.8 423.7 194.8 423.6 195.8 423.5 196.8 423.5 197.8 423.4 198.8 423.3 199.8 423.3 200.8 423.3 201.8 423.3 202.8 423.3 203.8 423.4 204.8 423.5 205.8 423.7 206.8 423.8 207.8 423.8 208.8 423.9 209.8 424.1 210.8 424.3 211.8 424.5 212.8 424.5 213.8 424.6 214.8 424.7 215.8 424.8 216.8 425.1 217.8 425.5 218.8 426.1 219.8 427.4 220.8 427.4 220.8 428.7 219.8 429.3 218.8 429.7 217.8 430.0 216.8 430.1 215.8 430.2 214.8 430.3 213.8 430.3 212.8 430.5 211.8 430.7 210.8 430.9 209.8 431.0 208.8 431.0 207.8 431.1 206.8 431.3 205.8 431.4 204.8 431.5 203.8 431.5 202.8 431.5 201.8 431.5 200.8 431.5 199.8 431.4 198.8 431.3 197.8 431.3 196.8 431.2 195.8 431.1 194.8 431.1 193.8 431.2 192.8 431.4 191.8 431.5 190.8 431.7 189.8 431.7 188.8 431.8 187.8 431.9 186.8 431.8 185.8 431.8 184.8 431.8 183.8 431.7 182.8 431.6 181.8 431.5 180.8 431.5 179.8 431.6 178.8 431.7 177.8 432.4 176.8 432.7 175.8 432.7 174.8 432.8 173.8Z"/><path fill="#0d0d0d" d="M428.9 200.4 427.7 200.8 427.0 201.8 426.9 202.8 426.9 203.8 427.0 204.8 427.2 205.8 427.2 206.8 427.3 207.8 427.5 208.8 427.7 209.8 427.8 210.8 427.9 211.8 428.2 212.8 428.4 213.8 428.6 214.8 428.7 215.8 428.8 216.8 429.1 217.8 429.6 218.8 430.2 219.8 430.9 220.8 430.9 220.8 431.6 219.8 432.0 218.8 432.3 217.8 432.4 216.8 432.4 215.8 432.4 214.8 432.4 213.8 432.4 212.8 432.4 211.8 432.4 210.8 432.3 209.8 432.2 208.8 432.1 207.8 432.0 206.8 431.9 205.8 431.8 204.8 431.6 203.8 431.5 202.8 431.2 201.8 430.1 200.8 428.9 200.4Z"/><path fill="#0d0d0d" d="M425.9 200.4 424.7 200.8 423.6 201.8 423.3 202.8 423.2 203.8 423.0 204.8 422.9 205.8 422.8 206.8 422.7 207.8 422.6 208.8 422.5 209.8 422.4 210.8 422.4 211.8 422.4 212.8 422.4 213.8 422.4 214.8 422.4 215.8 422.4 216.8 422.5 217.8 422.8 218.8 423.2 219.8 423.9 220.8 423.9 220.8 424.6 219.8 425.2 218.8 425.7 217.8 426.0 216.8 426.1 215.8 426.2 214.8 426.4 213.8 426.6 212.8 426.9 211.8 427.0 210.8 427.1 209.8 427.3 208.8 427.5 207.8 427.6 206.8 427.6 205.8 427.8 204.8 427.9 203.8 427.9 202.8 427.8 201.8 427.1 200.8 425.9 200.4Z"/><path fill="#121212" d="M422.4 173.8 422.4 174.8 422.5 175.8 422.7 176.8 423.4 177.8 423.4 178.8 423.5 179.8 423.6 180.8 423.5 181.8 423.3 182.8 423.2 183.8 423.2 184.8 423.2 185.8 423.1 186.8 423.2 187.8 423.3 188.8 423.3 189.8 423.5 190.8 423.6 191.8 423.8 192.8 423.8 193.8 423.9 194.8 423.8 195.8 423.7 196.8 423.7 197.8 423.6 198.8 423.6 199.8 423.5 200.8 423.6 201.8 423.6 202.8 423.6 203.8 423.7 204.8 423.9 205.8 424.1 206.8 424.2 207.8 424.3 208.8 424.4 209.8 424.7 210.8 425.1 211.8 425.5 212.8 425.6 213.8 425.8 214.8 426.6 215.8 427.4 215.9 427.4 215.9 428.2 215.8 429.0 214.8 429.2 213.8 429.3 212.8 429.7 211.8 430.1 210.8 430.4 209.8 430.5 208.8 430.6 207.8 430.7 206.8 430.9 205.8 431.1 204.8 431.2 203.8 431.2 202.8 431.2 201.8 431.3 200.8 431.2 199.8 431.2 198.8 431.1 197.8 431.1 196.8 431.0 195.8 430.9 194.8 431.0 193.8 431.0 192.8 431.2 191.8 431.3 190.8 431.5 189.8 431.5 188.8 431.6 187.8 431.7 186.8 431.6 185.8 431.6 184.8 431.6 183.8 431.5 182.8 431.3 181.8 431.2 180.8 431.3 179.8 431.4 178.8 431.4 177.8 432.1 176.8 432.3 175.8 432.4 174.8 432.4 173.8Z"/><path fill="#121212" d="M428.9 200.7 428.4 200.8 427.3 201.8 427.2 202.8 427.2 203.8 427.3 204.8 427.5 205.8 427.5 206.8 427.6 207.8 427.8 208.8 428.1 209.8 428.2 210.8 428.3 211.8 428.6 212.8 428.9 213.8 429.1 214.8 429.2 215.8 429.5 216.8 430.1 217.8 430.8 218.2 430.8 218.2 431.3 217.8 431.7 216.8 431.8 215.8 431.9 214.8 431.9 213.8 432.0 212.8 432.0 211.8 432.0 210.8 432.0 209.8 431.9 208.8 431.8 207.8 431.7 206.8 431.6 205.8 431.5 204.8 431.3 203.8 431.2 202.8 430.9 201.8 429.4 200.8 428.9 200.7Z"/><path fill="#121212" d="M425.9 200.7 425.4 200.8 423.9 201.8 423.6 202.8 423.5 203.8 423.3 204.8 423.2 205.8 423.1 206.8 423.0 207.8 422.9 208.8 422.8 209.8 422.8 210.8 422.8 211.8 422.8 212.8 422.9 213.8 422.9 214.8 423.0 215.8 423.1 216.8 423.5 217.8 424.0 218.2 424.0 218.2 424.7 217.8 425.3 216.8 425.6 215.8 425.7 214.8 425.9 213.8 426.2 212.8 426.5 211.8 426.6 210.8 426.7 209.8 427.0 208.8 427.2 207.8 427.3 206.8 427.3 205.8 427.5 204.8 427.6 203.8 427.6 202.8 427.5 201.8 426.4 200.8 425.9 200.7Z"/><path fill="#171717" d="M422.6 173.8 422.7 174.8 422.7 175.8 422.9 176.8 423.5 177.8 423.6 178.8 423.7 179.8 423.7 180.8 423.6 181.8 423.4 182.8 423.4 183.8 423.3 184.8 423.3 185.8 423.3 186.8 423.3 187.8 423.4 188.8 423.5 189.8 423.6 190.8 423.8 191.8 423.9 192.8 424.0 193.8 424.0 194.8 424.0 195.8 423.9 196.8 423.9 197.8 423.8 198.8 423.8 199.8 423.7 200.8 423.8 201.8 423.8 202.8 423.9 203.8 424.0 204.8 424.2 205.8 424.4 206.8 424.6 207.8 424.7 208.8 424.9 209.8 425.4 210.8 427.4 211.7 427.4 211.7 429.4 210.8 429.9 209.8 430.1 208.8 430.2 207.8 430.4 206.8 430.6 205.8 430.8 204.8 430.9 203.8 431.0 202.8 431.0 201.8 431.1 200.8 431.0 199.8 431.0 198.8 430.9 197.8 430.9 196.8 430.8 195.8 430.8 194.8 430.8 193.8 430.9 192.8 431.0 191.8 431.2 190.8 431.3 189.8 431.4 188.8 431.5 187.8 431.5 186.8 431.5 185.8 431.5 184.8 431.4 183.8 431.4 182.8 431.2 181.8 431.1 180.8 431.1 179.8 431.2 178.8 431.3 177.8 431.9 176.8 432.1 175.8 432.1 174.8 432.2 173.8Z"/><path fill="#171717" d="M429.1 200.9 427.5 201.8 427.4 202.8 427.4 203.8 427.6 204.8 427.7 205.8 427.8 206.8 427.9 207.8 428.1 208.8 428.4 209.8 428.5 210.8 428.7 211.8 429.0 212.8 429.5 213.8 429.8 214.8 429.9 215.8 430.6 216.5 430.6 216.5 431.1 215.8 431.2 214.8 431.4 213.8 431.6 212.8 431.7 211.8 431.7 210.8 431.7 209.8 431.6 208.8 431.5 207.8 431.4 206.8 431.4 205.8 431.2 204.8 431.1 203.8 431.0 202.8 430.7 201.8 429.1 200.9Z"/><path fill="#171717" d="M425.7 200.9 424.1 201.8 423.8 202.8 423.7 203.8 423.6 204.8 423.4 205.8 423.4 206.8 423.3 207.8 423.2 208.8 423.1 209.8 423.1 210.8 423.1 211.8 423.2 212.8 423.4 213.8 423.6 214.8 423.7 215.8 424.2 216.5 424.2 216.5 424.9 215.8 425.0 214.8 425.3 213.8 425.8 212.8 426.1 211.8 426.3 210.8 426.4 209.8 426.7 208.8 426.9 207.8 427.0 206.8 427.1 205.8 427.2 204.8 427.4 203.8 427.4 202.8 427.3 201.8 425.7 200.9Z"/><path fill="#1d1d1d" d="M422.9 173.8 422.9 174.8 422.9 175.8 423.1 176.8 423.7 177.8 423.7 178.8 423.8 179.8 423.9 180.8 423.8 181.8 423.6 182.8 423.5 183.8 423.5 184.8 423.4 185.8 423.4 186.8 423.5 187.8 423.5 188.8 423.6 189.8 423.8 190.8 423.9 191.8 424.1 192.8 424.1 193.8 424.2 194.8 424.1 195.8 424.0 196.8 424.0 197.8 424.0 198.8 423.9 199.8 423.9 200.8 424.0 201.8 424.1 202.8 424.1 203.8 424.2 204.8 424.4 205.8 424.8 206.8 425.0 207.8 425.1 208.8 425.4 209.8 427.4 210.7 427.4 210.7 429.4 209.8 429.7 208.8 429.8 207.8 430.0 206.8 430.4 205.8 430.6 204.8 430.7 203.8 430.7 202.8 430.8 201.8 430.9 200.8 430.9 199.8 430.8 198.8 430.8 197.8 430.8 196.8 430.7 195.8 430.6 194.8 430.7 193.8 430.7 192.8 430.9 191.8 431.0 190.8 431.2 189.8 431.3 188.8 431.3 187.8 431.4 186.8 431.4 185.8 431.3 184.8 431.3 183.8 431.2 182.8 431.0 181.8 430.9 180.8 431.0 179.8 431.1 178.8 431.1 177.8 431.7 176.8 431.9 175.8 431.9 174.8 431.9 173.8Z"/><path fill="#1d1d1d" d="M429.1 201.1 427.8 201.8 427.6 202.8 427.6 203.8 427.8 204.8 427.9 205.8 428.0 206.8 428.1 207.8 428.4 208.8 428.7 209.8 428.8 210.8 429.0 211.8 429.4 212.8 430.4 213.8 430.4 213.8 431.2 212.8 431.3 211.8 431.4 210.8 431.4 209.8 431.3 208.8 431.3 207.8 431.2 206.8 431.2 205.8 431.0 204.8 430.9 203.8 430.8 202.8 430.4 201.8 429.1 201.1Z"/><path fill="#1d1d1d" d="M425.7 201.1 424.4 201.8 424.0 202.8 423.9 203.8 423.8 204.8 423.6 205.8 423.6 206.8 423.5 207.8 423.5 208.8 423.4 209.8 423.4 210.8 423.5 211.8 423.6 212.8 424.4 213.8 424.4 213.8 425.4 212.8 425.8 211.8 426.0 210.8 426.1 209.8 426.4 208.8 426.7 207.8 426.8 206.8 426.9 205.8 427.0 204.8 427.2 203.8 427.2 202.8 427.0 201.8 425.7 201.1Z"/><path fill="#252525" d="M423.1 173.8 423.2 174.8 423.2 175.8 423.4 176.8 423.9 177.8 423.9 178.8 424.0 179.8 424.0 180.8 423.9 181.8 423.7 182.8 423.6 183.8 423.6 184.8 423.6 185.8 423.6 186.8 423.6 187.8 423.7 188.8 423.7 189.8 423.9 190.8 424.0 191.8 424.2 192.8 424.3 193.8 424.3 194.8 424.3 195.8 424.2 196.8 424.2 197.8 424.2 198.8 424.2 199.8 424.2 200.8 424.2 201.8 424.4 202.8 424.4 203.8 424.5 204.8 424.8 205.8 425.3 206.8 425.7 207.8 425.9 208.8 427.4 209.4 427.4 209.4 428.9 208.8 429.1 207.8 429.5 206.8 430.0 205.8 430.3 204.8 430.4 203.8 430.4 202.8 430.6 201.8 430.6 200.8 430.6 199.8 430.6 198.8 430.6 197.8 430.6 196.8 430.5 195.8 430.5 194.8 430.5 193.8 430.6 192.8 430.8 191.8 430.9 190.8 431.1 189.8 431.1 188.8 431.2 187.8 431.2 186.8 431.2 185.8 431.2 184.8 431.2 183.8 431.1 182.8 430.9 181.8 430.8 180.8 430.8 179.8 430.9 178.8 430.9 177.8 431.4 176.8 431.6 175.8 431.6 174.8 431.7 173.8Z"/><path fill="#252525" d="M429.1 201.3 428.1 201.8 427.8 202.8 427.9 203.8 428.0 204.8 428.2 205.8 428.3 206.8 428.4 207.8 428.7 208.8 429.1 209.8 429.4 210.8 429.6 211.8 430.3 212.3 430.3 212.3 430.7 211.8 430.8 210.8 430.9 209.8 431.0 208.8 431.0 207.8 430.9 206.8 430.9 205.8 430.8 204.8 430.6 203.8 430.6 202.8 430.1 201.8 429.1 201.3Z"/><path fill="#252525" d="M425.7 201.3 424.7 201.8 424.2 202.8 424.2 203.8 424.0 204.8 423.9 205.8 423.9 206.8 423.8 207.8 423.8 208.8 423.9 209.8 424.0 210.8 424.1 211.8 424.5 212.3 424.5 212.3 425.2 211.8 425.4 210.8 425.7 209.8 426.1 208.8 426.4 207.8 426.5 206.8 426.6 205.8 426.8 204.8 426.9 203.8 427.0 202.8 426.7 201.8 425.7 201.3Z"/><path fill="#2e2e2e" d="M423.4 173.8 423.4 174.8 423.4 175.8 423.6 176.8 424.1 177.8 424.1 178.8 424.2 179.8 424.2 180.8 424.1 181.8 423.9 182.8 423.8 183.8 423.8 184.8 423.7 185.8 423.7 186.8 423.8 187.8 423.8 188.8 423.9 189.8 424.0 190.8 424.2 191.8 424.4 192.8 424.4 193.8 424.5 194.8 424.4 195.8 424.4 196.8 424.4 197.8 424.4 198.8 424.4 199.8 424.4 200.8 424.5 201.8 424.6 202.8 424.8 203.8 424.9 204.8 425.3 205.8 426.2 206.8 427.4 207.3 427.4 207.3 428.6 206.8 429.5 205.8 429.9 204.8 430.0 203.8 430.2 202.8 430.3 201.8 430.4 200.8 430.4 199.8 430.4 198.8 430.4 197.8 430.4 196.8 430.4 195.8 430.3 194.8 430.4 193.8 430.4 192.8 430.6 191.8 430.8 190.8 430.9 189.8 431.0 188.8 431.0 187.8 431.1 186.8 431.1 185.8 431.0 184.8 431.0 183.8 430.9 182.8 430.7 181.8 430.6 180.8 430.6 179.8 430.7 178.8 430.7 177.8 431.2 176.8 431.4 175.8 431.4 174.8 431.4 173.8Z"/><path fill="#2e2e2e" d="M429.1 201.6 428.4 201.8 428.1 202.8 428.1 203.8 428.3 204.8 428.5 205.8 428.6 206.8 428.7 207.8 429.1 208.8 429.9 209.8 430.1 209.9 430.1 209.9 430.2 209.8 430.6 208.8 430.6 207.8 430.6 206.8 430.6 205.8 430.5 204.8 430.4 203.8 430.3 202.8 429.7 201.8 429.1 201.6Z"/><path fill="#2e2e2e" d="M425.7 201.6 425.1 201.8 424.5 202.8 424.4 203.8 424.3 204.8 424.2 205.8 424.2 206.8 424.2 207.8 424.2 208.8 424.6 209.8 424.7 209.9 424.7 209.9 424.9 209.8 425.7 208.8 426.1 207.8 426.2 206.8 426.3 205.8 426.5 204.8 426.7 203.8 426.7 202.8 426.4 201.8 425.7 201.6Z"/><path fill="#383838" d="M423.8 173.8 423.8 174.8 423.8 175.8 423.9 176.8 424.3 177.8 424.3 178.8 424.4 179.8 424.4 180.8 424.3 181.8 424.1 182.8 424.0 183.8 423.9 184.8 423.9 185.8 423.9 186.8 423.9 187.8 424.0 188.8 424.0 189.8 424.2 190.8 424.3 191.8 424.5 192.8 424.6 193.8 424.6 194.8 424.6 195.8 424.6 196.8 424.6 197.8 424.6 198.8 424.6 199.8 424.7 200.8 424.8 201.8 425.0 202.8 425.2 203.8 425.4 204.8 426.2 205.8 427.4 206.0 427.4 206.0 428.6 205.8 429.4 204.8 429.6 203.8 429.8 202.8 430.0 201.8 430.1 200.8 430.2 199.8 430.2 198.8 430.2 197.8 430.2 196.8 430.2 195.8 430.2 194.8 430.2 193.8 430.3 192.8 430.5 191.8 430.6 190.8 430.8 189.8 430.8 188.8 430.9 187.8 430.9 186.8 430.9 185.8 430.9 184.8 430.8 183.8 430.7 182.8 430.5 181.8 430.4 180.8 430.4 179.8 430.5 178.8 430.5 177.8 430.9 176.8 431.0 175.8 431.0 174.8 431.0 173.8Z"/><path fill="#383838" d="M429.2 202.0 428.4 202.8 428.5 203.8 428.7 204.8 428.9 205.8 429.0 206.8 429.3 207.8 429.8 208.2 429.8 208.2 430.1 207.8 430.2 206.8 430.2 205.8 430.1 204.8 430.0 203.8 430.0 202.8 429.2 202.0Z"/><path fill="#383838" d="M425.6 202.0 424.8 202.8 424.8 203.8 424.7 204.8 424.6 205.8 424.6 206.8 424.7 207.8 424.9 208.2 424.9 208.2 425.5 207.8 425.8 206.8 425.9 205.8 426.1 204.8 426.3 203.8 426.4 202.8 425.6 202.0Z"/><path fill="#424242" d="M424.1 173.8 424.1 174.8 424.1 175.8 424.2 176.8 424.6 177.8 424.5 178.8 424.5 179.8 424.6 180.8 424.4 181.8 424.2 182.8 424.1 183.8 424.1 184.8 424.0 185.8 424.0 186.8 424.1 187.8 424.1 188.8 424.2 189.8 424.3 190.8 424.5 191.8 424.6 192.8 424.7 193.8 424.8 194.8 424.8 195.8 424.8 196.8 424.8 197.8 424.8 198.8 424.9 199.8 425.0 200.8 425.1 201.8 425.4 202.8 425.8 203.8 426.2 204.8 427.4 205.1 427.4 205.1 428.6 204.8 429.0 203.8 429.4 202.8 429.7 201.8 429.8 200.8 429.9 199.8 430.0 198.8 430.0 197.8 430.0 196.8 430.0 195.8 430.0 194.8 430.1 193.8 430.2 192.8 430.3 191.8 430.5 190.8 430.6 189.8 430.7 188.8 430.7 187.8 430.8 186.8 430.8 185.8 430.7 184.8 430.7 183.8 430.6 182.8 430.4 181.8 430.2 180.8 430.3 179.8 430.3 178.8 430.2 177.8 430.6 176.8 430.7 175.8 430.7 174.8 430.7 173.8Z"/><path fill="#424242" d="M429.2 202.6 428.9 202.8 429.0 203.8 429.4 204.3 429.4 204.3 429.5 203.8 429.5 202.8 429.2 202.6Z"/><path fill="#424242" d="M425.6 202.6 425.3 202.8 425.3 203.8 425.4 204.3 425.4 204.3 425.8 203.8 425.9 202.8 425.6 202.6Z"/><path fill="#4c4c4c" d="M424.4 173.8 424.4 174.8 424.4 175.8 424.4 176.8 424.8 177.8 424.7 178.8 424.7 179.8 424.7 180.8 424.6 181.8 424.3 182.8 424.2 183.8 424.2 184.8 424.2 185.8 424.1 186.8 424.2 187.8 424.2 188.8 424.3 189.8 424.5 190.8 424.6 191.8 424.8 192.8 424.9 193.8 424.9 194.8 424.9 195.8 425.0 196.8 425.0 197.8 425.0 198.8 425.2 199.8 425.3 200.8 425.5 201.8 426.1 202.8 427.4 203.4 427.4 203.4 428.7 202.8 429.3 201.8 429.5 200.8 429.6 199.8 429.8 198.8 429.8 197.8 429.8 196.8 429.9 195.8 429.9 194.8 429.9 193.8 430.0 192.8 430.2 191.8 430.3 190.8 430.5 189.8 430.6 188.8 430.6 187.8 430.7 186.8 430.6 185.8 430.6 184.8 430.6 183.8 430.5 182.8 430.2 181.8 430.1 180.8 430.1 179.8 430.1 178.8 430.0 177.8 430.4 176.8 430.4 175.8 430.4 174.8 430.4 173.8Z"/><path fill="#575757" d="M424.8 173.8 424.7 174.8 424.7 175.8 424.7 176.8 425.0 177.8 424.9 178.8 424.9 179.8 424.9 180.8 424.7 181.8 424.5 182.8 424.4 183.8 424.3 184.8 424.3 185.8 424.3 186.8 424.3 187.8 424.4 188.8 424.4 189.8 424.6 190.8 424.7 191.8 424.9 192.8 425.0 193.8 425.1 194.8 425.1 195.8 425.1 196.8 425.2 197.8 425.2 198.8 425.5 199.8 425.6 200.8 426.0 201.8 427.4 202.4 427.4 202.4 428.8 201.8 429.2 200.8 429.3 199.8 429.6 198.8 429.6 197.8 429.7 196.8 429.7 195.8 429.7 194.8 429.8 193.8 429.9 192.8 430.1 191.8 430.2 190.8 430.4 189.8 430.4 188.8 430.5 187.8 430.5 186.8 430.5 185.8 430.5 184.8 430.4 183.8 430.3 182.8 430.1 181.8 429.9 180.8 429.9 179.8 429.9 178.8 429.8 177.8 430.1 176.8 430.1 175.8 430.1 174.8 430.0 173.8Z"/><path fill="#616161" d="M425.2 173.8 425.2 174.8 425.0 175.8 425.1 176.8 425.2 177.8 425.1 178.8 425.1 179.8 425.0 180.8 424.9 181.8 424.6 182.8 424.5 183.8 424.5 184.8 424.4 185.8 424.4 186.8 424.4 187.8 424.5 188.8 424.5 189.8 424.7 190.8 424.8 191.8 425.0 192.8 425.1 193.8 425.2 194.8 425.3 195.8 425.3 196.8 425.4 197.8 425.5 198.8 425.8 199.8 426.2 200.8 427.4 201.5 427.4 201.5 428.6 200.8 429.0 199.8 429.3 198.8 429.4 197.8 429.5 196.8 429.5 195.8 429.6 194.8 429.7 193.8 429.8 192.8 430.0 191.8 430.1 190.8 430.3 189.8 430.3 188.8 430.4 187.8 430.4 186.8 430.4 185.8 430.3 184.8 430.3 183.8 430.2 182.8 429.9 181.8 429.8 180.8 429.7 179.8 429.7 178.8 429.6 177.8 429.7 176.8 429.8 175.8 429.6 174.8 429.6 173.8Z"/><path fill="#6b6b6b" d="M425.9 173.8 425.7 174.8 425.5 175.8 425.4 176.8 425.5 177.8 425.4 178.8 425.2 179.8 425.2 180.8 425.0 181.8 424.7 182.8 424.6 183.8 424.6 184.8 424.5 185.8 424.5 186.8 424.5 187.8 424.6 188.8 424.6 189.8 424.8 190.8 424.9 191.8 425.1 192.8 425.3 193.8 425.4 194.8 425.4 195.8 425.5 196.8 425.6 197.8 425.8 198.8 426.5 199.8 427.4 200.2 427.4 200.2 428.3 199.8 429.0 198.8 429.2 197.8 429.3 196.8 429.4 195.8 429.4 194.8 429.5 193.8 429.7 192.8 429.9 191.8 430.0 190.8 430.2 189.8 430.2 188.8 430.3 187.8 430.3 186.8 430.3 185.8 430.2 184.8 430.2 183.8 430.1 182.8 429.8 181.8 429.6 180.8 429.6 179.8 429.4 178.8 429.3 177.8 429.4 176.8 429.3 175.8 429.1 174.8 428.9 173.8Z"/><path fill="#757575" d="M427.4 175.4 426.4 175.8 426.0 176.8 425.8 177.8 425.6 178.8 425.4 179.8 425.4 180.8 425.2 181.8 424.9 182.8 424.7 183.8 424.7 184.8 424.6 185.8 424.6 186.8 424.6 187.8 424.7 188.8 424.7 189.8 424.9 190.8 425.0 191.8 425.3 192.8 425.4 193.8 425.5 194.8 425.6 195.8 425.8 196.8 425.9 197.8 426.2 198.8 427.4 199.3 427.4 199.3 428.6 198.8 428.9 197.8 429.0 196.8 429.2 195.8 429.3 194.8 429.4 193.8 429.5 192.8 429.8 191.8 429.9 190.8 430.1 189.8 430.1 188.8 430.2 187.8 430.2 186.8 430.2 185.8 430.1 184.8 430.1 183.8 429.9 182.8 429.6 181.8 429.4 180.8 429.4 179.8 429.2 178.8 429.0 177.8 428.8 176.8 428.4 175.8 427.4 175.4Z"/><path fill="#808080" d="M427.4 177.3 426.3 177.8 426.0 178.8 425.7 179.8 425.6 180.8 425.3 181.8 425.0 182.8 424.8 183.8 424.8 184.8 424.7 185.8 424.7 186.8 424.7 187.8 424.8 188.8 424.8 189.8 425.0 190.8 425.1 191.8 425.4 192.8 425.5 193.8 425.7 194.8 425.8 195.8 426.1 196.8 426.4 197.8 427.4 198.4 427.4 198.4 428.4 197.8 428.7 196.8 429.0 195.8 429.1 194.8 429.3 193.8 429.4 192.8 429.7 191.8 429.8 190.8 430.0 189.8 430.0 188.8 430.1 187.8 430.1 186.8 430.1 185.8 430.0 184.8 430.0 183.8 429.8 182.8 429.5 181.8 429.2 180.8 429.1 179.8 428.8 178.8 428.5 177.8 427.4 177.3Z"/><path fill="#8a8a8a" d="M427.4 178.4 426.5 178.8 425.9 179.8 425.8 180.8 425.5 181.8 425.1 182.8 425.0 183.8 424.9 184.8 424.8 185.8 424.8 186.8 424.8 187.8 424.9 188.8 424.9 189.8 425.1 190.8 425.3 191.8 425.5 192.8 425.7 193.8 425.9 194.8 426.0 195.8 426.6 196.8 427.4 197.2 427.4 197.2 428.2 196.8 428.8 195.8 428.9 194.8 429.1 193.8 429.3 192.8 429.5 191.8 429.7 190.8 429.9 189.8 429.9 188.8 430.0 187.8 430.0 186.8 430.0 185.8 429.9 184.8 429.8 183.8 429.7 182.8 429.3 181.8 429.0 180.8 428.9 179.8 428.3 178.8 427.4 178.4Z"/><path fill="#949494" d="M427.4 179.3 426.3 179.8 426.0 180.8 425.7 181.8 425.2 182.8 425.1 183.8 425.0 184.8 424.9 185.8 424.9 186.8 424.9 187.8 425.0 188.8 425.0 189.8 425.2 190.8 425.4 191.8 425.7 192.8 425.9 193.8 426.2 194.8 426.4 195.8 427.4 196.3 427.4 196.3 428.4 195.8 428.6 194.8 428.9 193.8 429.1 192.8 429.4 191.8 429.6 190.8 429.8 189.8 429.8 188.8 429.9 187.8 429.9 186.8 429.9 185.8 429.8 184.8 429.7 183.8 429.6 182.8 429.1 181.8 428.8 180.8 428.5 179.8 427.4 179.3Z"/><path fill="#9e9e9e" d="M427.4 180.2 426.5 180.8 425.9 181.8 425.4 182.8 425.2 183.8 425.1 184.8 425.1 185.8 425.0 186.8 425.0 187.8 425.1 188.8 425.1 189.8 425.3 190.8 425.5 191.8 425.8 192.8 426.1 193.8 426.6 194.8 427.4 195.4 427.4 195.4 428.2 194.8 428.7 193.8 429.0 192.8 429.3 191.8 429.5 190.8 429.7 189.8 429.7 188.8 429.8 187.8 429.8 186.8 429.7 185.8 429.7 184.8 429.6 183.8 429.4 182.8 428.9 181.8 428.3 180.8 427.4 180.2Z"/><path fill="#a8a8a8" d="M427.4 181.1 426.2 181.8 425.5 182.8 425.3 183.8 425.3 184.8 425.2 185.8 425.1 186.8 425.2 187.8 425.2 188.8 425.2 189.8 425.4 190.8 425.6 191.8 426.0 192.8 426.4 193.8 427.4 194.5 427.4 194.5 428.4 193.8 428.8 192.8 429.2 191.8 429.4 190.8 429.6 189.8 429.6 188.8 429.6 187.8 429.7 186.8 429.6 185.8 429.5 184.8 429.5 183.8 429.3 182.8 428.6 181.8 427.4 181.1Z"/><path fill="#b2b2b2" d="M427.4 181.7 426.8 181.8 425.7 182.8 425.5 183.8 425.4 184.8 425.3 185.8 425.2 186.8 425.3 187.8 425.3 188.8 425.3 189.8 425.6 190.8 425.8 191.8 426.2 192.8 427.4 193.8 427.4 193.8 428.6 192.8 429.0 191.8 429.2 190.8 429.5 189.8 429.5 188.8 429.5 187.8 429.6 186.8 429.5 185.8 429.4 184.8 429.3 183.8 429.1 182.8 428.0 181.8 427.4 181.7Z"/><path fill="#bdbdbd" d="M427.4 182.1 425.9 182.8 425.6 183.8 425.5 184.8 425.4 185.8 425.4 186.8 425.4 187.8 425.4 188.8 425.5 189.8 425.7 190.8 425.9 191.8 426.6 192.8 427.4 193.1 427.4 193.1 428.2 192.8 428.9 191.8 429.1 190.8 429.3 189.8 429.4 188.8 429.4 187.8 429.4 186.8 429.4 185.8 429.3 184.8 429.2 183.8 428.9 182.8 427.4 182.1Z"/><path fill="#c7c7c7" d="M427.4 182.4 426.2 182.8 425.8 183.8 425.7 184.8 425.6 185.8 425.5 186.8 425.5 187.8 425.6 188.8 425.6 189.8 425.9 190.8 426.1 191.8 427.4 192.6 427.4 192.6 428.7 191.8 428.9 190.8 429.2 189.8 429.2 188.8 429.3 187.8 429.3 186.8 429.2 185.8 429.1 184.8 429.0 183.8 428.6 182.8 427.4 182.4Z"/><path fill="#d1d1d1" d="M427.4 182.7 426.7 182.8 426.0 183.8 425.9 184.8 425.7 185.8 425.6 186.8 425.6 187.8 425.7 188.8 425.7 189.8 426.0 190.8 426.4 191.8 427.4 192.2 427.4 192.2 428.4 191.8 428.8 190.8 429.1 189.8 429.1 188.8 429.2 187.8 429.2 186.8 429.1 185.8 428.9 184.8 428.8 183.8 428.1 182.8 427.4 182.7Z"/><path fill="#dbdbdb" d="M427.4 183.2 426.3 183.8 426.1 184.8 425.9 185.8 425.8 186.8 425.8 187.8 425.9 188.8 425.9 189.8 426.3 190.8 427.4 191.7 427.4 191.7 428.5 190.8 428.9 189.8 428.9 188.8 429.0 187.8 429.0 186.8 428.9 185.8 428.7 184.8 428.5 183.8 427.4 183.2Z"/><path fill="#e6e6e6" d="M427.4 183.8 426.5 184.8 426.1 185.8 426.0 186.8 426.0 187.8 426.0 188.8 426.1 189.8 426.7 190.8 427.4 191.1 427.4 191.1 428.1 190.8 428.7 189.8 428.8 188.8 428.8 187.8 428.8 186.8 428.7 185.8 428.3 184.8 427.4 183.8Z"/><path fill="#f0f0f0" d="M427.4 185.1 426.4 185.8 426.2 186.8 426.2 187.8 426.3 188.8 426.3 189.8 427.4 190.5 427.4 190.5 428.5 189.8 428.5 188.8 428.6 187.8 428.6 186.8 428.4 185.8 427.4 185.1Z"/><path fill="#fafafa" d="M427.4 186.0 426.6 186.8 426.6 187.8 426.7 188.8 426.8 189.8 427.4 189.9 427.4 189.9 428.0 189.8 428.1 188.8 428.2 187.8 428.2 186.8 427.4 186.0Z"/></g></g>
<rect x="406.60" y="276.40" width="2.50" height="17.90" fill="#e6e6e6" stroke="#b0b0b0" stroke-width="0.8"/>
<rect x="406.20" y="276.00" width="3.30" height="2.00" rx="0.9" fill="#adadad"/>
<rect x="446.40" y="276.40" width="2.50" height="17.90" fill="#e6e6e6" stroke="#b0b0b0" stroke-width="0.8"/>
<rect x="446.00" y="276.00" width="3.30" height="2.00" rx="0.9" fill="#adadad"/>
<text class="d" x="374.00" y="296.35" font-size="5.60" text-anchor="end">0</text>
<line x1="376.00" y1="294.30" x2="377.50" y2="294.30" stroke="#999" stroke-width="0.6"/>
<text class="d" x="374.00" y="284.40" font-size="5.60" text-anchor="end">1</text>
<line x1="376.00" y1="282.35" x2="377.50" y2="282.35" stroke="#999" stroke-width="0.6"/>
<text class="d" x="374.00" y="272.45" font-size="5.60" text-anchor="end">2</text>
<line x1="376.00" y1="270.40" x2="377.50" y2="270.40" stroke="#999" stroke-width="0.6"/>
<text class="d" x="374.00" y="260.50" font-size="5.60" text-anchor="end">3</text>
<line x1="376.00" y1="258.45" x2="377.50" y2="258.45" stroke="#999" stroke-width="0.6"/>
<text class="d" x="374.00" y="248.55" font-size="5.60" text-anchor="end">4</text>
<line x1="376.00" y1="246.50" x2="377.50" y2="246.50" stroke="#999" stroke-width="0.6"/>
<text class="d" x="374.00" y="236.60" font-size="5.60" text-anchor="end">5</text>
<line x1="376.00" y1="234.55" x2="377.50" y2="234.55" stroke="#999" stroke-width="0.6"/>
<text class="d" x="374.00" y="224.65" font-size="5.60" text-anchor="end">6</text>
<line x1="376.00" y1="222.60" x2="377.50" y2="222.60" stroke="#999" stroke-width="0.6"/>
<text class="d" x="374.00" y="212.70" font-size="5.60" text-anchor="end">7</text>
<line x1="376.00" y1="210.65" x2="377.50" y2="210.65" stroke="#999" stroke-width="0.6"/>
<text class="d" x="374.00" y="200.75" font-size="5.60" text-anchor="end">8</text>
<line x1="376.00" y1="198.70" x2="377.50" y2="198.70" stroke="#999" stroke-width="0.6"/>
<text class="d" x="374.00" y="188.80" font-size="5.60" text-anchor="end">9</text>
<line x1="376.00" y1="186.75" x2="377.50" y2="186.75" stroke="#999" stroke-width="0.6"/>
<text class="d" x="374.00" y="176.85" font-size="5.60" text-anchor="end">10</text>
<line x1="376.00" y1="174.80" x2="377.50" y2="174.80" stroke="#999" stroke-width="0.6"/>
<text class="d" x="390.20" y="309.55" font-size="5.60" text-anchor="middle">-4</text>
<line x1="390.20" y1="303.20" x2="390.20" y2="301.70" stroke="#999" stroke-width="0.6"/>
<line x1="390.20" y1="166.00" x2="390.20" y2="167.50" stroke="#999" stroke-width="0.6"/>
<text class="d" x="408.90" y="309.55" font-size="5.60" text-anchor="middle">-2</text>
<line x1="408.90" y1="303.20" x2="408.90" y2="301.70" stroke="#999" stroke-width="0.6"/>
<line x1="408.90" y1="166.00" x2="408.90" y2="167.50" stroke="#999" stroke-width="0.6"/>
<text class="d" x="427.60" y="309.55" font-size="5.60" text-anchor="middle">0</text>
<line x1="427.60" y1="303.20" x2="427.60" y2="301.70" stroke="#999" stroke-width="0.6"/>
<line x1="427.60" y1="166.00" x2="427.60" y2="167.50" stroke="#999" stroke-width="0.6"/>
<text class="d" x="446.30" y="309.55" font-size="5.60" text-anchor="middle">2</text>
<line x1="446.30" y1="303.20" x2="446.30" y2="301.70" stroke="#999" stroke-width="0.6"/>
<line x1="446.30" y1="166.00" x2="446.30" y2="167.50" stroke="#999" stroke-width="0.6"/>
<text class="d" x="465.00" y="309.55" font-size="5.60" text-anchor="middle">4</text>
<line x1="465.00" y1="303.20" x2="465.00" y2="301.70" stroke="#999" stroke-width="0.6"/>
<line x1="465.00" y1="166.00" x2="465.00" y2="167.50" stroke="#999" stroke-width="0.6"/>
<text x="428.20" y="319.10" font-size="8" font-weight="bold" fill="#1a1a1a" stroke="#1a1a1a" stroke-width="0.2" text-anchor="middle"><tspan font-style="italic">r</tspan> (mm)</text>
<text transform="translate(356.30 239.05) rotate(-90)" font-size="8" font-weight="bold" fill="#1a1a1a" stroke="#1a1a1a" stroke-width="0.2" text-anchor="middle"><tspan font-style="italic">z</tspan> (mm)</text>
<rect x="486.90" y="181.20" width="4.20" height="126.20" fill="url(#cb)"/>
<text class="d" x="492.80" y="284.36" font-size="5.80">0.5</text>
<text class="d" x="492.80" y="259.22" font-size="5.80">1</text>
<text class="d" x="492.80" y="234.08" font-size="5.80">1.5</text>
<text class="d" x="492.80" y="208.94" font-size="5.80">2</text>
<text class="d" x="492.80" y="183.80" font-size="5.80">2.5</text>
<path d="M483.40 171.10 L488.60 171.10 L486.00 167.00 Z" fill="#111"/>
<text class="d" x="491.20" y="171.60" font-size="5.55">2.51×10<tspan font-size="3.4" dy="-3.0">21</tspan></text>
<text class="d" x="491.20" y="178.10" font-size="5.4">×10<tspan font-size="3.4" dy="-3.0">21</tspan></text>
<path d="M483.80 312.60 L489.00 312.60 L486.40 316.60 Z" fill="#111"/>
<text class="d" x="491.70" y="316.50" font-size="5.4">5.21×10<tspan font-size="3.4" dy="-3.0">11</tspan></text>
<text x="397.40" y="191.60" font-size="8.3" font-weight="bold" fill="#f0f0ff">O</text>
</svg></body></html>
